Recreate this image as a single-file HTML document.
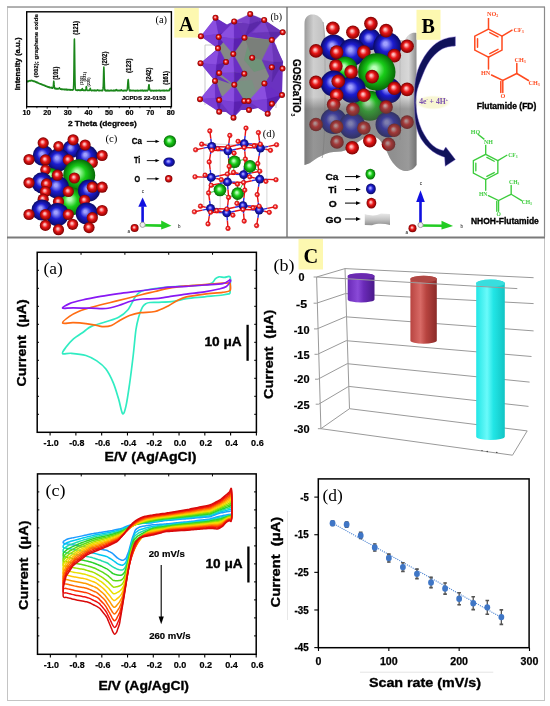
<!DOCTYPE html>
<html><head><meta charset="utf-8"><title>GOS/CaTiO3 figure</title>
<style>html,body{margin:0;padding:0;background:#fff;width:550px;height:706px;overflow:hidden}svg{display:block}</style>
</head><body>
<svg width="550" height="706" viewBox="0 0 550 706"><defs><radialGradient id="g_blue" cx="0.5" cy="0.5" r="0.5" fx="0.42" fy="0.4"><stop offset="0" stop-color="#a0a0ff"/><stop offset="0.12" stop-color="#a0a0ff"/><stop offset="0.5" stop-color="#1c1cd0"/><stop offset="1" stop-color="#0a0a64"/></radialGradient><radialGradient id="g_red" cx="0.5" cy="0.5" r="0.5" fx="0.42" fy="0.4"><stop offset="0" stop-color="#ffc0c0"/><stop offset="0.12" stop-color="#ffc0c0"/><stop offset="0.5" stop-color="#e81616"/><stop offset="1" stop-color="#7a0000"/></radialGradient><radialGradient id="g_green" cx="0.5" cy="0.5" r="0.5" fx="0.42" fy="0.4"><stop offset="0" stop-color="#b8ffb8"/><stop offset="0.12" stop-color="#b8ffb8"/><stop offset="0.5" stop-color="#18cc18"/><stop offset="1" stop-color="#066806"/></radialGradient><radialGradient id="g_gray" cx="0.5" cy="0.5" r="0.5" fx="0.42" fy="0.4"><stop offset="0" stop-color="#ffffff"/><stop offset="0.12" stop-color="#ffffff"/><stop offset="0.5" stop-color="#c8c8c8"/><stop offset="1" stop-color="#707070"/></radialGradient><linearGradient id="g_sheet" x1="0" y1="0" x2="1" y2="0"><stop offset="0" stop-color="#9a9a9a"/><stop offset="0.08" stop-color="#cfcfcf"/><stop offset="0.2" stop-color="#bdbdbd"/><stop offset="0.8" stop-color="#c4c4c4"/><stop offset="0.93" stop-color="#d8d8d8"/><stop offset="1" stop-color="#8a8a8a"/></linearGradient><linearGradient id="g_sheet2" x1="0" y1="0" x2="0" y2="1"><stop offset="0" stop-color="#b0b0b0" stop-opacity="0.0"/><stop offset="0.15" stop-color="#a8a8a8" stop-opacity="0.55"/><stop offset="1" stop-color="#9a9a9a" stop-opacity="0.7"/></linearGradient><linearGradient id="g_ov" gradientUnits="userSpaceOnUse" x1="0" y1="97" x2="0" y2="109"><stop offset="0" stop-color="#5c5c5c" stop-opacity="0"/><stop offset="1" stop-color="#5c5c5c" stop-opacity="0.5"/></linearGradient><linearGradient id="g_go" x1="0" y1="0" x2="0" y2="1"><stop offset="0" stop-color="#e8e8e8"/><stop offset="0.5" stop-color="#c4c4c4"/><stop offset="1" stop-color="#909090"/></linearGradient><radialGradient id="g_ell"><stop offset="0" stop-color="#f8f6d0"/><stop offset="0.75" stop-color="#f8f6d4"/><stop offset="1" stop-color="#fbfae8" stop-opacity="0"/></radialGradient><linearGradient id="cyl1" x1="0" y1="0" x2="1" y2="0"><stop offset="0" stop-color="#6a2ab8"/><stop offset="0.38" stop-color="#8a4ad8"/><stop offset="0.6" stop-color="#6a2ab8"/><stop offset="1" stop-color="#4a1a8a"/></linearGradient><linearGradient id="cyl2" x1="0" y1="0" x2="1" y2="0"><stop offset="0" stop-color="#b84440"/><stop offset="0.38" stop-color="#d86a66"/><stop offset="0.6" stop-color="#b84440"/><stop offset="1" stop-color="#8a2a28"/></linearGradient><linearGradient id="cyl3" x1="0" y1="0" x2="1" y2="0"><stop offset="0" stop-color="#22e6e6"/><stop offset="0.38" stop-color="#6afafa"/><stop offset="0.6" stop-color="#22e6e6"/><stop offset="1" stop-color="#12c4c4"/></linearGradient></defs><rect x="0" y="0" width="550" height="706" fill="#fff"/>
<path d="M26.6 81.64 L26.72 81.79 L26.85 81.64 L26.97 81.74 L27.09 81.72 L27.22 81.34 L27.34 81.27 L27.47 81.72 L27.59 81.34 L27.71 81.28 L27.84 81.7 L27.96 81.34 L28.08 81.52 L28.21 81.27 L28.33 81.32 L28.45 80.99 L28.58 81.24 L28.7 81.34 L28.82 81.09 L28.95 81.18 L29.07 81.1 L29.2 80.7 L29.32 81.07 L29.44 80.93 L29.57 80.72 L29.69 80.52 L29.81 81 L29.94 80.75 L30.06 80.88 L30.18 80.96 L30.31 80.84 L30.43 80.94 L30.56 80.61 L30.68 80.84 L30.8 80.6 L30.93 80.88 L31.05 80.83 L31.17 80.34 L31.3 80.35 L31.42 80.38 L31.54 80.81 L31.67 80.47 L31.79 80.59 L31.91 80.43 L32.04 80.6 L32.16 80.56 L32.29 80.58 L32.41 80.76 L32.53 80.8 L32.66 81.04 L32.78 80.94 L32.9 81.13 L33.03 81.13 L33.15 81.25 L33.27 81.1 L33.4 80.83 L33.52 81.29 L33.65 81.39 L33.77 81.4 L33.89 81.23 L34.02 81.36 L34.14 81.1 L34.26 81.51 L34.39 81.4 L34.51 81.26 L34.63 81.17 L34.76 81.69 L34.88 81.81 L35 81.33 L35.13 81.81 L35.25 81.63 L35.38 81.52 L35.5 81.66 L35.62 82 L35.75 82.12 L35.87 81.68 L35.99 82.07 L36.12 81.78 L36.24 82.24 L36.36 82.06 L36.49 82.45 L36.61 82.56 L36.74 82.33 L36.86 82.68 L36.98 82.32 L37.11 82.24 L37.23 82.6 L37.35 82.32 L37.48 82.47 L37.6 82.65 L37.72 82.83 L37.85 82.61 L37.97 82.59 L38.09 83.14 L38.22 82.86 L38.34 83.31 L38.47 83.32 L38.59 83.06 L38.71 83.17 L38.84 83.26 L38.96 83.39 L39.08 83.41 L39.21 83.44 L39.33 83.53 L39.45 83.77 L39.58 83.56 L39.7 83.57 L39.83 83.8 L39.95 83.56 L40.07 83.65 L40.2 84.11 L40.32 83.88 L40.44 83.95 L40.57 83.68 L40.69 83.98 L40.81 84.13 L40.94 83.84 L41.06 84.25 L41.18 84.32 L41.31 84.02 L41.43 84.42 L41.56 84.37 L41.68 84.55 L41.8 84.41 L41.93 84.67 L42.05 84.74 L42.17 84.36 L42.3 84.43 L42.42 84.85 L42.54 85.07 L42.67 84.69 L42.79 84.86 L42.92 84.99 L43.04 84.88 L43.16 84.95 L43.29 84.97 L43.41 85.05 L43.53 85.23 L43.66 85.1 L43.78 85.2 L43.9 85.48 L44.03 85.08 L44.15 85.46 L44.27 85.61 L44.4 85.4 L44.52 85.39 L44.65 85.79 L44.77 85.5 L44.89 85.52 L45.02 85.71 L45.14 85.92 L45.26 85.61 L45.39 85.79 L45.51 85.84 L45.63 86.19 L45.76 86 L45.88 86.3 L46.01 85.94 L46.13 86.09 L46.25 86.32 L46.38 86.51 L46.5 86.3 L46.62 86.21 L46.75 86.2 L46.87 86.49 L46.99 86.33 L47.12 86.75 L47.24 86.82 L47.36 86.46 L47.49 86.56 L47.61 86.91 L47.74 86.85 L47.86 86.99 L47.98 86.75 L48.11 86.66 L48.23 86.8 L48.35 87.14 L48.48 86.86 L48.6 86.94 L48.72 87.03 L48.85 87.07 L48.97 87.1 L49.1 87.44 L49.22 87.02 L49.34 86.97 L49.47 87.57 L49.59 87.57 L49.71 87.68 L49.84 87.38 L49.96 87.73 L50.08 87.76 L50.21 87.36 L50.33 87.7 L50.45 87.78 L50.58 87.7 L50.7 87.64 L50.83 87.53 L50.95 87.58 L51.07 87.54 L51.2 87.47 L51.32 87.81 L51.44 87.65 L51.57 87.99 L51.69 87.56 L51.81 88.1 L51.94 88 L52.06 88.16 L52.19 88.17 L52.31 88.2 L52.43 88.03 L52.56 87.71 L52.68 88.16 L52.8 87.8 L52.93 87.78 L53.05 87.73 L53.17 87.06 L53.3 85.98 L53.42 84.86 L53.54 83.08 L53.67 81.64 L53.79 81.11 L53.92 82.01 L54.04 83.1 L54.16 84.92 L54.29 86.14 L54.41 87.12 L54.53 87.95 L54.66 88.45 L54.78 88.21 L54.9 88.65 L55.03 88.76 L55.15 88.72 L55.28 88.76 L55.4 88.3 L55.52 88.69 L55.65 88.84 L55.77 88.37 L55.89 88.51 L56.02 88.53 L56.14 88.69 L56.26 88.65 L56.39 88.69 L56.51 88.89 L56.63 88.43 L56.76 88.48 L56.88 88.54 L57.01 88.55 L57.13 88.53 L57.25 89.09 L57.38 89.03 L57.5 88.58 L57.62 88.85 L57.75 88.75 L57.87 88.76 L57.99 88.8 L58.12 88.99 L58.24 88.96 L58.37 88.84 L58.49 88.74 L58.61 88.81 L58.74 88.65 L58.86 88.83 L58.98 88.78 L59.11 88.39 L59.23 87.98 L59.35 87.82 L59.48 87.81 L59.6 87.94 L59.72 88.17 L59.85 88.15 L59.97 88.66 L60.1 88.79 L60.22 88.86 L60.34 88.95 L60.47 89.11 L60.59 89.28 L60.71 89.14 L60.84 89.32 L60.96 89.19 L61.08 89.07 L61.21 89.25 L61.33 89.36 L61.46 88.99 L61.58 89.21 L61.7 89.22 L61.83 89.5 L61.95 89.54 L62.07 89.22 L62.2 89.54 L62.32 89.48 L62.44 89.17 L62.57 89.3 L62.69 89.11 L62.81 89.53 L62.94 89.45 L63.06 89.59 L63.19 89.55 L63.31 89.48 L63.43 89.53 L63.56 89.44 L63.68 89.17 L63.8 89.47 L63.93 89.13 L64.05 89.22 L64.17 89.61 L64.3 89.18 L64.42 89.21 L64.55 89.23 L64.67 89.7 L64.79 89.29 L64.92 89.21 L65.04 89.71 L65.16 89.28 L65.29 89.73 L65.41 89.63 L65.53 89.74 L65.66 89.82 L65.78 89.6 L65.9 89.74 L66.03 89.3 L66.15 89.74 L66.28 89.6 L66.4 89.73 L66.52 89.37 L66.65 89.77 L66.77 89.89 L66.89 89.37 L67.02 89.54 L67.14 89.69 L67.26 89.86 L67.39 89.52 L67.51 89.49 L67.64 89.54 L67.76 89.77 L67.88 89.86 L68.01 89.65 L68.13 89.64 L68.25 89.66 L68.38 89.64 L68.5 89.68 L68.62 89.49 L68.75 89.75 L68.87 90.04 L68.99 89.71 L69.12 89.91 L69.24 89.57 L69.37 89.89 L69.49 89.94 L69.61 89.89 L69.74 89.8 L69.86 89.79 L69.98 89.89 L70.11 90.05 L70.23 89.61 L70.35 89.58 L70.48 89.98 L70.6 90.09 L70.73 89.85 L70.85 89.81 L70.97 89.99 L71.1 89.67 L71.22 89.73 L71.34 89.69 L71.47 89.93 L71.59 89.77 L71.71 89.73 L71.84 90.01 L71.96 90.17 L72.08 89.79 L72.21 90.04 L72.33 89.87 L72.46 90.14 L72.58 89.98 L72.7 89.8 L72.83 89.77 L72.95 89.65 L73.07 89.9 L73.2 89.74 L73.32 89.3 L73.44 88.58 L73.57 86.67 L73.69 83.23 L73.82 76.57 L73.94 68.07 L74.06 56.97 L74.19 46.78 L74.31 39.91 L74.43 39.08 L74.56 44.14 L74.68 53.42 L74.8 64.31 L74.93 74.25 L75.05 81.56 L75.17 85.8 L75.3 88.42 L75.42 89.67 L75.55 89.83 L75.67 89.85 L75.79 89.91 L75.92 90.22 L76.04 90.2 L76.16 90.38 L76.29 90.32 L76.41 89.96 L76.53 89.94 L76.66 89.99 L76.78 89.95 L76.91 90.26 L77.03 90.36 L77.15 90.39 L77.28 90.01 L77.4 90.39 L77.52 90.06 L77.65 90.13 L77.77 90.32 L77.89 89.94 L78.02 89.95 L78.14 90.4 L78.26 90.08 L78.39 90.12 L78.51 90.26 L78.64 90.32 L78.76 89.92 L78.88 90.12 L79.01 90.18 L79.13 90.21 L79.25 90.05 L79.38 90.28 L79.5 90.5 L79.62 90.16 L79.75 90.26 L79.87 90.01 L80 90.1 L80.12 90.34 L80.24 90.01 L80.37 90.48 L80.49 90.49 L80.61 90.01 L80.74 90.52 L80.86 90.18 L80.98 90.42 L81.11 90.41 L81.23 90.13 L81.35 90.35 L81.48 90.3 L81.6 90.28 L81.73 89.75 L81.85 89.71 L81.97 89.44 L82.1 88.92 L82.22 88.7 L82.34 88.59 L82.47 89.16 L82.59 89.49 L82.71 90.04 L82.84 90.23 L82.96 90.27 L83.09 90.09 L83.21 90.38 L83.33 90.38 L83.46 90.11 L83.58 90.54 L83.7 90.4 L83.83 90.09 L83.95 90.57 L84.07 90.1 L84.2 90.22 L84.32 90.45 L84.44 90.38 L84.57 90.36 L84.69 90.42 L84.82 90.31 L84.94 90.22 L85.06 90.14 L85.19 90.08 L85.31 90.46 L85.43 90.47 L85.56 90.27 L85.68 90.21 L85.8 89.6 L85.93 88.89 L86.05 88.08 L86.18 87.51 L86.3 86.52 L86.42 86.91 L86.55 87.41 L86.67 88.63 L86.79 89.21 L86.92 89.76 L87.04 90.12 L87.16 90.33 L87.29 90.52 L87.41 90.29 L87.53 90.59 L87.66 90.15 L87.78 90.25 L87.91 90.15 L88.03 90.16 L88.15 90.56 L88.28 90.53 L88.4 90.21 L88.52 90.22 L88.65 90.35 L88.77 90.55 L88.89 90.6 L89.02 90.56 L89.14 90.47 L89.27 90.2 L89.39 90.33 L89.51 90.16 L89.64 90.23 L89.76 89.99 L89.88 89.36 L90.01 88.89 L90.13 88.77 L90.25 88.15 L90.38 88.79 L90.5 89.28 L90.62 89.82 L90.75 89.9 L90.87 90.27 L91 90.42 L91.12 90.51 L91.24 90.74 L91.37 90.57 L91.49 90.34 L91.61 90.68 L91.74 90.46 L91.86 90.53 L91.98 90.61 L92.11 90.17 L92.23 90.64 L92.36 90.57 L92.48 90.47 L92.6 90.5 L92.73 90.46 L92.85 90.3 L92.97 90.51 L93.1 90.21 L93.22 90.49 L93.34 90.58 L93.47 90.46 L93.59 90.54 L93.71 90.78 L93.84 90.74 L93.96 90.29 L94.09 90.69 L94.21 90.59 L94.33 90.25 L94.46 90.43 L94.58 90.36 L94.7 90.27 L94.83 90.55 L94.95 90.79 L95.07 90.42 L95.2 90.75 L95.32 90.65 L95.45 90.32 L95.57 90.75 L95.69 90.6 L95.82 90.8 L95.94 90.68 L96.06 90.69 L96.19 90.46 L96.31 90.73 L96.43 90.8 L96.56 90.75 L96.68 90.48 L96.8 90.63 L96.93 90.41 L97.05 90.11 L97.18 89.98 L97.3 89.9 L97.42 89.88 L97.55 89.8 L97.67 89.98 L97.79 90.13 L97.92 90.1 L98.04 90.12 L98.16 90.36 L98.29 90.25 L98.41 90.43 L98.54 90.67 L98.66 90.49 L98.78 90.38 L98.91 90.83 L99.03 90.73 L99.15 90.52 L99.28 90.52 L99.4 90.62 L99.52 90.66 L99.65 90.43 L99.77 90.3 L99.89 90.43 L100.02 90.77 L100.14 90.39 L100.27 90.58 L100.39 90.42 L100.51 90.43 L100.64 90.4 L100.76 90.54 L100.88 90.4 L101.01 90.32 L101.13 90.37 L101.25 90.4 L101.38 90.59 L101.5 90.34 L101.63 90.31 L101.75 90.57 L101.87 90.54 L102 90.72 L102.12 90.33 L102.24 90.54 L102.37 90.54 L102.49 90.3 L102.61 90.83 L102.74 90.28 L102.86 89.93 L102.98 89.49 L103.11 87.92 L103.23 85.75 L103.36 81.86 L103.48 76.98 L103.6 72.03 L103.73 68.66 L103.85 66.97 L103.97 68.7 L104.1 72.28 L104.22 77.47 L104.34 81.84 L104.47 85.52 L104.59 87.98 L104.72 89.69 L104.84 90.25 L104.96 90.36 L105.09 90.31 L105.21 90.7 L105.33 90.88 L105.46 90.65 L105.58 90.3 L105.7 90.32 L105.83 90.35 L105.95 90.4 L106.07 90.32 L106.2 90.33 L106.32 90.69 L106.45 90.84 L106.57 90.42 L106.69 90.88 L106.82 90.59 L106.94 90.78 L107.06 90.85 L107.19 90.86 L107.31 90.32 L107.43 90.48 L107.56 90.66 L107.68 90.87 L107.81 90.35 L107.93 90.48 L108.05 90.81 L108.18 90.37 L108.3 90.53 L108.42 90.5 L108.55 90.71 L108.67 90.86 L108.79 90.4 L108.92 90.74 L109.04 90.74 L109.16 90.8 L109.29 90.63 L109.41 90.85 L109.54 90.52 L109.66 90.55 L109.78 90.44 L109.91 90.77 L110.03 90.59 L110.15 90.46 L110.28 90.4 L110.4 90.73 L110.52 90.66 L110.65 90.73 L110.77 90.53 L110.9 90.59 L111.02 90.39 L111.14 90.73 L111.27 90.31 L111.39 90.58 L111.51 90.76 L111.64 90.71 L111.76 90.36 L111.88 90.44 L112.01 90.81 L112.13 90.69 L112.25 90.83 L112.38 90.82 L112.5 90.57 L112.63 90.84 L112.75 90.74 L112.87 90.5 L113 90.52 L113.12 90.34 L113.24 90.54 L113.37 90.87 L113.49 90.36 L113.61 90.64 L113.74 90.37 L113.86 90.35 L113.99 90.69 L114.11 90.44 L114.23 90.33 L114.36 90.39 L114.48 90.69 L114.6 90.65 L114.73 90.3 L114.85 90.43 L114.97 90.87 L115.1 90.4 L115.22 90.58 L115.34 90.44 L115.47 90.58 L115.59 90.37 L115.72 90.35 L115.84 90.06 L115.96 89.73 L116.09 89.64 L116.21 89.55 L116.33 90.03 L116.46 89.69 L116.58 89.76 L116.7 90.46 L116.83 90.13 L116.95 90.65 L117.08 90.24 L117.2 90.52 L117.32 90.4 L117.45 90.78 L117.57 90.66 L117.69 90.68 L117.82 90.76 L117.94 90.82 L118.06 90.51 L118.19 90.66 L118.31 90.57 L118.43 90.37 L118.56 90.8 L118.68 90.66 L118.81 90.79 L118.93 90.42 L119.05 90.62 L119.18 90.58 L119.3 90.74 L119.42 90.35 L119.55 90.51 L119.67 90.59 L119.79 90.34 L119.92 90.63 L120.04 90.73 L120.17 90.54 L120.29 90.66 L120.41 90.61 L120.54 90.33 L120.66 90.34 L120.78 90.65 L120.91 90.15 L121.03 90.11 L121.15 89.81 L121.28 89.84 L121.4 89.8 L121.52 90.3 L121.65 90.25 L121.77 90.44 L121.9 90.61 L122.02 90.47 L122.14 90.74 L122.27 90.55 L122.39 90.51 L122.51 90.85 L122.64 90.83 L122.76 90.87 L122.88 90.59 L123.01 90.76 L123.13 90.54 L123.26 90.9 L123.38 90.85 L123.5 90.48 L123.63 90.86 L123.75 90.41 L123.87 90.36 L124 90.73 L124.12 90.48 L124.24 90.61 L124.37 90.68 L124.49 90.32 L124.61 90.75 L124.74 90.47 L124.86 90.56 L124.99 90.51 L125.11 90.75 L125.23 90.75 L125.36 90.47 L125.48 90.36 L125.6 90.48 L125.73 90.55 L125.85 90.35 L125.97 90.39 L126.1 90.76 L126.22 90.72 L126.35 90.88 L126.47 90.88 L126.59 90.81 L126.72 90.48 L126.84 90.28 L126.96 90.23 L127.09 90.03 L127.21 89.57 L127.33 88.77 L127.46 87.47 L127.58 86.21 L127.7 84.05 L127.83 82.3 L127.95 80.99 L128.08 79.98 L128.2 79.53 L128.32 80.2 L128.45 81.94 L128.57 83.25 L128.69 85.19 L128.82 87.09 L128.94 88.41 L129.06 89.12 L129.19 89.65 L129.31 90.08 L129.44 90.61 L129.56 90.51 L129.68 90.86 L129.81 90.76 L129.93 90.88 L130.05 90.32 L130.18 90.41 L130.3 90.31 L130.42 90.56 L130.55 90.5 L130.67 90.33 L130.79 90.63 L130.92 90.36 L131.04 90.49 L131.17 90.45 L131.29 90.78 L131.41 90.55 L131.54 90.46 L131.66 90.33 L131.78 90.56 L131.91 90.68 L132.03 90.71 L132.15 90.85 L132.28 90.79 L132.4 90.45 L132.53 90.38 L132.65 90.75 L132.77 90.77 L132.9 90.61 L133.02 90.8 L133.14 90.63 L133.27 90.47 L133.39 90.4 L133.51 90.31 L133.64 90.69 L133.76 90.84 L133.88 90.84 L134.01 90.58 L134.13 90.7 L134.26 90.86 L134.38 90.79 L134.5 90.66 L134.63 90.55 L134.75 90.61 L134.87 90.4 L135 90.41 L135.12 90.71 L135.24 90.9 L135.37 90.63 L135.49 90.54 L135.62 90.51 L135.74 90.57 L135.86 90.78 L135.99 90.57 L136.11 90.88 L136.23 90.39 L136.36 90.49 L136.48 90.61 L136.6 90.55 L136.73 90.81 L136.85 90.8 L136.97 90.86 L137.1 90.67 L137.22 90.32 L137.35 90.64 L137.47 90.63 L137.59 90.59 L137.72 90.47 L137.84 90.73 L137.96 90.85 L138.09 90.36 L138.21 90.7 L138.33 90.52 L138.46 90.61 L138.58 90.84 L138.71 90.88 L138.83 90.69 L138.95 90.42 L139.08 90.85 L139.2 90.41 L139.32 90.53 L139.45 90.8 L139.57 90.49 L139.69 90.46 L139.82 90.87 L139.94 90.87 L140.06 90.49 L140.19 90.54 L140.31 90.47 L140.44 90.38 L140.56 90.45 L140.68 90.89 L140.81 90.35 L140.93 90.44 L141.05 90.42 L141.18 90.35 L141.3 90.62 L141.42 90.75 L141.55 90.8 L141.67 90.68 L141.8 90.79 L141.92 90.3 L142.04 90.47 L142.17 90.88 L142.29 90.34 L142.41 90.46 L142.54 90.59 L142.66 90.46 L142.78 90.63 L142.91 90.33 L143.03 90.44 L143.15 90.87 L143.28 90.39 L143.4 90.84 L143.53 90.41 L143.65 90.9 L143.77 90.7 L143.9 90.69 L144.02 90.39 L144.14 90.33 L144.27 90.76 L144.39 90.41 L144.51 90.41 L144.64 90.79 L144.76 90.82 L144.89 90.33 L145.01 90.88 L145.13 90.62 L145.26 90.53 L145.38 90.36 L145.5 90.53 L145.63 90.89 L145.75 90.47 L145.87 90.38 L146 90.39 L146.12 90.38 L146.24 90.51 L146.37 90.85 L146.49 90.35 L146.62 90.42 L146.74 90.86 L146.86 90.9 L146.99 90.89 L147.11 90.45 L147.23 90.51 L147.36 90.87 L147.48 90.58 L147.6 90.7 L147.73 90.43 L147.85 90.17 L147.98 90.19 L148.1 90.12 L148.22 89.62 L148.35 88.74 L148.47 87.7 L148.59 86.65 L148.72 85.57 L148.84 84.89 L148.96 84.8 L149.09 84.69 L149.21 85.66 L149.33 86.89 L149.46 87.93 L149.58 88.5 L149.71 89.73 L149.83 90.17 L149.95 90.08 L150.08 90.31 L150.2 90.36 L150.32 90.31 L150.45 90.88 L150.57 90.54 L150.69 90.82 L150.82 90.37 L150.94 90.31 L151.07 90.82 L151.19 90.78 L151.31 90.89 L151.44 90.71 L151.56 90.62 L151.68 90.76 L151.81 90.36 L151.93 90.62 L152.05 90.56 L152.18 90.39 L152.3 90.66 L152.42 90.49 L152.55 90.6 L152.67 90.52 L152.8 90.49 L152.92 90.52 L153.04 90.66 L153.17 90.89 L153.29 90.86 L153.41 90.82 L153.54 90.8 L153.66 90.47 L153.78 90.89 L153.91 90.46 L154.03 90.37 L154.16 90.6 L154.28 90.74 L154.4 90.5 L154.53 90.69 L154.65 90.47 L154.77 90.88 L154.9 90.57 L155.02 90.59 L155.14 90.62 L155.27 90.82 L155.39 90.89 L155.51 90.62 L155.64 90.56 L155.76 90.67 L155.89 90.34 L156.01 90.56 L156.13 90.81 L156.26 90.77 L156.38 90.34 L156.5 90.81 L156.63 90.53 L156.75 90.89 L156.87 90.52 L157 90.43 L157.12 90.63 L157.25 90.83 L157.37 90.56 L157.49 90.82 L157.62 90.73 L157.74 90.52 L157.86 90.48 L157.99 90.6 L158.11 90.54 L158.23 90.52 L158.36 90.69 L158.48 90.83 L158.6 90.65 L158.73 90.39 L158.85 90.43 L158.98 90.52 L159.1 90.67 L159.22 90.38 L159.35 90.35 L159.47 90.49 L159.59 90.47 L159.72 90.32 L159.84 90.62 L159.96 90.85 L160.09 90.62 L160.21 90.74 L160.34 90.8 L160.46 90.8 L160.58 90.85 L160.71 90.56 L160.83 90.71 L160.95 90.37 L161.08 90.83 L161.2 90.53 L161.32 90.59 L161.45 90.83 L161.57 90.47 L161.69 90.41 L161.82 90.79 L161.94 90.66 L162.07 90.35 L162.19 90.32 L162.31 90.51 L162.44 90.3 L162.56 90.8 L162.68 90.41 L162.81 90.46 L162.93 90.53 L163.05 90.61 L163.18 90.56 L163.3 90.68 L163.43 90.7 L163.55 90.56 L163.67 90.36 L163.8 90.89 L163.92 90.71 L164.04 90.35 L164.17 90.57 L164.29 90.75 L164.41 90.9 L164.54 90.34 L164.66 90.31 L164.78 90.59 L164.91 90.55 L165.03 90.84 L165.16 90.8 L165.28 90.5 L165.4 90.55 L165.53 90.65 L165.65 90.83 L165.77 90.42 L165.9 90.54 L166.02 90.35 L166.14 90.68 L166.27 90.32 L166.39 90.86 L166.52 90.61 L166.64 90.64 L166.76 90.35 L166.89 90.44 L167.01 90.58 L167.13 90.81 L167.26 90.62 L167.38 90.47 L167.5 90.89 L167.63 90.7 L167.75 90.62 L167.87 90.42 L168 90.48 L168.12 90.84 L168.25 90.38 L168.37 90.62 L168.49 90.67 L168.62 90.51 L168.74 90.76 L168.86 90.84 L168.99 90.8 L169.11 90.71 L169.23 90.35 L169.36 90.17 L169.48 90.21 L169.61 89.86 L169.73 89.4 L169.85 89.36 L169.98 88.55 L170.1 88.65 L170.22 88.68 L170.35 88.39 L170.47 89.24 L170.59 89.38 L170.72 89.68" fill="none" stroke="#1a861a" stroke-width="1.5" stroke-linejoin="round"/>
<rect x="26.7" y="11.8" width="144.7" height="94.9" fill="none" stroke="#000" stroke-width="1.4"/>
<line x1="26.6" y1="106.7" x2="26.6" y2="108.7" stroke="#000" stroke-width="1"/>
<line x1="36.9" y1="106.7" x2="36.9" y2="108.2" stroke="#000" stroke-width="0.8"/>
<text x="26.6" y="115.4" font-size="6.4" font-family='"Liberation Sans", Arial, sans-serif' font-weight="bold" fill="#000" text-anchor="middle" textLength="8" lengthAdjust="spacingAndGlyphs" stroke="#000" stroke-width="0.2">10</text>
<line x1="47.2" y1="106.7" x2="47.2" y2="108.7" stroke="#000" stroke-width="1"/>
<line x1="57.5" y1="106.7" x2="57.5" y2="108.2" stroke="#000" stroke-width="0.8"/>
<text x="47.2" y="115.4" font-size="6.4" font-family='"Liberation Sans", Arial, sans-serif' font-weight="bold" fill="#000" text-anchor="middle" textLength="8" lengthAdjust="spacingAndGlyphs" stroke="#000" stroke-width="0.2">20</text>
<line x1="67.8" y1="106.7" x2="67.8" y2="108.7" stroke="#000" stroke-width="1"/>
<line x1="78.1" y1="106.7" x2="78.1" y2="108.2" stroke="#000" stroke-width="0.8"/>
<text x="67.8" y="115.4" font-size="6.4" font-family='"Liberation Sans", Arial, sans-serif' font-weight="bold" fill="#000" text-anchor="middle" textLength="8" lengthAdjust="spacingAndGlyphs" stroke="#000" stroke-width="0.2">30</text>
<line x1="88.4" y1="106.7" x2="88.4" y2="108.7" stroke="#000" stroke-width="1"/>
<line x1="98.7" y1="106.7" x2="98.7" y2="108.2" stroke="#000" stroke-width="0.8"/>
<text x="88.4" y="115.4" font-size="6.4" font-family='"Liberation Sans", Arial, sans-serif' font-weight="bold" fill="#000" text-anchor="middle" textLength="8" lengthAdjust="spacingAndGlyphs" stroke="#000" stroke-width="0.2">40</text>
<line x1="109" y1="106.7" x2="109" y2="108.7" stroke="#000" stroke-width="1"/>
<line x1="119.3" y1="106.7" x2="119.3" y2="108.2" stroke="#000" stroke-width="0.8"/>
<text x="109" y="115.4" font-size="6.4" font-family='"Liberation Sans", Arial, sans-serif' font-weight="bold" fill="#000" text-anchor="middle" textLength="8" lengthAdjust="spacingAndGlyphs" stroke="#000" stroke-width="0.2">50</text>
<line x1="129.6" y1="106.7" x2="129.6" y2="108.7" stroke="#000" stroke-width="1"/>
<line x1="139.9" y1="106.7" x2="139.9" y2="108.2" stroke="#000" stroke-width="0.8"/>
<text x="129.6" y="115.4" font-size="6.4" font-family='"Liberation Sans", Arial, sans-serif' font-weight="bold" fill="#000" text-anchor="middle" textLength="8" lengthAdjust="spacingAndGlyphs" stroke="#000" stroke-width="0.2">60</text>
<line x1="150.2" y1="106.7" x2="150.2" y2="108.7" stroke="#000" stroke-width="1"/>
<line x1="160.5" y1="106.7" x2="160.5" y2="108.2" stroke="#000" stroke-width="0.8"/>
<text x="150.2" y="115.4" font-size="6.4" font-family='"Liberation Sans", Arial, sans-serif' font-weight="bold" fill="#000" text-anchor="middle" textLength="8" lengthAdjust="spacingAndGlyphs" stroke="#000" stroke-width="0.2">70</text>
<line x1="170.8" y1="106.7" x2="170.8" y2="108.7" stroke="#000" stroke-width="1"/>
<text x="170.8" y="115.4" font-size="6.4" font-family='"Liberation Sans", Arial, sans-serif' font-weight="bold" fill="#000" text-anchor="middle" textLength="8" lengthAdjust="spacingAndGlyphs" stroke="#000" stroke-width="0.2">80</text>
<text x="67.9" y="126" font-size="7.8" font-family='"Liberation Sans", Arial, sans-serif' font-weight="bold" fill="#000" textLength="69" lengthAdjust="spacingAndGlyphs" stroke="#000" stroke-width="0.3">2 Theta (degrees)</text>
<text x="20.3" y="90.3" font-size="8" font-family='"Liberation Sans", Arial, sans-serif' font-weight="bold" fill="#000" textLength="52.9" lengthAdjust="spacingAndGlyphs" transform="rotate(-90 20.3 90.3)" stroke="#000" stroke-width="0.3">Intensity (a.u.)</text>
<text x="37.6" y="77.5" font-size="5.8" font-family='"Liberation Sans", Arial, sans-serif' font-weight="bold" fill="#000" textLength="63.5" lengthAdjust="spacingAndGlyphs" transform="rotate(-90 37.6 77.5)" stroke="#000" stroke-width="0.15">(002); graphene oxide</text>
<text x="57.6" y="79.8" font-size="6.4" font-family='"Liberation Sans", Arial, sans-serif' font-weight="bold" fill="#000" textLength="13.1" lengthAdjust="spacingAndGlyphs" transform="rotate(-90 57.6 79.8)" stroke="#000" stroke-width="0.2">(101)</text>
<text x="77.7" y="34.7" font-size="6.4" font-family='"Liberation Sans", Arial, sans-serif' font-weight="bold" fill="#000" textLength="13.7" lengthAdjust="spacingAndGlyphs" transform="rotate(-90 77.7 34.7)" stroke="#000" stroke-width="0.2">(121)</text>
<text x="107" y="65.5" font-size="6.4" font-family='"Liberation Sans", Arial, sans-serif' font-weight="bold" fill="#000" textLength="13.9" lengthAdjust="spacingAndGlyphs" transform="rotate(-90 107 65.5)" stroke="#000" stroke-width="0.2">(202)</text>
<text x="131.4" y="73" font-size="6.4" font-family='"Liberation Sans", Arial, sans-serif' font-weight="bold" fill="#000" textLength="14.5" lengthAdjust="spacingAndGlyphs" transform="rotate(-90 131.4 73)" stroke="#000" stroke-width="0.2">(123)</text>
<text x="151.5" y="81.7" font-size="6.4" font-family='"Liberation Sans", Arial, sans-serif' font-weight="bold" fill="#000" textLength="14.2" lengthAdjust="spacingAndGlyphs" transform="rotate(-90 151.5 81.7)" stroke="#000" stroke-width="0.2">(242)</text>
<text x="168.5" y="84.8" font-size="6.4" font-family='"Liberation Sans", Arial, sans-serif' font-weight="bold" fill="#000" textLength="13.8" lengthAdjust="spacingAndGlyphs" transform="rotate(-90 168.5 84.8)" stroke="#000" stroke-width="0.2">(161)</text>
<text x="82.5" y="85" font-size="3.8" font-family='"Liberation Sans", Arial, sans-serif' font-weight="bold" fill="#000" textLength="9" lengthAdjust="spacingAndGlyphs" transform="rotate(-90 82.5 85)">(102)</text>
<text x="86" y="81.5" font-size="3.8" font-family='"Liberation Sans", Arial, sans-serif' font-weight="bold" fill="#000" textLength="9.5" lengthAdjust="spacingAndGlyphs" transform="rotate(-90 86 81.5)">(031)</text>
<text x="90.3" y="86.5" font-size="3.8" font-family='"Liberation Sans", Arial, sans-serif' font-weight="bold" fill="#000" textLength="9" lengthAdjust="spacingAndGlyphs" transform="rotate(-90 90.3 86.5)">(220)</text>
<text x="121.7" y="99.5" font-size="5.9" font-family='"Liberation Sans", Arial, sans-serif' font-weight="bold" fill="#000" textLength="44.3" lengthAdjust="spacingAndGlyphs" stroke="#000" stroke-width="0.2">JCPDS 22-0153</text>
<text x="155.5" y="23" font-size="9.5" font-family='"Liberation Serif", "Times New Roman", serif' font-weight="normal" fill="#000" textLength="11.5" lengthAdjust="spacingAndGlyphs">(a)</text>
<rect x="174.3" y="7.5" width="24.5" height="30.1" fill="#fdf8b0"/>
<text x="179" y="30.8" font-size="21.5" font-family='"Liberation Serif", "Times New Roman", serif' font-weight="bold" fill="#000" textLength="14.6" lengthAdjust="spacingAndGlyphs">A</text>
<path d="M205 45 L205 105 M276 45 L276 108 M205 45 L276 45" stroke="#bbb" stroke-width="0.8" fill="none"/>
<path d="M215.5 17.7 L227 24.5 L233.8 21 L240.5 25 L250.2 14 L258.5 21.5 L264 19.7 L282.7 32.3 L274 41 L283 62 L282 95.1 L267.7 113.8 L258 108 L249 110 L241 110 L233.5 117.7 L226 112 L219.2 111.8 L200 99.2 L215 80.9 L200.5 63.2 L218 48.3 L200.9 36.3 Z" fill="#6a32c0"/>
<path d="M221 38 L244.5 36 L272 40 L273 70 L265 83 L258 101 L245 101 L234 86 L219 76 L218 48 Z" fill="#858985"/>
<path d="M248 44 L268 48 L268 68 L254 72 L244 60 Z" fill="#5f9a6f" opacity="0.55"/>
<path d="M228 82 L252 80 L258 98 L238 100 Z" fill="#6f9a80" opacity="0.5"/>
<path d="M244.5 37.7 L272 40 L262 60 L252.2 57.7 Z" fill="#7a7f7a"/>
<path d="M216 79 L234 85 L234 93 L221 97 Z" fill="#858985"/>
<path d="M249.72 24.2 L250.2 14 L234.2 21.4 Z" fill="#7d45cc" stroke="#7d45cc" stroke-width="0.3"/>
<path d="M249.72 24.2 L250.2 14 L264 19.7 Z" fill="#6a35b8" stroke="#6a35b8" stroke-width="0.3"/>
<path d="M249.72 24.2 L244.5 37.7 L234.2 21.4 Z" fill="#6a35b8" stroke="#6a35b8" stroke-width="0.3"/>
<path d="M249.72 24.2 L244.5 37.7 L264 19.7 Z" fill="#5a28a8" stroke="#5a28a8" stroke-width="0.3"/>
<path d="M269.18 32.3 L264.2 19.9 L252 33 Z" fill="#7d45cc" stroke="#7d45cc" stroke-width="0.3"/>
<path d="M269.18 32.3 L264.2 19.9 L282.7 32.3 Z" fill="#6a35b8" stroke="#6a35b8" stroke-width="0.3"/>
<path d="M269.18 32.3 L271.8 40 L252 33 Z" fill="#6a35b8" stroke="#6a35b8" stroke-width="0.3"/>
<path d="M269.18 32.3 L271.8 40 L282.7 32.3 Z" fill="#5a28a8" stroke="#5a28a8" stroke-width="0.3"/>
<path d="M273.68 62 L271.8 40 L262 60 Z" fill="#7d45cc" stroke="#7d45cc" stroke-width="0.3"/>
<path d="M273.68 62 L271.8 40 L283 62 Z" fill="#6a35b8" stroke="#6a35b8" stroke-width="0.3"/>
<path d="M273.68 62 L271.9 82 L262 60 Z" fill="#6a35b8" stroke="#6a35b8" stroke-width="0.3"/>
<path d="M273.68 62 L271.9 82 L283 62 Z" fill="#5a28a8" stroke="#5a28a8" stroke-width="0.3"/>
<path d="M218.47 34.08 L215.5 17.7 L200.9 36.3 Z" fill="#8a4ee0" stroke="#8a4ee0" stroke-width="0.3"/>
<path d="M218.47 34.08 L215.5 17.7 L233.5 30 Z" fill="#6a2ec4" stroke="#6a2ec4" stroke-width="0.3"/>
<path d="M218.47 34.08 L218 48.3 L200.9 36.3 Z" fill="#7a3ed4" stroke="#7a3ed4" stroke-width="0.3"/>
<path d="M218.47 34.08 L218 48.3 L233.5 30 Z" fill="#5a20b0" stroke="#5a20b0" stroke-width="0.3"/>
<path d="M216.62 64.67 L219 48.6 L200.5 63.2 Z" fill="#8a4ee0" stroke="#8a4ee0" stroke-width="0.3"/>
<path d="M216.62 64.67 L219 48.6 L226 62 Z" fill="#6a2ec4" stroke="#6a2ec4" stroke-width="0.3"/>
<path d="M216.62 64.67 L215 80.9 L200.5 63.2 Z" fill="#7a3ed4" stroke="#7a3ed4" stroke-width="0.3"/>
<path d="M216.62 64.67 L215 80.9 L226 62 Z" fill="#5a20b0" stroke="#5a20b0" stroke-width="0.3"/>
<path d="M215.43 98 L215 80.9 L200 99.3 Z" fill="#8a4ee0" stroke="#8a4ee0" stroke-width="0.3"/>
<path d="M215.43 98 L215 80.9 L221.5 96 Z" fill="#6a2ec4" stroke="#6a2ec4" stroke-width="0.3"/>
<path d="M215.43 98 L219.2 111.8 L200 99.3 Z" fill="#7a3ed4" stroke="#7a3ed4" stroke-width="0.3"/>
<path d="M215.43 98 L219.2 111.8 L221.5 96 Z" fill="#5a20b0" stroke="#5a20b0" stroke-width="0.3"/>
<path d="M267.15 99.32 L264.4 83.4 L248.5 101 Z" fill="#8a4ee0" stroke="#8a4ee0" stroke-width="0.3"/>
<path d="M267.15 99.32 L264.4 83.4 L282 95.1 Z" fill="#6a2ec4" stroke="#6a2ec4" stroke-width="0.3"/>
<path d="M267.15 99.32 L267.7 113.8 L248.5 101 Z" fill="#7a3ed4" stroke="#7a3ed4" stroke-width="0.3"/>
<path d="M267.15 99.32 L267.7 113.8 L282 95.1 Z" fill="#5a20b0" stroke="#5a20b0" stroke-width="0.3"/>
<path d="M234.18 38.53 L234.2 21.4 L218.7 37 Z" fill="#8a4ee0" stroke="#8a4ee0" stroke-width="0.3"/>
<path d="M234.18 38.53 L234.2 21.4 L244.5 37.7 Z" fill="#6a2ec4" stroke="#6a2ec4" stroke-width="0.3"/>
<path d="M234.18 38.53 L233.3 54 L218.7 37 Z" fill="#7a3ed4" stroke="#7a3ed4" stroke-width="0.3"/>
<path d="M234.18 38.53 L233.3 54 L244.5 37.7 Z" fill="#5a20b0" stroke="#5a20b0" stroke-width="0.3"/>
<path d="M234.27 72.35 L233.3 54 L219.2 73 Z" fill="#8a4ee0" stroke="#8a4ee0" stroke-width="0.3"/>
<path d="M234.27 72.35 L233.3 54 L244.3 73.7 Z" fill="#6a2ec4" stroke="#6a2ec4" stroke-width="0.3"/>
<path d="M234.27 72.35 L234.3 84.7 L219.2 73 Z" fill="#7a3ed4" stroke="#7a3ed4" stroke-width="0.3"/>
<path d="M234.27 72.35 L234.3 84.7 L244.3 73.7 Z" fill="#5a20b0" stroke="#5a20b0" stroke-width="0.3"/>
<path d="M234.32 101.88 L234.3 84.7 L219.2 100.1 Z" fill="#8a4ee0" stroke="#8a4ee0" stroke-width="0.3"/>
<path d="M234.32 101.88 L234.3 84.7 L244.3 101 Z" fill="#6a2ec4" stroke="#6a2ec4" stroke-width="0.3"/>
<path d="M234.32 101.88 L233.5 117.7 L219.2 100.1 Z" fill="#7a3ed4" stroke="#7a3ed4" stroke-width="0.3"/>
<path d="M234.32 101.88 L233.5 117.7 L244.3 101 Z" fill="#5a20b0" stroke="#5a20b0" stroke-width="0.3"/>
<circle cx="250.2" cy="14" r="3" fill="url(#g_red)"/>
<circle cx="215.5" cy="17.7" r="3" fill="url(#g_red)"/>
<circle cx="234.2" cy="21.4" r="3" fill="url(#g_red)"/>
<circle cx="264.2" cy="19.9" r="3" fill="url(#g_red)"/>
<circle cx="200.9" cy="36.3" r="3" fill="url(#g_red)"/>
<circle cx="218.7" cy="37" r="3" fill="url(#g_red)"/>
<circle cx="244.5" cy="37.7" r="3" fill="url(#g_red)"/>
<circle cx="271.8" cy="40" r="3" fill="url(#g_red)"/>
<circle cx="282.7" cy="32.3" r="3" fill="url(#g_red)"/>
<circle cx="218" cy="48.3" r="3" fill="url(#g_red)"/>
<circle cx="233.3" cy="54" r="3" fill="url(#g_red)"/>
<circle cx="252.2" cy="57.7" r="3" fill="url(#g_red)"/>
<circle cx="200.5" cy="63.2" r="3" fill="url(#g_red)"/>
<circle cx="226" cy="62" r="3" fill="url(#g_red)"/>
<circle cx="271.8" cy="67.2" r="3" fill="url(#g_red)"/>
<circle cx="282.5" cy="68.6" r="3" fill="url(#g_red)"/>
<circle cx="219.2" cy="73" r="3" fill="url(#g_red)"/>
<circle cx="244.3" cy="73.7" r="3" fill="url(#g_red)"/>
<circle cx="215" cy="80.9" r="3" fill="url(#g_red)"/>
<circle cx="234.3" cy="84.7" r="3" fill="url(#g_red)"/>
<circle cx="264.4" cy="83.4" r="3" fill="url(#g_red)"/>
<circle cx="200" cy="99.3" r="3" fill="url(#g_red)"/>
<circle cx="219.2" cy="100.1" r="3" fill="url(#g_red)"/>
<circle cx="244.3" cy="101" r="3" fill="url(#g_red)"/>
<circle cx="271.9" cy="103.8" r="3" fill="url(#g_red)"/>
<circle cx="282" cy="95.1" r="3" fill="url(#g_red)"/>
<circle cx="219.2" cy="111.8" r="3" fill="url(#g_red)"/>
<circle cx="249" cy="110" r="3" fill="url(#g_red)"/>
<circle cx="233.5" cy="117.7" r="3" fill="url(#g_red)"/>
<circle cx="267.7" cy="113.8" r="3" fill="url(#g_red)"/>
<circle cx="248.5" cy="101" r="3" fill="url(#g_red)"/>
<text x="270.5" y="19.5" font-size="9.5" font-family='"Liberation Serif", "Times New Roman", serif' font-weight="normal" fill="#000" textLength="11.5" lengthAdjust="spacingAndGlyphs">(b)</text>
<circle cx="71.5" cy="149" r="9" fill="url(#g_blue)"/>
<circle cx="73.1" cy="139.8" r="5.6" fill="url(#g_red)"/>
<circle cx="43.2" cy="155.5" r="10.5" fill="url(#g_blue)"/>
<circle cx="86.8" cy="156.6" r="11" fill="url(#g_blue)"/>
<circle cx="43.2" cy="142.9" r="5.6" fill="url(#g_red)"/>
<circle cx="85.1" cy="145" r="5.6" fill="url(#g_red)"/>
<circle cx="58.5" cy="159.9" r="11.5" fill="url(#g_blue)"/>
<circle cx="58.5" cy="146.2" r="5.2" fill="url(#g_red)"/>
<circle cx="29" cy="159.5" r="5.6" fill="url(#g_red)"/>
<circle cx="45.4" cy="159.9" r="5.6" fill="url(#g_red)"/>
<circle cx="68.3" cy="159.9" r="5.6" fill="url(#g_red)"/>
<circle cx="102.1" cy="155.5" r="5.6" fill="url(#g_red)"/>
<circle cx="92.3" cy="162.5" r="5.6" fill="url(#g_red)"/>
<circle cx="50.8" cy="176" r="8" fill="url(#g_green)"/>
<circle cx="45.4" cy="169.7" r="5.2" fill="url(#g_red)"/>
<circle cx="42" cy="182.8" r="10.5" fill="url(#g_blue)"/>
<circle cx="79.2" cy="175.2" r="16" fill="url(#g_green)"/>
<circle cx="71.5" cy="201.4" r="14" fill="url(#g_green)"/>
<circle cx="89" cy="190.5" r="11" fill="url(#g_blue)"/>
<circle cx="57.4" cy="187.2" r="11.5" fill="url(#g_blue)"/>
<circle cx="57.4" cy="175.2" r="5.6" fill="url(#g_red)"/>
<circle cx="74.4" cy="178" r="5.6" fill="url(#g_red)"/>
<circle cx="29" cy="182.8" r="5.6" fill="url(#g_red)"/>
<circle cx="46.5" cy="183.9" r="5.6" fill="url(#g_red)"/>
<circle cx="92.3" cy="187.2" r="5.6" fill="url(#g_red)"/>
<circle cx="102.1" cy="187.2" r="5.6" fill="url(#g_red)"/>
<circle cx="45.4" cy="191.5" r="5.6" fill="url(#g_red)"/>
<circle cx="68.3" cy="191.5" r="5.6" fill="url(#g_red)"/>
<circle cx="43.2" cy="199.2" r="5.6" fill="url(#g_red)"/>
<circle cx="58.5" cy="201.8" r="5.6" fill="url(#g_red)"/>
<circle cx="84.6" cy="200.3" r="5.6" fill="url(#g_red)"/>
<circle cx="42" cy="210" r="10.5" fill="url(#g_blue)"/>
<circle cx="86.8" cy="213.4" r="11" fill="url(#g_blue)"/>
<circle cx="57.4" cy="214.5" r="11.5" fill="url(#g_blue)"/>
<circle cx="29" cy="214.5" r="5.6" fill="url(#g_red)"/>
<circle cx="45.4" cy="214.5" r="5.6" fill="url(#g_red)"/>
<circle cx="68.3" cy="214.5" r="5.6" fill="url(#g_red)"/>
<circle cx="102.1" cy="210.5" r="5.6" fill="url(#g_red)"/>
<circle cx="92.3" cy="217.7" r="5.6" fill="url(#g_red)"/>
<circle cx="45.4" cy="225.4" r="5.6" fill="url(#g_red)"/>
<circle cx="58.5" cy="229.7" r="5.6" fill="url(#g_red)"/>
<circle cx="72.6" cy="224.3" r="5.6" fill="url(#g_red)"/>
<circle cx="89" cy="227.6" r="5.6" fill="url(#g_red)"/>
<text x="105.4" y="142" font-size="9.5" font-family='"Liberation Serif", "Times New Roman", serif' font-weight="normal" fill="#000" textLength="12" lengthAdjust="spacingAndGlyphs">(c)</text>
<text x="131.7" y="144.3" font-size="8.2" font-family='"Liberation Sans", Arial, sans-serif' font-weight="bold" fill="#000" textLength="10.1" lengthAdjust="spacingAndGlyphs" stroke="#000" stroke-width="0.3">Ca</text>
<text x="134" y="163.4" font-size="8.2" font-family='"Liberation Sans", Arial, sans-serif' font-weight="bold" fill="#000" textLength="6.3" lengthAdjust="spacingAndGlyphs" stroke="#000" stroke-width="0.3">Ti</text>
<text x="134.4" y="181.7" font-size="8.2" font-family='"Liberation Sans", Arial, sans-serif' font-weight="bold" fill="#000" textLength="5.6" lengthAdjust="spacingAndGlyphs" stroke="#000" stroke-width="0.3">O</text>
<path d="M146.8 141.4 L157 141.4" stroke="#000" stroke-width="0.9"/><path d="M155.5 139.8 L159.5 141.4 L155.5 143 Z" fill="#000"/>
<path d="M146.8 160.6 L157 160.6" stroke="#000" stroke-width="0.9"/><path d="M155.5 159 L159.5 160.6 L155.5 162.2 Z" fill="#000"/>
<path d="M146.8 178.8 L157 178.8" stroke="#000" stroke-width="0.9"/><path d="M155.5 177.2 L159.5 178.8 L155.5 180.4 Z" fill="#000"/>
<circle cx="169.9" cy="141.4" r="6.2" fill="url(#g_green)"/>
<ellipse cx="169.1" cy="162.1" rx="5.8" ry="4.7" fill="url(#g_blue)"/>
<circle cx="168.7" cy="178.8" r="3.7" fill="url(#g_red)"/>
<path d="M142.6 224.8 L142.6 206.28" stroke="#1010e0" stroke-width="2.6"/>
<path d="M138.3 206.76 L146.9 206.76 L142.6 197.5 Z" fill="#1010e0"/>
<path d="M143.6 225.3 L162.13 225.6" stroke="#22cc22" stroke-width="2.6"/>
<path d="M161.2 220.6 L161.2 229.4 L171.43 225.8 Z" fill="#22cc22"/>
<circle cx="142.6" cy="224.8" r="2.6" fill="#eee" stroke="#999" stroke-width="0.9"/>
<circle cx="134.6" cy="228" r="4" fill="url(#g_red)"/>
<text x="141.8" y="193.11" font-size="4.5" font-family='"Liberation Sans", Arial, sans-serif' font-weight="normal" fill="#000">c</text>
<text x="177.94" y="228" font-size="4.5" font-family='"Liberation Sans", Arial, sans-serif' font-weight="normal" fill="#000">b</text>
<text x="127.6" y="233.3" font-size="4.5" font-family='"Liberation Sans", Arial, sans-serif' font-weight="normal" fill="#000">a</text>
<path d="M203.8 143.6 L203.8 206 M266.9 146 L266.9 208 M220.2 150 L220.2 212 M203.8 143.6 L266.9 146" stroke="#c4c4c4" stroke-width="0.7" fill="none"/>
<line x1="234.5" y1="161.8" x2="245.4" y2="159.1" stroke="#30d040" stroke-width="1.0"/>
<line x1="234.5" y1="161.8" x2="234.1" y2="153.15" stroke="#30d040" stroke-width="1.0"/>
<line x1="234.5" y1="161.8" x2="229.2" y2="166.4" stroke="#30d040" stroke-width="1.0"/>
<line x1="234.5" y1="161.8" x2="227.4" y2="174" stroke="#30d040" stroke-width="1.0"/>
<line x1="234.5" y1="161.8" x2="233.5" y2="172.35" stroke="#30d040" stroke-width="1.0"/>
<line x1="250" y1="166.4" x2="245.4" y2="159.1" stroke="#30d040" stroke-width="1.0"/>
<line x1="250" y1="166.4" x2="257.8" y2="163.6" stroke="#30d040" stroke-width="1.0"/>
<line x1="250" y1="166.4" x2="259.8" y2="171.2" stroke="#30d040" stroke-width="1.0"/>
<line x1="250" y1="166.4" x2="249.7" y2="176.85" stroke="#30d040" stroke-width="1.0"/>
<line x1="220" y1="190" x2="221.3" y2="179.65" stroke="#30d040" stroke-width="1.0"/>
<line x1="220" y1="190" x2="208.6" y2="192.9" stroke="#30d040" stroke-width="1.0"/>
<line x1="220" y1="190" x2="211.2" y2="185.3" stroke="#30d040" stroke-width="1.0"/>
<line x1="220" y1="190" x2="228.6" y2="197.4" stroke="#30d040" stroke-width="1.0"/>
<line x1="237.6" y1="193.6" x2="244.8" y2="190.1" stroke="#30d040" stroke-width="1.0"/>
<line x1="237.6" y1="193.6" x2="243.6" y2="182.5" stroke="#30d040" stroke-width="1.0"/>
<line x1="237.6" y1="193.6" x2="237.5" y2="184.15" stroke="#30d040" stroke-width="1.0"/>
<line x1="237.6" y1="193.6" x2="228.6" y2="197.4" stroke="#30d040" stroke-width="1.0"/>
<line x1="237.6" y1="193.6" x2="236.9" y2="203.35" stroke="#30d040" stroke-width="1.0"/>
<path d="M211.8 146.4 L219.9 146.7" stroke="#2a2ae0" stroke-width="1.4"/><path d="M219.9 146.7 L228 147" stroke="#e81010" stroke-width="1.4"/>
<path d="M211.8 146.4 L203.7 148.1" stroke="#2a2ae0" stroke-width="1.4"/><path d="M203.7 148.1 L195.6 149.8" stroke="#e81010" stroke-width="1.4"/>
<path d="M211.8 146.4 L214.85 147.53" stroke="#2a2ae0" stroke-width="1.4"/><path d="M214.85 147.53 L217.9 148.65" stroke="#e81010" stroke-width="1.4"/>
<path d="M211.8 146.4 L206.75 145.28" stroke="#2a2ae0" stroke-width="1.4"/><path d="M206.75 145.28 L201.7 144.15" stroke="#e81010" stroke-width="1.4"/>
<path d="M211.8 146.4 L210.5 154.15" stroke="#2a2ae0" stroke-width="1.4"/><path d="M210.5 154.15 L209.2 161.9" stroke="#e81010" stroke-width="1.4"/>
<path d="M211.8 146.4 L210.8 138.65" stroke="#2a2ae0" stroke-width="1.4"/><path d="M210.8 138.65 L209.8 130.9" stroke="#e81010" stroke-width="1.4"/>
<path d="M244.2 143.6 L252.3 143.9" stroke="#2a2ae0" stroke-width="1.4"/><path d="M252.3 143.9 L260.4 144.2" stroke="#e81010" stroke-width="1.4"/>
<path d="M244.2 143.6 L236.1 145.3" stroke="#2a2ae0" stroke-width="1.4"/><path d="M236.1 145.3 L228 147" stroke="#e81010" stroke-width="1.4"/>
<path d="M244.2 143.6 L249.25 144.72" stroke="#2a2ae0" stroke-width="1.4"/><path d="M249.25 144.72 L254.3 145.85" stroke="#e81010" stroke-width="1.4"/>
<path d="M244.2 143.6 L241.15 142.47" stroke="#2a2ae0" stroke-width="1.4"/><path d="M241.15 142.47 L238.1 141.35" stroke="#e81010" stroke-width="1.4"/>
<path d="M244.2 143.6 L244.8 151.35" stroke="#2a2ae0" stroke-width="1.4"/><path d="M244.8 151.35 L245.4 159.1" stroke="#e81010" stroke-width="1.4"/>
<path d="M244.2 143.6 L245.1 135.85" stroke="#2a2ae0" stroke-width="1.4"/><path d="M245.1 135.85 L246 128.1" stroke="#e81010" stroke-width="1.4"/>
<path d="M228 150.9 L236.1 149.2" stroke="#2a2ae0" stroke-width="1.4"/><path d="M236.1 149.2 L244.2 147.5" stroke="#e81010" stroke-width="1.4"/>
<path d="M228 150.9 L219.9 150.6" stroke="#2a2ae0" stroke-width="1.4"/><path d="M219.9 150.6 L211.8 150.3" stroke="#e81010" stroke-width="1.4"/>
<path d="M228 150.9 L231.05 152.03" stroke="#2a2ae0" stroke-width="1.4"/><path d="M231.05 152.03 L234.1 153.15" stroke="#e81010" stroke-width="1.4"/>
<path d="M228 150.9 L222.95 149.78" stroke="#2a2ae0" stroke-width="1.4"/><path d="M222.95 149.78 L217.9 148.65" stroke="#e81010" stroke-width="1.4"/>
<path d="M228 150.9 L228.6 158.65" stroke="#2a2ae0" stroke-width="1.4"/><path d="M228.6 158.65 L229.2 166.4" stroke="#e81010" stroke-width="1.4"/>
<path d="M228 150.9 L228.9 143.15" stroke="#2a2ae0" stroke-width="1.4"/><path d="M228.9 143.15 L229.8 135.4" stroke="#e81010" stroke-width="1.4"/>
<path d="M260.4 148.1 L268.5 146.4" stroke="#2a2ae0" stroke-width="1.4"/><path d="M268.5 146.4 L276.6 144.7" stroke="#e81010" stroke-width="1.4"/>
<path d="M260.4 148.1 L252.3 147.8" stroke="#2a2ae0" stroke-width="1.4"/><path d="M252.3 147.8 L244.2 147.5" stroke="#e81010" stroke-width="1.4"/>
<path d="M260.4 148.1 L265.45 149.22" stroke="#2a2ae0" stroke-width="1.4"/><path d="M265.45 149.22 L270.5 150.35" stroke="#e81010" stroke-width="1.4"/>
<path d="M260.4 148.1 L257.35 146.97" stroke="#2a2ae0" stroke-width="1.4"/><path d="M257.35 146.97 L254.3 145.85" stroke="#e81010" stroke-width="1.4"/>
<path d="M260.4 148.1 L259.1 155.85" stroke="#2a2ae0" stroke-width="1.4"/><path d="M259.1 155.85 L257.8 163.6" stroke="#e81010" stroke-width="1.4"/>
<path d="M260.4 148.1 L259.4 140.35" stroke="#2a2ae0" stroke-width="1.4"/><path d="M259.4 140.35 L258.4 132.6" stroke="#e81010" stroke-width="1.4"/>
<path d="M211.2 177.4 L219.3 175.7" stroke="#2a2ae0" stroke-width="1.4"/><path d="M219.3 175.7 L227.4 174" stroke="#e81010" stroke-width="1.4"/>
<path d="M211.2 177.4 L203.1 177.1" stroke="#2a2ae0" stroke-width="1.4"/><path d="M203.1 177.1 L195 176.8" stroke="#e81010" stroke-width="1.4"/>
<path d="M211.2 177.4 L216.25 178.53" stroke="#2a2ae0" stroke-width="1.4"/><path d="M216.25 178.53 L221.3 179.65" stroke="#e81010" stroke-width="1.4"/>
<path d="M211.2 177.4 L208.15 176.28" stroke="#2a2ae0" stroke-width="1.4"/><path d="M208.15 176.28 L205.1 175.15" stroke="#e81010" stroke-width="1.4"/>
<path d="M211.2 177.4 L209.9 185.15" stroke="#2a2ae0" stroke-width="1.4"/><path d="M209.9 185.15 L208.6 192.9" stroke="#e81010" stroke-width="1.4"/>
<path d="M211.2 177.4 L210.2 169.65" stroke="#2a2ae0" stroke-width="1.4"/><path d="M210.2 169.65 L209.2 161.9" stroke="#e81010" stroke-width="1.4"/>
<path d="M243.6 174.6 L251.7 172.9" stroke="#2a2ae0" stroke-width="1.4"/><path d="M251.7 172.9 L259.8 171.2" stroke="#e81010" stroke-width="1.4"/>
<path d="M243.6 174.6 L235.5 174.3" stroke="#2a2ae0" stroke-width="1.4"/><path d="M235.5 174.3 L227.4 174" stroke="#e81010" stroke-width="1.4"/>
<path d="M243.6 174.6 L246.65 175.72" stroke="#2a2ae0" stroke-width="1.4"/><path d="M246.65 175.72 L249.7 176.85" stroke="#e81010" stroke-width="1.4"/>
<path d="M243.6 174.6 L238.55 173.47" stroke="#2a2ae0" stroke-width="1.4"/><path d="M238.55 173.47 L233.5 172.35" stroke="#e81010" stroke-width="1.4"/>
<path d="M243.6 174.6 L244.2 182.35" stroke="#2a2ae0" stroke-width="1.4"/><path d="M244.2 182.35 L244.8 190.1" stroke="#e81010" stroke-width="1.4"/>
<path d="M243.6 174.6 L244.5 166.85" stroke="#2a2ae0" stroke-width="1.4"/><path d="M244.5 166.85 L245.4 159.1" stroke="#e81010" stroke-width="1.4"/>
<path d="M227.4 181.9 L235.5 182.2" stroke="#2a2ae0" stroke-width="1.4"/><path d="M235.5 182.2 L243.6 182.5" stroke="#e81010" stroke-width="1.4"/>
<path d="M227.4 181.9 L219.3 183.6" stroke="#2a2ae0" stroke-width="1.4"/><path d="M219.3 183.6 L211.2 185.3" stroke="#e81010" stroke-width="1.4"/>
<path d="M227.4 181.9 L232.45 183.03" stroke="#2a2ae0" stroke-width="1.4"/><path d="M232.45 183.03 L237.5 184.15" stroke="#e81010" stroke-width="1.4"/>
<path d="M227.4 181.9 L224.35 180.78" stroke="#2a2ae0" stroke-width="1.4"/><path d="M224.35 180.78 L221.3 179.65" stroke="#e81010" stroke-width="1.4"/>
<path d="M227.4 181.9 L228 189.65" stroke="#2a2ae0" stroke-width="1.4"/><path d="M228 189.65 L228.6 197.4" stroke="#e81010" stroke-width="1.4"/>
<path d="M227.4 181.9 L228.3 174.15" stroke="#2a2ae0" stroke-width="1.4"/><path d="M228.3 174.15 L229.2 166.4" stroke="#e81010" stroke-width="1.4"/>
<path d="M259.8 179.1 L267.9 179.4" stroke="#2a2ae0" stroke-width="1.4"/><path d="M267.9 179.4 L276 179.7" stroke="#e81010" stroke-width="1.4"/>
<path d="M259.8 179.1 L251.7 180.8" stroke="#2a2ae0" stroke-width="1.4"/><path d="M251.7 180.8 L243.6 182.5" stroke="#e81010" stroke-width="1.4"/>
<path d="M259.8 179.1 L262.85 180.22" stroke="#2a2ae0" stroke-width="1.4"/><path d="M262.85 180.22 L265.9 181.35" stroke="#e81010" stroke-width="1.4"/>
<path d="M259.8 179.1 L254.75 177.97" stroke="#2a2ae0" stroke-width="1.4"/><path d="M254.75 177.97 L249.7 176.85" stroke="#e81010" stroke-width="1.4"/>
<path d="M259.8 179.1 L258.5 186.85" stroke="#2a2ae0" stroke-width="1.4"/><path d="M258.5 186.85 L257.2 194.6" stroke="#e81010" stroke-width="1.4"/>
<path d="M259.8 179.1 L258.8 171.35" stroke="#2a2ae0" stroke-width="1.4"/><path d="M258.8 171.35 L257.8 163.6" stroke="#e81010" stroke-width="1.4"/>
<path d="M210.6 208.4 L218.7 208.7" stroke="#2a2ae0" stroke-width="1.4"/><path d="M218.7 208.7 L226.8 209" stroke="#e81010" stroke-width="1.4"/>
<path d="M210.6 208.4 L202.5 210.1" stroke="#2a2ae0" stroke-width="1.4"/><path d="M202.5 210.1 L194.4 211.8" stroke="#e81010" stroke-width="1.4"/>
<path d="M210.6 208.4 L213.65 209.53" stroke="#2a2ae0" stroke-width="1.4"/><path d="M213.65 209.53 L216.7 210.65" stroke="#e81010" stroke-width="1.4"/>
<path d="M210.6 208.4 L205.55 207.28" stroke="#2a2ae0" stroke-width="1.4"/><path d="M205.55 207.28 L200.5 206.15" stroke="#e81010" stroke-width="1.4"/>
<path d="M210.6 208.4 L209.3 216.15" stroke="#2a2ae0" stroke-width="1.4"/><path d="M209.3 216.15 L208 223.9" stroke="#e81010" stroke-width="1.4"/>
<path d="M210.6 208.4 L209.6 200.65" stroke="#2a2ae0" stroke-width="1.4"/><path d="M209.6 200.65 L208.6 192.9" stroke="#e81010" stroke-width="1.4"/>
<path d="M243 205.6 L251.1 205.9" stroke="#2a2ae0" stroke-width="1.4"/><path d="M251.1 205.9 L259.2 206.2" stroke="#e81010" stroke-width="1.4"/>
<path d="M243 205.6 L234.9 207.3" stroke="#2a2ae0" stroke-width="1.4"/><path d="M234.9 207.3 L226.8 209" stroke="#e81010" stroke-width="1.4"/>
<path d="M243 205.6 L248.05 206.72" stroke="#2a2ae0" stroke-width="1.4"/><path d="M248.05 206.72 L253.1 207.85" stroke="#e81010" stroke-width="1.4"/>
<path d="M243 205.6 L239.95 204.47" stroke="#2a2ae0" stroke-width="1.4"/><path d="M239.95 204.47 L236.9 203.35" stroke="#e81010" stroke-width="1.4"/>
<path d="M243 205.6 L243.6 213.35" stroke="#2a2ae0" stroke-width="1.4"/><path d="M243.6 213.35 L244.2 221.1" stroke="#e81010" stroke-width="1.4"/>
<path d="M243 205.6 L243.9 197.85" stroke="#2a2ae0" stroke-width="1.4"/><path d="M243.9 197.85 L244.8 190.1" stroke="#e81010" stroke-width="1.4"/>
<path d="M226.8 212.9 L234.9 211.2" stroke="#2a2ae0" stroke-width="1.4"/><path d="M234.9 211.2 L243 209.5" stroke="#e81010" stroke-width="1.4"/>
<path d="M226.8 212.9 L218.7 212.6" stroke="#2a2ae0" stroke-width="1.4"/><path d="M218.7 212.6 L210.6 212.3" stroke="#e81010" stroke-width="1.4"/>
<path d="M226.8 212.9 L229.85 214.03" stroke="#2a2ae0" stroke-width="1.4"/><path d="M229.85 214.03 L232.9 215.15" stroke="#e81010" stroke-width="1.4"/>
<path d="M226.8 212.9 L221.75 211.78" stroke="#2a2ae0" stroke-width="1.4"/><path d="M221.75 211.78 L216.7 210.65" stroke="#e81010" stroke-width="1.4"/>
<path d="M226.8 212.9 L227.4 220.65" stroke="#2a2ae0" stroke-width="1.4"/><path d="M227.4 220.65 L228 228.4" stroke="#e81010" stroke-width="1.4"/>
<path d="M226.8 212.9 L227.7 205.15" stroke="#2a2ae0" stroke-width="1.4"/><path d="M227.7 205.15 L228.6 197.4" stroke="#e81010" stroke-width="1.4"/>
<path d="M259.2 210.1 L267.3 208.4" stroke="#2a2ae0" stroke-width="1.4"/><path d="M267.3 208.4 L275.4 206.7" stroke="#e81010" stroke-width="1.4"/>
<path d="M259.2 210.1 L251.1 209.8" stroke="#2a2ae0" stroke-width="1.4"/><path d="M251.1 209.8 L243 209.5" stroke="#e81010" stroke-width="1.4"/>
<path d="M259.2 210.1 L264.25 211.22" stroke="#2a2ae0" stroke-width="1.4"/><path d="M264.25 211.22 L269.3 212.35" stroke="#e81010" stroke-width="1.4"/>
<path d="M259.2 210.1 L256.15 208.97" stroke="#2a2ae0" stroke-width="1.4"/><path d="M256.15 208.97 L253.1 207.85" stroke="#e81010" stroke-width="1.4"/>
<path d="M259.2 210.1 L257.9 217.85" stroke="#2a2ae0" stroke-width="1.4"/><path d="M257.9 217.85 L256.6 225.6" stroke="#e81010" stroke-width="1.4"/>
<path d="M259.2 210.1 L258.2 202.35" stroke="#2a2ae0" stroke-width="1.4"/><path d="M258.2 202.35 L257.2 194.6" stroke="#e81010" stroke-width="1.4"/>
<circle cx="234.5" cy="161.8" r="6.3" fill="url(#g_green)"/>
<circle cx="250" cy="166.4" r="6.3" fill="url(#g_green)"/>
<circle cx="220" cy="190" r="6.3" fill="url(#g_green)"/>
<circle cx="237.6" cy="193.6" r="6.3" fill="url(#g_green)"/>
<circle cx="211.8" cy="146.4" r="4.4" fill="url(#g_blue)"/>
<circle cx="244.2" cy="143.6" r="4.4" fill="url(#g_blue)"/>
<circle cx="228" cy="150.9" r="4.4" fill="url(#g_blue)"/>
<circle cx="260.4" cy="148.1" r="4.4" fill="url(#g_blue)"/>
<circle cx="211.2" cy="177.4" r="4.4" fill="url(#g_blue)"/>
<circle cx="243.6" cy="174.6" r="4.4" fill="url(#g_blue)"/>
<circle cx="227.4" cy="181.9" r="4.4" fill="url(#g_blue)"/>
<circle cx="259.8" cy="179.1" r="4.4" fill="url(#g_blue)"/>
<circle cx="210.6" cy="208.4" r="4.4" fill="url(#g_blue)"/>
<circle cx="243" cy="205.6" r="4.4" fill="url(#g_blue)"/>
<circle cx="226.8" cy="212.9" r="4.4" fill="url(#g_blue)"/>
<circle cx="259.2" cy="210.1" r="4.4" fill="url(#g_blue)"/>
<circle cx="228" cy="147" r="2.3" fill="#f02020" stroke="#c00000" stroke-width="0.5"/><circle cx="227.7" cy="146.7" r="0.9" fill="#ffd0d0"/>
<circle cx="195.6" cy="149.8" r="2.3" fill="#f02020" stroke="#c00000" stroke-width="0.5"/><circle cx="195.3" cy="149.5" r="0.9" fill="#ffd0d0"/>
<circle cx="217.9" cy="148.65" r="2.3" fill="#f02020" stroke="#c00000" stroke-width="0.5"/><circle cx="217.6" cy="148.35" r="0.9" fill="#ffd0d0"/>
<circle cx="201.7" cy="144.15" r="2.3" fill="#f02020" stroke="#c00000" stroke-width="0.5"/><circle cx="201.4" cy="143.85" r="0.9" fill="#ffd0d0"/>
<circle cx="209.2" cy="161.9" r="2.3" fill="#f02020" stroke="#c00000" stroke-width="0.5"/><circle cx="208.9" cy="161.6" r="0.9" fill="#ffd0d0"/>
<circle cx="209.8" cy="130.9" r="2.3" fill="#f02020" stroke="#c00000" stroke-width="0.5"/><circle cx="209.5" cy="130.6" r="0.9" fill="#ffd0d0"/>
<circle cx="260.4" cy="144.2" r="2.3" fill="#f02020" stroke="#c00000" stroke-width="0.5"/><circle cx="260.1" cy="143.9" r="0.9" fill="#ffd0d0"/>
<circle cx="254.3" cy="145.85" r="2.3" fill="#f02020" stroke="#c00000" stroke-width="0.5"/><circle cx="254" cy="145.55" r="0.9" fill="#ffd0d0"/>
<circle cx="238.1" cy="141.35" r="2.3" fill="#f02020" stroke="#c00000" stroke-width="0.5"/><circle cx="237.8" cy="141.05" r="0.9" fill="#ffd0d0"/>
<circle cx="245.4" cy="159.1" r="2.3" fill="#f02020" stroke="#c00000" stroke-width="0.5"/><circle cx="245.1" cy="158.8" r="0.9" fill="#ffd0d0"/>
<circle cx="246" cy="128.1" r="2.3" fill="#f02020" stroke="#c00000" stroke-width="0.5"/><circle cx="245.7" cy="127.8" r="0.9" fill="#ffd0d0"/>
<circle cx="244.2" cy="147.5" r="2.3" fill="#f02020" stroke="#c00000" stroke-width="0.5"/><circle cx="243.9" cy="147.2" r="0.9" fill="#ffd0d0"/>
<circle cx="211.8" cy="150.3" r="2.3" fill="#f02020" stroke="#c00000" stroke-width="0.5"/><circle cx="211.5" cy="150" r="0.9" fill="#ffd0d0"/>
<circle cx="234.1" cy="153.15" r="2.3" fill="#f02020" stroke="#c00000" stroke-width="0.5"/><circle cx="233.8" cy="152.85" r="0.9" fill="#ffd0d0"/>
<circle cx="229.2" cy="166.4" r="2.3" fill="#f02020" stroke="#c00000" stroke-width="0.5"/><circle cx="228.9" cy="166.1" r="0.9" fill="#ffd0d0"/>
<circle cx="229.8" cy="135.4" r="2.3" fill="#f02020" stroke="#c00000" stroke-width="0.5"/><circle cx="229.5" cy="135.1" r="0.9" fill="#ffd0d0"/>
<circle cx="276.6" cy="144.7" r="2.3" fill="#f02020" stroke="#c00000" stroke-width="0.5"/><circle cx="276.3" cy="144.4" r="0.9" fill="#ffd0d0"/>
<circle cx="270.5" cy="150.35" r="2.3" fill="#f02020" stroke="#c00000" stroke-width="0.5"/><circle cx="270.2" cy="150.05" r="0.9" fill="#ffd0d0"/>
<circle cx="257.8" cy="163.6" r="2.3" fill="#f02020" stroke="#c00000" stroke-width="0.5"/><circle cx="257.5" cy="163.3" r="0.9" fill="#ffd0d0"/>
<circle cx="258.4" cy="132.6" r="2.3" fill="#f02020" stroke="#c00000" stroke-width="0.5"/><circle cx="258.1" cy="132.3" r="0.9" fill="#ffd0d0"/>
<circle cx="227.4" cy="174" r="2.3" fill="#f02020" stroke="#c00000" stroke-width="0.5"/><circle cx="227.1" cy="173.7" r="0.9" fill="#ffd0d0"/>
<circle cx="195" cy="176.8" r="2.3" fill="#f02020" stroke="#c00000" stroke-width="0.5"/><circle cx="194.7" cy="176.5" r="0.9" fill="#ffd0d0"/>
<circle cx="221.3" cy="179.65" r="2.3" fill="#f02020" stroke="#c00000" stroke-width="0.5"/><circle cx="221" cy="179.35" r="0.9" fill="#ffd0d0"/>
<circle cx="205.1" cy="175.15" r="2.3" fill="#f02020" stroke="#c00000" stroke-width="0.5"/><circle cx="204.8" cy="174.85" r="0.9" fill="#ffd0d0"/>
<circle cx="208.6" cy="192.9" r="2.3" fill="#f02020" stroke="#c00000" stroke-width="0.5"/><circle cx="208.3" cy="192.6" r="0.9" fill="#ffd0d0"/>
<circle cx="259.8" cy="171.2" r="2.3" fill="#f02020" stroke="#c00000" stroke-width="0.5"/><circle cx="259.5" cy="170.9" r="0.9" fill="#ffd0d0"/>
<circle cx="249.7" cy="176.85" r="2.3" fill="#f02020" stroke="#c00000" stroke-width="0.5"/><circle cx="249.4" cy="176.55" r="0.9" fill="#ffd0d0"/>
<circle cx="233.5" cy="172.35" r="2.3" fill="#f02020" stroke="#c00000" stroke-width="0.5"/><circle cx="233.2" cy="172.05" r="0.9" fill="#ffd0d0"/>
<circle cx="244.8" cy="190.1" r="2.3" fill="#f02020" stroke="#c00000" stroke-width="0.5"/><circle cx="244.5" cy="189.8" r="0.9" fill="#ffd0d0"/>
<circle cx="243.6" cy="182.5" r="2.3" fill="#f02020" stroke="#c00000" stroke-width="0.5"/><circle cx="243.3" cy="182.2" r="0.9" fill="#ffd0d0"/>
<circle cx="211.2" cy="185.3" r="2.3" fill="#f02020" stroke="#c00000" stroke-width="0.5"/><circle cx="210.9" cy="185" r="0.9" fill="#ffd0d0"/>
<circle cx="237.5" cy="184.15" r="2.3" fill="#f02020" stroke="#c00000" stroke-width="0.5"/><circle cx="237.2" cy="183.85" r="0.9" fill="#ffd0d0"/>
<circle cx="228.6" cy="197.4" r="2.3" fill="#f02020" stroke="#c00000" stroke-width="0.5"/><circle cx="228.3" cy="197.1" r="0.9" fill="#ffd0d0"/>
<circle cx="276" cy="179.7" r="2.3" fill="#f02020" stroke="#c00000" stroke-width="0.5"/><circle cx="275.7" cy="179.4" r="0.9" fill="#ffd0d0"/>
<circle cx="265.9" cy="181.35" r="2.3" fill="#f02020" stroke="#c00000" stroke-width="0.5"/><circle cx="265.6" cy="181.05" r="0.9" fill="#ffd0d0"/>
<circle cx="257.2" cy="194.6" r="2.3" fill="#f02020" stroke="#c00000" stroke-width="0.5"/><circle cx="256.9" cy="194.3" r="0.9" fill="#ffd0d0"/>
<circle cx="226.8" cy="209" r="2.3" fill="#f02020" stroke="#c00000" stroke-width="0.5"/><circle cx="226.5" cy="208.7" r="0.9" fill="#ffd0d0"/>
<circle cx="194.4" cy="211.8" r="2.3" fill="#f02020" stroke="#c00000" stroke-width="0.5"/><circle cx="194.1" cy="211.5" r="0.9" fill="#ffd0d0"/>
<circle cx="216.7" cy="210.65" r="2.3" fill="#f02020" stroke="#c00000" stroke-width="0.5"/><circle cx="216.4" cy="210.35" r="0.9" fill="#ffd0d0"/>
<circle cx="200.5" cy="206.15" r="2.3" fill="#f02020" stroke="#c00000" stroke-width="0.5"/><circle cx="200.2" cy="205.85" r="0.9" fill="#ffd0d0"/>
<circle cx="208" cy="223.9" r="2.3" fill="#f02020" stroke="#c00000" stroke-width="0.5"/><circle cx="207.7" cy="223.6" r="0.9" fill="#ffd0d0"/>
<circle cx="259.2" cy="206.2" r="2.3" fill="#f02020" stroke="#c00000" stroke-width="0.5"/><circle cx="258.9" cy="205.9" r="0.9" fill="#ffd0d0"/>
<circle cx="253.1" cy="207.85" r="2.3" fill="#f02020" stroke="#c00000" stroke-width="0.5"/><circle cx="252.8" cy="207.55" r="0.9" fill="#ffd0d0"/>
<circle cx="236.9" cy="203.35" r="2.3" fill="#f02020" stroke="#c00000" stroke-width="0.5"/><circle cx="236.6" cy="203.05" r="0.9" fill="#ffd0d0"/>
<circle cx="244.2" cy="221.1" r="2.3" fill="#f02020" stroke="#c00000" stroke-width="0.5"/><circle cx="243.9" cy="220.8" r="0.9" fill="#ffd0d0"/>
<circle cx="243" cy="209.5" r="2.3" fill="#f02020" stroke="#c00000" stroke-width="0.5"/><circle cx="242.7" cy="209.2" r="0.9" fill="#ffd0d0"/>
<circle cx="210.6" cy="212.3" r="2.3" fill="#f02020" stroke="#c00000" stroke-width="0.5"/><circle cx="210.3" cy="212" r="0.9" fill="#ffd0d0"/>
<circle cx="232.9" cy="215.15" r="2.3" fill="#f02020" stroke="#c00000" stroke-width="0.5"/><circle cx="232.6" cy="214.85" r="0.9" fill="#ffd0d0"/>
<circle cx="228" cy="228.4" r="2.3" fill="#f02020" stroke="#c00000" stroke-width="0.5"/><circle cx="227.7" cy="228.1" r="0.9" fill="#ffd0d0"/>
<circle cx="275.4" cy="206.7" r="2.3" fill="#f02020" stroke="#c00000" stroke-width="0.5"/><circle cx="275.1" cy="206.4" r="0.9" fill="#ffd0d0"/>
<circle cx="269.3" cy="212.35" r="2.3" fill="#f02020" stroke="#c00000" stroke-width="0.5"/><circle cx="269" cy="212.05" r="0.9" fill="#ffd0d0"/>
<circle cx="256.6" cy="225.6" r="2.3" fill="#f02020" stroke="#c00000" stroke-width="0.5"/><circle cx="256.3" cy="225.3" r="0.9" fill="#ffd0d0"/>
<text x="262.7" y="137" font-size="9.5" font-family='"Liberation Serif", "Times New Roman", serif' font-weight="normal" fill="#000" textLength="12.3" lengthAdjust="spacingAndGlyphs">(d)</text>
<path d="M304.5 24 C304.5 17 308 14.5 312.5 14.5 C317 14.5 321 17 323 22 L326 40 L405 40 C408 34 412 32 416.5 33 L416.5 165 C415.75 165.75 413.92 168.5 412 169.5 C410.08 170.5 407.33 171.25 405 171 C402.67 170.75 400.33 169.83 398 168 C395.67 166.17 393.17 163.33 391 160 C388.83 156.67 387.17 151.58 385 148 C382.83 144.42 380.83 140.42 378 138.5 C375.17 136.58 371.33 135.92 368 136.5 C364.67 137.08 361.83 139.67 358 142 C354.17 144.33 349.67 148.75 345 150.5 C340.33 152.25 334.5 151.33 330 152.5 C325.5 153.67 321.33 155.75 318 157.5 C314.67 159.25 312.25 161.75 310 163 C307.75 164.25 305.42 164.67 304.5 165 Z" fill="url(#g_sheet)"/>
<path d="M323 22 C326 30 326 150 322 158" stroke="#a8a8a8" stroke-width="1" fill="none"/>
<path d="M330 40 L330 140 M400 40 L400 140" stroke="#b5b5b5" stroke-width="0.8" fill="none"/>
<circle cx="369.8" cy="39.2" r="11" fill="url(#g_blue)"/>
<circle cx="370.9" cy="23.6" r="6.8" fill="url(#g_red)"/>
<circle cx="333.6" cy="47.4" r="13" fill="url(#g_blue)"/>
<circle cx="387.3" cy="46.2" r="14" fill="url(#g_blue)"/>
<circle cx="332.9" cy="28.2" r="6.8" fill="url(#g_red)"/>
<circle cx="386.1" cy="30.6" r="6.8" fill="url(#g_red)"/>
<circle cx="352.2" cy="52.1" r="13.5" fill="url(#g_blue)"/>
<circle cx="352.9" cy="32.2" r="6.8" fill="url(#g_red)"/>
<circle cx="345.2" cy="68.4" r="12" fill="url(#g_green)"/>
<circle cx="316" cy="50.9" r="6.8" fill="url(#g_red)"/>
<circle cx="336.6" cy="52.1" r="6.8" fill="url(#g_red)"/>
<circle cx="363.9" cy="52.1" r="6.8" fill="url(#g_red)"/>
<circle cx="394.3" cy="55.6" r="6.8" fill="url(#g_red)"/>
<circle cx="407.1" cy="46.2" r="6.8" fill="url(#g_red)"/>
<circle cx="335.9" cy="66.1" r="6.8" fill="url(#g_red)"/>
<circle cx="369.8" cy="105.8" r="15" fill="url(#g_green)"/>
<circle cx="333.6" cy="121" r="13" fill="url(#g_blue)"/>
<circle cx="388.5" cy="124.5" r="13" fill="url(#g_blue)"/>
<circle cx="352.2" cy="125.7" r="13" fill="url(#g_blue)"/>
<circle cx="316" cy="124.5" r="6.8" fill="url(#g_red)"/>
<circle cx="336.6" cy="126.8" r="6.8" fill="url(#g_red)"/>
<circle cx="363.9" cy="128" r="6.8" fill="url(#g_red)"/>
<circle cx="394.3" cy="130.3" r="6.8" fill="url(#g_red)"/>
<circle cx="407.1" cy="122.1" r="6.8" fill="url(#g_red)"/>
<circle cx="337" cy="142" r="6.8" fill="url(#g_red)"/>
<circle cx="388.5" cy="144.3" r="6.8" fill="url(#g_red)"/>
<circle cx="333.6" cy="83.6" r="13" fill="url(#g_blue)"/>
<circle cx="388.5" cy="90.6" r="13" fill="url(#g_blue)"/>
<circle cx="376.8" cy="71.9" r="18.7" fill="url(#g_green)"/>
<circle cx="352.2" cy="89.4" r="13.5" fill="url(#g_blue)"/>
<circle cx="351.1" cy="71.9" r="6.8" fill="url(#g_red)"/>
<circle cx="372.1" cy="76.6" r="6.8" fill="url(#g_red)"/>
<circle cx="316" cy="82.4" r="6.8" fill="url(#g_red)"/>
<circle cx="338.2" cy="81.3" r="6.8" fill="url(#g_red)"/>
<circle cx="336.6" cy="95.3" r="6.8" fill="url(#g_red)"/>
<circle cx="363.9" cy="95.3" r="6.8" fill="url(#g_red)"/>
<circle cx="394.3" cy="88.3" r="6.8" fill="url(#g_red)"/>
<circle cx="407.1" cy="89.4" r="6.8" fill="url(#g_red)"/>
<circle cx="333.6" cy="104.6" r="6.8" fill="url(#g_red)"/>
<circle cx="352.9" cy="109.3" r="6.8" fill="url(#g_red)"/>
<circle cx="386.1" cy="107" r="6.8" fill="url(#g_red)"/>
<path d="M304.5 97 L416.5 97 L416.5 165 C415.75 165.75 413.92 168.5 412 169.5 C410.08 170.5 407.33 171.25 405 171 C402.67 170.75 400.33 169.83 398 168 C395.67 166.17 393.17 163.33 391 160 C388.83 156.67 387.17 151.58 385 148 C382.83 144.42 380.83 140.42 378 138.5 C375.17 136.58 371.33 135.92 368 136.5 C364.67 137.08 361.83 139.67 358 142 C354.17 144.33 349.67 148.75 345 150.5 C340.33 152.25 334.5 151.33 330 152.5 C325.5 153.67 321.33 155.75 318 157.5 C314.67 159.25 312.25 161.75 310 163 C307.75 164.25 305.42 164.67 304.5 165 Z" fill="url(#g_ov)"/>
<circle cx="352.2" cy="147.8" r="6.8" fill="url(#g_red)"/>
<circle cx="369.8" cy="140.8" r="6.8" fill="url(#g_red)"/>
<text x="292.9" y="59" font-size="10.6" font-family='"Liberation Sans", Arial, sans-serif' font-weight="bold" fill="#000" textLength="53.6" lengthAdjust="spacingAndGlyphs" transform="rotate(90 292.9 59)" stroke="#000" stroke-width="0.3">GOS/CaTiO</text>
<text x="290.6" y="113.3" font-size="5.6" font-family='"Liberation Sans", Arial, sans-serif' font-weight="bold" fill="#000" transform="rotate(90 290.6 113.3)">3</text>
<rect x="416.5" y="9.8" width="24" height="30" fill="#fdf8b0"/>
<text x="421.6" y="32.5" font-size="21.5" font-family='"Liberation Serif", "Times New Roman", serif' font-weight="bold" fill="#000" textLength="13.4" lengthAdjust="spacingAndGlyphs">B</text>
<text x="325.5" y="180.2" font-size="9.8" font-family='"Liberation Sans", Arial, sans-serif' font-weight="bold" fill="#000" textLength="13" lengthAdjust="spacingAndGlyphs" stroke="#000" stroke-width="0.3">Ca</text>
<text x="328.3" y="193.2" font-size="9.8" font-family='"Liberation Sans", Arial, sans-serif' font-weight="bold" fill="#000" textLength="8.5" lengthAdjust="spacingAndGlyphs" stroke="#000" stroke-width="0.3">Ti</text>
<text x="328.7" y="206.7" font-size="9.8" font-family='"Liberation Sans", Arial, sans-serif' font-weight="bold" fill="#000" textLength="8" lengthAdjust="spacingAndGlyphs" stroke="#000" stroke-width="0.3">O</text>
<text x="325.5" y="222.6" font-size="9.8" font-family='"Liberation Sans", Arial, sans-serif' font-weight="bold" fill="#000" textLength="16" lengthAdjust="spacingAndGlyphs" stroke="#000" stroke-width="0.3">GO</text>
<path d="M345 176.6 L357.5 176.6" stroke="#000" stroke-width="1"/><path d="M356 174.7 L360.8 176.6 L356 178.5 Z" fill="#000"/>
<path d="M345 189.6 L357.5 189.6" stroke="#000" stroke-width="1"/><path d="M356 187.7 L360.8 189.6 L356 191.5 Z" fill="#000"/>
<path d="M345 203.1 L357.5 203.1" stroke="#000" stroke-width="1"/><path d="M356 201.2 L360.8 203.1 L356 205 Z" fill="#000"/>
<path d="M345 219 L357.5 219" stroke="#000" stroke-width="1"/><path d="M356 217.1 L360.8 219 L356 220.9 Z" fill="#000"/>
<ellipse cx="370.4" cy="174.1" rx="4.9" ry="5.4" fill="url(#g_green)"/>
<ellipse cx="370.9" cy="188.9" rx="4.9" ry="5.4" fill="url(#g_blue)"/>
<ellipse cx="371.4" cy="203.1" rx="4.9" ry="5.4" fill="url(#g_red)"/>
<path d="M364.8 214 C371 216 376 216 381 213.6 L390 214 L390 225 C384 223.5 378 223 372 225.2 L364.8 225 Z" fill="url(#g_go)"/>
<path d="M420.5 225 L420.5 201.44" stroke="#1010e0" stroke-width="2.6"/>
<path d="M416.2 202.06 L424.8 202.06 L420.5 190.28 Z" fill="#1010e0"/>
<path d="M421.5 225.5 L442.55 225.8" stroke="#22cc22" stroke-width="2.6"/>
<path d="M441.5 220.8 L441.5 229.6 L453.05 226 Z" fill="#22cc22"/>
<circle cx="420.5" cy="225" r="2.6" fill="#eee" stroke="#999" stroke-width="0.9"/>
<circle cx="412.5" cy="228.2" r="4" fill="url(#g_red)"/>
<text x="419.7" y="184.7" font-size="4.5" font-family='"Liberation Sans", Arial, sans-serif' font-weight="normal" fill="#000">c</text>
<text x="460.4" y="228.2" font-size="4.5" font-family='"Liberation Sans", Arial, sans-serif' font-weight="normal" fill="#000">b</text>
<text x="405.5" y="233.5" font-size="4.5" font-family='"Liberation Sans", Arial, sans-serif' font-weight="normal" fill="#000">a</text>
<path d="M455.4 36.7 C454.12 36.9 450.3 37.2 447.7 37.9 C445.1 38.6 442.28 39.57 439.8 40.9 C437.32 42.23 434.95 43.92 432.8 45.9 C430.65 47.88 428.72 50.32 426.9 52.8 C425.08 55.28 423.4 57.98 421.9 60.8 C420.4 63.62 418.97 66.57 417.9 69.7 C416.83 72.83 416.07 76.3 415.5 79.6 C414.93 82.9 414.7 86.1 414.5 89.5 C414.3 92.9 414.3 97 414.3 100 C414.3 103 414.32 104 414.5 107.5 C414.68 111 414.87 117.05 415.4 121 C415.93 124.95 416.6 127.98 417.7 131.2 C418.8 134.42 420.15 137.47 422 140.3 C423.85 143.13 426.35 145.93 428.8 148.2 C431.25 150.47 434.07 152.38 436.7 153.9 C439.33 155.42 443.28 156.73 444.6 157.3 L445.2 166.3 L455.4 159.6 L445.8 147.1 L443.5 150.5 C442.37 150.12 438.97 149.52 436.7 148.2 C434.43 146.88 431.97 144.87 429.9 142.6 C427.83 140.33 426 137.63 424.3 134.6 C422.6 131.57 420.98 128.17 419.7 124.4 C418.42 120.63 417.25 116.07 416.6 112 C415.95 107.93 415.67 103.75 415.8 100 C415.93 96.25 416.55 92.9 417.4 89.5 C418.25 86.1 419.65 82.9 420.9 79.6 C422.15 76.3 423.42 72.83 424.9 69.7 C426.38 66.57 427.98 63.45 429.8 60.8 C431.62 58.15 433.82 55.72 435.8 53.8 C437.78 51.88 439.72 50.45 441.7 49.3 C443.68 48.15 445.42 47.47 447.7 46.9 C449.98 46.33 454.12 46.07 455.4 45.9 Z" fill="#10125a" stroke="#8a70d8" stroke-width="0.6" stroke-opacity="0.7"/>
<ellipse cx="433" cy="102.5" rx="17.8" ry="7.4" fill="url(#g_ell)"/>
<text x="419.2" y="103.9" font-size="7.4" font-family='"Liberation Serif", "Times New Roman", serif' font-weight="bold" fill="#7a50b0" textLength="28.8" lengthAdjust="spacingAndGlyphs">4e<tspan font-size="3.6" dy="-2.6">-</tspan><tspan dy="2.6"> + 4H</tspan><tspan font-size="3.8" dy="-2.6">+</tspan></text>
<g stroke="#ff4a1f" stroke-width="1.5" fill="none" stroke-linecap="round"><path d="M488.5 29.1 L502 36.1 L502 50.1 L488.5 57.1 L474.8 50.1 L474.8 36.1 Z"/><path d="M489.78 32.57 L497.99 36.83"/><path d="M477.53 47.36 L477.53 38.84"/><path d="M497.99 49.37 L489.78 53.63"/><path d="M502 36.1 L512 30.2"/><path d="M488.5 57.1 L488.5 69"/><path d="M491.5 75 L502.8 80.5 L516.8 73.5 L516.8 63.6"/><path d="M516.8 73.5 L528.5 80.5"/><path d="M502.8 80.5 L502.8 92.5"/><path d="M500.8 81.5 L500.8 92.5"/></g>
<text x="513.5" y="32" font-size="6.2" font-family='"Liberation Serif", "Times New Roman", serif' font-weight="bold" fill="#ff4a1f">CF<tspan font-size="4" dy="1.3">3</tspan></text>
<text x="481" y="75.4" font-size="6.2" font-family='"Liberation Serif", "Times New Roman", serif' font-weight="bold" fill="#ff4a1f" textLength="9.3" lengthAdjust="spacingAndGlyphs">HN</text>
<text x="514.5" y="62" font-size="6.2" font-family='"Liberation Serif", "Times New Roman", serif' font-weight="bold" fill="#ff4a1f">CH<tspan font-size="4" dy="1.3">3</tspan></text>
<text x="528.5" y="84.5" font-size="6.2" font-family='"Liberation Serif", "Times New Roman", serif' font-weight="bold" fill="#ff4a1f">CH<tspan font-size="4" dy="1.3">3</tspan></text>
<text x="500.6" y="98.2" font-size="6.2" font-family='"Liberation Serif", "Times New Roman", serif' font-weight="bold" fill="#ff4a1f">O</text>
<path d="M488.5 29.1 L488.5 18" stroke="#ff4a1f" stroke-width="1.5"/>
<text x="487" y="15.8" font-size="6.2" font-family='"Liberation Serif", "Times New Roman", serif' font-weight="bold" fill="#ff4a1f">NO<tspan font-size="4" dy="1.3">2</tspan></text>
<text x="476.8" y="109.4" font-size="8.6" font-family='"Liberation Sans", Arial, sans-serif' font-weight="bold" fill="#000" textLength="59.5" lengthAdjust="spacingAndGlyphs" stroke="#000" stroke-width="0.35">Flutamide (FD)</text>
<g transform="translate(46.05 128.11) scale(0.9)">
<g stroke="#3ccc3c" stroke-width="1.5" fill="none" stroke-linecap="round"><path d="M488.5 29.1 L502 36.1 L502 50.1 L488.5 57.1 L474.8 50.1 L474.8 36.1 Z"/><path d="M489.78 32.57 L497.99 36.83"/><path d="M477.53 47.36 L477.53 38.84"/><path d="M497.99 49.37 L489.78 53.63"/><path d="M502 36.1 L512 30.2"/><path d="M488.5 57.1 L488.5 69"/><path d="M491.5 75 L502.8 80.5 L516.8 73.5 L516.8 63.6"/><path d="M516.8 73.5 L528.5 80.5"/><path d="M502.8 80.5 L502.8 92.5"/><path d="M500.8 81.5 L500.8 92.5"/></g>
<text x="513.5" y="32" font-size="6.2" font-family='"Liberation Serif", "Times New Roman", serif' font-weight="bold" fill="#3ccc3c">CF<tspan font-size="4" dy="1.3">3</tspan></text>
<text x="481" y="75.4" font-size="6.2" font-family='"Liberation Serif", "Times New Roman", serif' font-weight="bold" fill="#3ccc3c" textLength="9.3" lengthAdjust="spacingAndGlyphs">HN</text>
<text x="514.5" y="62" font-size="6.2" font-family='"Liberation Serif", "Times New Roman", serif' font-weight="bold" fill="#3ccc3c">CH<tspan font-size="4" dy="1.3">3</tspan></text>
<text x="528.5" y="84.5" font-size="6.2" font-family='"Liberation Serif", "Times New Roman", serif' font-weight="bold" fill="#3ccc3c">CH<tspan font-size="4" dy="1.3">3</tspan></text>
<text x="500.6" y="98.2" font-size="6.2" font-family='"Liberation Serif", "Times New Roman", serif' font-weight="bold" fill="#3ccc3c">O</text>
<path d="M488.5 29.1 L488.5 18.5 M487 12.5 L479.5 6.5" stroke="#3ccc3c" stroke-width="1.5" fill="none"/>
<text x="486.5" y="17.5" font-size="6.6" font-family='"Liberation Serif", "Times New Roman", serif' font-weight="bold" fill="#3ccc3c">NH</text>
<text x="472" y="7" font-size="6.6" font-family='"Liberation Serif", "Times New Roman", serif' font-weight="bold" fill="#3ccc3c">HO</text>
</g>
<text x="471" y="224" font-size="8.6" font-family='"Liberation Sans", Arial, sans-serif' font-weight="bold" fill="#000" textLength="67.8" lengthAdjust="spacingAndGlyphs" stroke="#000" stroke-width="0.35">NHOH-Flutamide</text>
<rect x="37.2" y="252.3" width="219.2" height="180" fill="none" stroke="#000" stroke-width="1.5"/>
<line x1="50.09" y1="432.3" x2="50.09" y2="435.5" stroke="#000" stroke-width="1.1"/>
<text x="51.09" y="445.6" font-size="9.3" font-family='"Liberation Sans", Arial, sans-serif' font-weight="bold" fill="#000" text-anchor="middle" textLength="15.3" lengthAdjust="spacingAndGlyphs" stroke="#000" stroke-width="0.2">-1.0</text>
<line x1="75.88" y1="432.3" x2="75.88" y2="435.5" stroke="#000" stroke-width="1.1"/>
<text x="76.88" y="445.6" font-size="9.3" font-family='"Liberation Sans", Arial, sans-serif' font-weight="bold" fill="#000" text-anchor="middle" textLength="15.3" lengthAdjust="spacingAndGlyphs" stroke="#000" stroke-width="0.2">-0.8</text>
<line x1="101.67" y1="432.3" x2="101.67" y2="435.5" stroke="#000" stroke-width="1.1"/>
<text x="102.67" y="445.6" font-size="9.3" font-family='"Liberation Sans", Arial, sans-serif' font-weight="bold" fill="#000" text-anchor="middle" textLength="15.3" lengthAdjust="spacingAndGlyphs" stroke="#000" stroke-width="0.2">-0.6</text>
<line x1="127.46" y1="432.3" x2="127.46" y2="435.5" stroke="#000" stroke-width="1.1"/>
<text x="128.46" y="445.6" font-size="9.3" font-family='"Liberation Sans", Arial, sans-serif' font-weight="bold" fill="#000" text-anchor="middle" textLength="15.3" lengthAdjust="spacingAndGlyphs" stroke="#000" stroke-width="0.2">-0.4</text>
<line x1="153.25" y1="432.3" x2="153.25" y2="435.5" stroke="#000" stroke-width="1.1"/>
<text x="154.25" y="445.6" font-size="9.3" font-family='"Liberation Sans", Arial, sans-serif' font-weight="bold" fill="#000" text-anchor="middle" textLength="15.3" lengthAdjust="spacingAndGlyphs" stroke="#000" stroke-width="0.2">-0.2</text>
<line x1="179.04" y1="432.3" x2="179.04" y2="435.5" stroke="#000" stroke-width="1.1"/>
<text x="180.04" y="445.6" font-size="9.3" font-family='"Liberation Sans", Arial, sans-serif' font-weight="bold" fill="#000" text-anchor="middle" textLength="12.6" lengthAdjust="spacingAndGlyphs" stroke="#000" stroke-width="0.2">0.0</text>
<line x1="204.82" y1="432.3" x2="204.82" y2="435.5" stroke="#000" stroke-width="1.1"/>
<text x="205.82" y="445.6" font-size="9.3" font-family='"Liberation Sans", Arial, sans-serif' font-weight="bold" fill="#000" text-anchor="middle" textLength="12.6" lengthAdjust="spacingAndGlyphs" stroke="#000" stroke-width="0.2">0.2</text>
<line x1="230.61" y1="432.3" x2="230.61" y2="435.5" stroke="#000" stroke-width="1.1"/>
<text x="231.61" y="445.6" font-size="9.3" font-family='"Liberation Sans", Arial, sans-serif' font-weight="bold" fill="#000" text-anchor="middle" textLength="12.6" lengthAdjust="spacingAndGlyphs" stroke="#000" stroke-width="0.2">0.4</text>
<line x1="256.4" y1="432.3" x2="256.4" y2="435.5" stroke="#000" stroke-width="1.1"/>
<text x="257.4" y="445.6" font-size="9.3" font-family='"Liberation Sans", Arial, sans-serif' font-weight="bold" fill="#000" text-anchor="middle" textLength="12.6" lengthAdjust="spacingAndGlyphs" stroke="#000" stroke-width="0.2">0.6</text>
<line x1="81.04" y1="252.3" x2="81.04" y2="254.8" stroke="#000" stroke-width="1"/>
<line x1="124.88" y1="252.3" x2="124.88" y2="254.8" stroke="#000" stroke-width="1"/>
<line x1="168.72" y1="252.3" x2="168.72" y2="254.8" stroke="#000" stroke-width="1"/>
<line x1="212.56" y1="252.3" x2="212.56" y2="254.8" stroke="#000" stroke-width="1"/>
<line x1="37.2" y1="270.3" x2="39" y2="270.3" stroke="#000" stroke-width="1"/>
<line x1="256.4" y1="270.3" x2="254.2" y2="270.3" stroke="#000" stroke-width="1"/>
<line x1="37.2" y1="288.3" x2="39" y2="288.3" stroke="#000" stroke-width="1"/>
<line x1="256.4" y1="288.3" x2="254.2" y2="288.3" stroke="#000" stroke-width="1"/>
<line x1="37.2" y1="306.3" x2="39" y2="306.3" stroke="#000" stroke-width="1"/>
<line x1="256.4" y1="306.3" x2="254.2" y2="306.3" stroke="#000" stroke-width="1"/>
<line x1="37.2" y1="324.3" x2="39" y2="324.3" stroke="#000" stroke-width="1"/>
<line x1="256.4" y1="324.3" x2="254.2" y2="324.3" stroke="#000" stroke-width="1"/>
<line x1="37.2" y1="342.3" x2="39" y2="342.3" stroke="#000" stroke-width="1"/>
<line x1="256.4" y1="342.3" x2="254.2" y2="342.3" stroke="#000" stroke-width="1"/>
<line x1="37.2" y1="360.3" x2="39" y2="360.3" stroke="#000" stroke-width="1"/>
<line x1="256.4" y1="360.3" x2="254.2" y2="360.3" stroke="#000" stroke-width="1"/>
<line x1="37.2" y1="378.3" x2="39" y2="378.3" stroke="#000" stroke-width="1"/>
<line x1="256.4" y1="378.3" x2="254.2" y2="378.3" stroke="#000" stroke-width="1"/>
<line x1="37.2" y1="396.3" x2="39" y2="396.3" stroke="#000" stroke-width="1"/>
<line x1="256.4" y1="396.3" x2="254.2" y2="396.3" stroke="#000" stroke-width="1"/>
<line x1="37.2" y1="414.3" x2="39" y2="414.3" stroke="#000" stroke-width="1"/>
<line x1="256.4" y1="414.3" x2="254.2" y2="414.3" stroke="#000" stroke-width="1"/>
<path d="M230 293.7 C228.78 293.92 226.95 294.48 222.7 295 C218.45 295.52 210.55 296.2 204.5 296.8 C198.45 297.4 191.55 297.83 186.4 298.6 C181.25 299.37 178.17 300.78 173.6 301.4 C169.03 302.02 162.93 302.12 159 302.3 C155.07 302.48 152.17 302.28 150 302.5 C147.83 302.72 147.28 302.8 146 303.6 C144.72 304.4 143.53 305.02 142.3 307.3 C141.07 309.58 139.67 313.52 138.6 317.3 C137.53 321.08 136.8 323.63 135.9 330 C135 336.37 134.27 346.42 133.2 355.5 C132.13 364.58 130.72 376.02 129.5 384.5 C128.28 392.98 127.05 401.55 125.9 406.4 C124.75 411.25 123.82 414.82 122.6 413.6 C121.38 412.38 120.17 404.25 118.6 399.1 C117.03 393.95 115.32 387.7 113.2 382.7 C111.08 377.7 108.63 372.73 105.9 369.1 C103.17 365.47 100.13 363.17 96.8 360.9 C93.47 358.63 90.13 356.77 85.9 355.5 C81.67 354.23 75.28 353.62 71.4 353.3 C67.52 352.98 63.52 354.6 62.6 353.6 C61.68 352.6 64.13 349.72 65.9 347.3 C67.67 344.88 70.17 341.73 73.2 339.1 C76.23 336.47 81.07 333.62 84.1 331.5 C87.13 329.38 87.77 328.02 91.4 326.4 C95.03 324.78 101.37 323.32 105.9 321.8 C110.43 320.28 114.97 319.27 118.6 317.3 C122.23 315.33 124.97 313.33 127.7 310 C130.43 306.67 132.87 300.33 135 297.3 C137.13 294.27 137.77 293.18 140.5 291.8 C143.23 290.42 146.82 289.8 151.4 289 C155.98 288.2 162.17 287.5 168 287 C173.83 286.5 180.32 286.33 186.4 286 C192.48 285.67 200.23 285.5 204.5 285 C208.77 284.5 210.17 284.07 212 283 C213.83 281.93 214.33 279.63 215.5 278.6 C216.67 277.57 217.5 277 219 276.8 C220.5 276.6 222.67 277.4 224.5 277.4 C226.33 277.4 229.03 275.53 230 276.8 C230.97 278.07 230.3 282.18 230.3 285 C230.3 287.82 230.05 292.25 230 293.7" fill="none" stroke="#30ecc2" stroke-width="1.7" stroke-linejoin="round"/>
<path d="M230 282.8 C228.78 282.87 226.95 282.9 222.7 283.2 C218.45 283.5 210.55 284.15 204.5 284.6 C198.45 285.05 192.45 285.28 186.4 285.9 C180.35 286.52 173.43 287.37 168.2 288.3 C162.97 289.23 159.32 290.47 155 291.5 C150.68 292.53 146.85 293.38 142.3 294.5 C137.75 295.62 133.17 296.83 127.7 298.2 C122.23 299.57 115.55 301.18 109.5 302.7 C103.45 304.22 96.55 305.83 91.4 307.3 C86.25 308.77 82.25 309.98 78.6 311.5 C74.95 313.02 72.17 314.48 69.5 316.4 C66.83 318.32 61.98 321.95 62.6 323 C63.22 324.05 69.32 322.6 73.2 322.7 C77.08 322.8 81.97 323.13 85.9 323.6 C89.83 324.07 93.78 324.98 96.8 325.5 C99.82 326.02 101.57 326.7 104 326.7 C106.43 326.7 108.65 326.62 111.4 325.5 C114.15 324.38 117.48 321.67 120.5 320 C123.52 318.33 126.17 316.72 129.5 315.5 C132.83 314.28 136.25 313.37 140.5 312.7 C144.75 312.03 150.38 312.63 155 311.5 C159.62 310.37 164.48 307.73 168.2 305.9 C171.92 304.07 174.27 302.02 177.3 300.5 C180.33 298.98 181.87 297.87 186.4 296.8 C190.93 295.73 198.45 294.85 204.5 294.1 C210.55 293.35 218.45 292.9 222.7 292.3 C226.95 291.7 228.75 291.88 230 290.5 C231.25 289.12 230.2 285.28 230.2 284 C230.2 282.72 230.03 283 230 282.8" fill="none" stroke="#ff6c12" stroke-width="1.7" stroke-linejoin="round"/>
<path d="M230.4 279.5 C229.12 280.2 227.02 282.78 222.7 283.7 C218.38 284.62 210.55 284.57 204.5 285 C198.45 285.43 192.45 285.93 186.4 286.3 C180.35 286.67 173.43 286.75 168.2 287.2 C162.97 287.65 160.23 288.32 155 289 C149.77 289.68 142.87 290.53 136.8 291.3 C130.73 292.07 124.65 292.75 118.6 293.6 C112.55 294.45 106.55 295.33 100.5 296.4 C94.45 297.47 87.47 298.8 82.3 300 C77.13 301.2 72.78 302.23 69.5 303.6 C66.22 304.97 61.98 307.5 62.6 308.2 C63.22 308.9 68.4 307.8 73.2 307.8 C78 307.8 85.95 308.08 91.4 308.2 C96.85 308.32 101.37 308.95 105.9 308.5 C110.43 308.05 114.35 306.75 118.6 305.5 C122.85 304.25 127.45 302.08 131.4 301 C135.35 299.92 138.37 299.38 142.3 299 C146.23 298.62 150.68 299.07 155 298.7 C159.32 298.33 162.97 297.57 168.2 296.8 C173.43 296.03 180.35 294.92 186.4 294.1 C192.45 293.28 199.07 292.75 204.5 291.9 C209.93 291.05 215.35 289.9 219 289 C222.65 288.1 224.5 287.75 226.4 286.5 C228.3 285.25 229.73 282.67 230.4 281.5 C231.07 280.33 230.4 279.83 230.4 279.5" fill="none" stroke="#8818f4" stroke-width="1.7" stroke-linejoin="round"/>
<text x="43.4" y="274.3" font-size="17" font-family='"Liberation Serif", "Times New Roman", serif' font-weight="normal" fill="#000" textLength="19.3" lengthAdjust="spacingAndGlyphs">(a)</text>
<line x1="247.6" y1="324.8" x2="247.6" y2="360.8" stroke="#000" stroke-width="2.3"/>
<text x="204.5" y="345.5" font-size="12.2" font-family='"Liberation Sans", Arial, sans-serif' font-weight="bold" fill="#000" textLength="37.2" lengthAdjust="spacingAndGlyphs" stroke="#000" stroke-width="0.35">10 μA</text>
<text x="26.3" y="386.4" font-size="13.4" font-family='"Liberation Sans", Arial, sans-serif' font-weight="bold" fill="#000" textLength="87.1" lengthAdjust="spacingAndGlyphs" transform="rotate(-90 26.3 386.4)" stroke="#000" stroke-width="0.35">Current&#160; (μA)</text>
<text x="104.5" y="460.9" font-size="13.2" font-family='"Liberation Sans", Arial, sans-serif' font-weight="bold" fill="#000" textLength="91.9" lengthAdjust="spacingAndGlyphs" stroke="#000" stroke-width="0.35">E/V (Ag/AgCl)</text>
<rect x="37.5" y="473.9" width="218.7" height="180.4" fill="none" stroke="#000" stroke-width="1.5"/>
<line x1="50.36" y1="654.3" x2="50.36" y2="657.5" stroke="#000" stroke-width="1.1"/>
<text x="51.36" y="667.8" font-size="9.3" font-family='"Liberation Sans", Arial, sans-serif' font-weight="bold" fill="#000" text-anchor="middle" textLength="15.3" lengthAdjust="spacingAndGlyphs" stroke="#000" stroke-width="0.2">-1.0</text>
<line x1="76.09" y1="654.3" x2="76.09" y2="657.5" stroke="#000" stroke-width="1.1"/>
<text x="77.09" y="667.8" font-size="9.3" font-family='"Liberation Sans", Arial, sans-serif' font-weight="bold" fill="#000" text-anchor="middle" textLength="15.3" lengthAdjust="spacingAndGlyphs" stroke="#000" stroke-width="0.2">-0.8</text>
<line x1="101.82" y1="654.3" x2="101.82" y2="657.5" stroke="#000" stroke-width="1.1"/>
<text x="102.82" y="667.8" font-size="9.3" font-family='"Liberation Sans", Arial, sans-serif' font-weight="bold" fill="#000" text-anchor="middle" textLength="15.3" lengthAdjust="spacingAndGlyphs" stroke="#000" stroke-width="0.2">-0.6</text>
<line x1="127.55" y1="654.3" x2="127.55" y2="657.5" stroke="#000" stroke-width="1.1"/>
<text x="128.55" y="667.8" font-size="9.3" font-family='"Liberation Sans", Arial, sans-serif' font-weight="bold" fill="#000" text-anchor="middle" textLength="15.3" lengthAdjust="spacingAndGlyphs" stroke="#000" stroke-width="0.2">-0.4</text>
<line x1="153.28" y1="654.3" x2="153.28" y2="657.5" stroke="#000" stroke-width="1.1"/>
<text x="154.28" y="667.8" font-size="9.3" font-family='"Liberation Sans", Arial, sans-serif' font-weight="bold" fill="#000" text-anchor="middle" textLength="15.3" lengthAdjust="spacingAndGlyphs" stroke="#000" stroke-width="0.2">-0.2</text>
<line x1="179.01" y1="654.3" x2="179.01" y2="657.5" stroke="#000" stroke-width="1.1"/>
<text x="180.01" y="667.8" font-size="9.3" font-family='"Liberation Sans", Arial, sans-serif' font-weight="bold" fill="#000" text-anchor="middle" textLength="12.6" lengthAdjust="spacingAndGlyphs" stroke="#000" stroke-width="0.2">0.0</text>
<line x1="204.74" y1="654.3" x2="204.74" y2="657.5" stroke="#000" stroke-width="1.1"/>
<text x="205.74" y="667.8" font-size="9.3" font-family='"Liberation Sans", Arial, sans-serif' font-weight="bold" fill="#000" text-anchor="middle" textLength="12.6" lengthAdjust="spacingAndGlyphs" stroke="#000" stroke-width="0.2">0.2</text>
<line x1="230.47" y1="654.3" x2="230.47" y2="657.5" stroke="#000" stroke-width="1.1"/>
<text x="231.47" y="667.8" font-size="9.3" font-family='"Liberation Sans", Arial, sans-serif' font-weight="bold" fill="#000" text-anchor="middle" textLength="12.6" lengthAdjust="spacingAndGlyphs" stroke="#000" stroke-width="0.2">0.4</text>
<line x1="256.2" y1="654.3" x2="256.2" y2="657.5" stroke="#000" stroke-width="1.1"/>
<text x="257.2" y="667.8" font-size="9.3" font-family='"Liberation Sans", Arial, sans-serif' font-weight="bold" fill="#000" text-anchor="middle" textLength="12.6" lengthAdjust="spacingAndGlyphs" stroke="#000" stroke-width="0.2">0.6</text>
<line x1="81.24" y1="473.9" x2="81.24" y2="476.4" stroke="#000" stroke-width="1"/>
<line x1="124.98" y1="473.9" x2="124.98" y2="476.4" stroke="#000" stroke-width="1"/>
<line x1="168.72" y1="473.9" x2="168.72" y2="476.4" stroke="#000" stroke-width="1"/>
<line x1="212.46" y1="473.9" x2="212.46" y2="476.4" stroke="#000" stroke-width="1"/>
<line x1="37.5" y1="491.9" x2="39.3" y2="491.9" stroke="#000" stroke-width="1"/>
<line x1="256.2" y1="491.9" x2="254" y2="491.9" stroke="#000" stroke-width="1"/>
<line x1="37.5" y1="509.9" x2="39.3" y2="509.9" stroke="#000" stroke-width="1"/>
<line x1="256.2" y1="509.9" x2="254" y2="509.9" stroke="#000" stroke-width="1"/>
<line x1="37.5" y1="527.9" x2="39.3" y2="527.9" stroke="#000" stroke-width="1"/>
<line x1="256.2" y1="527.9" x2="254" y2="527.9" stroke="#000" stroke-width="1"/>
<line x1="37.5" y1="545.9" x2="39.3" y2="545.9" stroke="#000" stroke-width="1"/>
<line x1="256.2" y1="545.9" x2="254" y2="545.9" stroke="#000" stroke-width="1"/>
<line x1="37.5" y1="563.9" x2="39.3" y2="563.9" stroke="#000" stroke-width="1"/>
<line x1="256.2" y1="563.9" x2="254" y2="563.9" stroke="#000" stroke-width="1"/>
<line x1="37.5" y1="581.9" x2="39.3" y2="581.9" stroke="#000" stroke-width="1"/>
<line x1="256.2" y1="581.9" x2="254" y2="581.9" stroke="#000" stroke-width="1"/>
<line x1="37.5" y1="599.9" x2="39.3" y2="599.9" stroke="#000" stroke-width="1"/>
<line x1="256.2" y1="599.9" x2="254" y2="599.9" stroke="#000" stroke-width="1"/>
<line x1="37.5" y1="617.9" x2="39.3" y2="617.9" stroke="#000" stroke-width="1"/>
<line x1="256.2" y1="617.9" x2="254" y2="617.9" stroke="#000" stroke-width="1"/>
<line x1="37.5" y1="635.9" x2="39.3" y2="635.9" stroke="#000" stroke-width="1"/>
<line x1="256.2" y1="635.9" x2="254" y2="635.9" stroke="#000" stroke-width="1"/>
<path d="M63.3 541.3 C63.67 541.1 64.77 540.52 65.5 540.13 C66.23 539.74 66.93 539.25 67.7 538.96 C68.47 538.66 69.3 538.55 70.11 538.37 C70.92 538.18 71.74 538.03 72.55 537.86 C73.37 537.7 74.18 537.53 75 537.36 C75.81 537.2 76.62 537.03 77.44 536.86 C78.25 536.69 79.07 536.53 79.88 536.36 C80.69 536.19 81.51 536.03 82.32 535.86 C83.14 535.69 83.95 535.52 84.76 535.35 C85.58 535.18 86.39 535.01 87.2 534.83 C88.02 534.66 88.83 534.49 89.64 534.32 C90.46 534.15 91.27 533.98 92.08 533.81 C92.9 533.64 93.71 533.45 94.52 533.3 C95.34 533.15 96.16 533.03 96.98 532.91 C97.81 532.78 98.63 532.67 99.45 532.55 C100.27 532.43 101.1 532.31 101.92 532.19 C102.74 532.06 103.56 531.94 104.38 531.82 C105.21 531.7 106.03 531.58 106.85 531.46 C107.67 531.34 108.5 531.24 109.32 531.1 C110.14 530.96 110.95 530.78 111.76 530.62 C112.58 530.45 113.39 530.26 114.2 530.08 C115.01 529.91 115.82 529.73 116.63 529.55 C117.45 529.38 118.26 529.21 119.07 529.02 C119.88 528.83 120.69 528.66 121.48 528.41 C122.27 528.15 123.02 527.79 123.8 527.48 C124.57 527.17 125.34 526.86 126.11 526.56 C126.88 526.25 127.65 525.94 128.44 525.66 C129.22 525.39 130.02 525.16 130.82 524.92 C131.61 524.67 132.4 524.39 133.19 524.17 C133.99 523.94 134.78 523.69 135.6 523.58 C136.42 523.46 137.26 523.51 138.09 523.48 C138.92 523.44 139.75 523.41 140.58 523.38 C141.41 523.34 142.24 523.31 143.07 523.28 C143.9 523.24 144.73 523.21 145.56 523.18 C146.39 523.14 147.23 523.12 148.05 523.08 C148.88 523.03 149.72 523.01 150.54 522.91 C151.36 522.82 152.18 522.65 153 522.52 C153.82 522.39 154.64 522.26 155.46 522.13 C156.28 521.99 157.1 521.86 157.93 521.73 C158.75 521.6 159.57 521.47 160.39 521.34 C161.21 521.21 162.03 521.07 162.85 520.94 C163.67 520.82 164.49 520.67 165.31 520.57 C166.14 520.48 166.97 520.43 167.8 520.36 C168.63 520.3 169.45 520.23 170.28 520.16 C171.11 520.09 171.94 520.02 172.77 519.95 C173.59 519.88 174.42 519.81 175.25 519.74 C176.08 519.67 176.91 519.6 177.74 519.53 C178.56 519.46 179.39 519.39 180.22 519.32 C181.05 519.25 181.88 519.18 182.7 519.11 C183.53 519.04 184.36 518.97 185.19 518.9 C186.02 518.83 186.84 518.77 187.67 518.7 C188.5 518.63 189.33 518.56 190.16 518.49 C190.99 518.42 191.81 518.35 192.64 518.28 C193.47 518.21 194.3 518.13 195.13 518.06 C195.95 517.99 196.78 517.92 197.61 517.85 C198.44 517.78 199.27 517.71 200.09 517.64 C200.92 517.57 201.75 517.5 202.58 517.43 C203.41 517.36 204.23 517.29 205.06 517.22 C205.89 517.15 206.72 517.08 207.55 517.01 C208.37 516.94 209.23 516.97 210.03 516.79 C210.83 516.6 211.58 516.2 212.36 515.9 C213.14 515.61 213.91 515.31 214.69 515.02 C215.47 514.72 216.24 514.43 217.02 514.13 C217.8 513.84 218.56 513.49 219.35 513.25 C220.14 513.01 220.96 512.86 221.77 512.69 C222.59 512.53 223.41 512.41 224.23 512.27 C225.05 512.13 225.87 511.99 226.69 511.85 C227.51 511.71 228.32 511.56 229.14 511.42 C229.96 511.28 231.19 510.57 231.6 511 C232.01 511.43 231.96 513.44 231.6 514 C231.24 514.56 230.16 514.25 229.43 514.37 C228.71 514.5 227.99 514.62 227.27 514.75 C226.55 514.87 225.82 515 225.1 515.12 C224.38 515.24 223.66 515.37 222.94 515.49 C222.21 515.62 221.49 515.71 220.77 515.87 C220.06 516.02 219.35 516.21 218.64 516.41 C217.94 516.6 217.24 516.83 216.54 517.04 C215.84 517.25 215.14 517.46 214.43 517.67 C213.73 517.88 213.03 518.09 212.33 518.3 C211.63 518.51 210.94 518.78 210.22 518.93 C209.51 519.09 208.78 519.15 208.05 519.24 C207.33 519.34 206.6 519.43 205.87 519.52 C205.14 519.61 204.42 519.7 203.69 519.79 C202.96 519.88 202.24 519.97 201.51 520.06 C200.78 520.15 200.05 520.24 199.33 520.33 C198.6 520.42 197.87 520.52 197.15 520.61 C196.42 520.7 195.69 520.79 194.97 520.88 C194.24 520.97 193.51 521.06 192.79 521.15 C192.06 521.24 191.33 521.34 190.6 521.42 C189.88 521.51 189.15 521.58 188.42 521.66 C187.69 521.73 186.96 521.8 186.23 521.88 C185.5 521.95 184.77 522.02 184.05 522.1 C183.32 522.17 182.59 522.24 181.86 522.31 C181.13 522.39 180.4 522.46 179.67 522.53 C178.94 522.61 178.21 522.68 177.49 522.75 C176.76 522.82 176.03 522.9 175.3 522.97 C174.57 523.04 173.84 523.12 173.11 523.19 C172.38 523.26 171.65 523.33 170.92 523.41 C170.2 523.48 169.47 523.55 168.74 523.63 C168.01 523.7 167.28 523.78 166.55 523.84 C165.82 523.91 165.09 523.99 164.36 524.04 C163.63 524.1 162.9 524.14 162.17 524.19 C161.44 524.24 160.71 524.29 159.98 524.33 C159.25 524.38 158.51 524.43 157.78 524.48 C157.05 524.53 156.32 524.58 155.59 524.63 C154.86 524.68 154.13 524.72 153.4 524.77 C152.67 524.82 151.93 524.85 151.2 524.92 C150.48 524.99 149.75 525.07 149.03 525.18 C148.3 525.28 147.58 525.44 146.86 525.56 C146.14 525.69 145.42 525.82 144.7 525.95 C143.98 526.08 143.26 526.21 142.54 526.34 C141.82 526.47 141.06 526.5 140.37 526.73 C139.69 526.96 139.08 527.38 138.44 527.74 C137.8 528.09 137.1 528.42 136.56 528.87 C136.01 529.31 135.52 529.81 135.16 530.4 C134.8 531 134.64 531.78 134.39 532.46 C134.13 533.15 133.87 533.83 133.61 534.52 C133.35 535.2 133.08 535.89 132.84 536.57 C132.59 537.26 132.34 537.95 132.13 538.65 C131.91 539.35 131.75 540.07 131.56 540.78 C131.37 541.48 131.18 542.19 130.99 542.9 C130.8 543.61 130.62 544.31 130.43 545.02 C130.24 545.73 130.05 546.44 129.86 547.15 C129.67 547.85 129.48 548.56 129.29 549.27 C129.11 549.98 128.96 550.7 128.73 551.39 C128.5 552.09 128.2 552.76 127.93 553.44 C127.67 554.12 127.4 554.81 127.13 555.49 C126.86 556.17 126.68 556.93 126.32 557.53 C125.97 558.14 125.53 558.67 124.99 559.12 C124.45 559.57 123.73 560.07 123.08 560.21 C122.44 560.36 121.78 560.19 121.12 559.99 C120.47 559.8 119.78 559.4 119.14 559.04 C118.51 558.69 117.89 558.31 117.31 557.87 C116.74 557.43 116.23 556.88 115.69 556.38 C115.15 555.89 114.61 555.39 114.07 554.9 C113.53 554.4 113.03 553.85 112.45 553.41 C111.87 552.98 111.22 552.64 110.58 552.29 C109.94 551.94 109.27 551.64 108.62 551.31 C107.96 550.98 107.34 550.55 106.65 550.33 C105.96 550.1 105.21 550.07 104.49 549.94 C103.77 549.82 103.04 549.7 102.32 549.58 C101.6 549.46 100.88 549.33 100.15 549.21 C99.43 549.09 98.71 548.97 97.99 548.85 C97.27 548.72 96.54 548.6 95.82 548.48 C95.1 548.36 94.38 548.23 93.65 548.11 C92.93 547.99 92.21 547.87 91.49 547.75 C90.76 547.64 90.04 547.53 89.31 547.42 C88.59 547.31 87.86 547.2 87.14 547.09 C86.42 546.98 85.69 546.87 84.97 546.76 C84.24 546.65 83.52 546.54 82.79 546.43 C82.07 546.32 81.35 546.21 80.62 546.1 C79.9 545.99 79.17 545.88 78.45 545.77 C77.72 545.66 77 545.55 76.28 545.44 C75.55 545.33 74.83 545.23 74.1 545.11 C73.38 544.99 72.66 544.86 71.94 544.73 C71.22 544.59 70.5 544.45 69.78 544.32 C69.06 544.18 68.34 544.05 67.62 543.91 C66.9 543.78 66.18 543.64 65.46 543.51 C64.74 543.37 63.66 543.47 63.3 543.1 C62.94 542.73 63.3 541.6 63.3 541.3" fill="none" stroke="#1e9bff" stroke-width="1.5" stroke-linejoin="round"/>
<path d="M63.3 545.13 C63.65 544.91 64.68 544.26 65.38 543.82 C66.07 543.38 66.73 542.85 67.45 542.5 C68.18 542.15 68.96 541.97 69.72 541.72 C70.49 541.47 71.25 541.25 72.04 541.03 C72.82 540.8 73.62 540.58 74.41 540.36 C75.2 540.14 76 539.91 76.79 539.69 C77.58 539.47 78.37 539.25 79.16 539.03 C79.96 538.8 80.74 538.58 81.54 538.36 C82.34 538.14 83.15 537.93 83.96 537.73 C84.77 537.52 85.58 537.31 86.4 537.11 C87.21 536.9 88.02 536.7 88.83 536.49 C89.64 536.28 90.46 536.08 91.27 535.87 C92.08 535.67 92.89 535.44 93.7 535.25 C94.52 535.07 95.34 534.91 96.16 534.75 C96.98 534.59 97.81 534.44 98.64 534.3 C99.46 534.15 100.3 534.02 101.13 533.88 C101.96 533.73 102.79 533.59 103.62 533.45 C104.45 533.31 105.28 533.17 106.11 533.03 C106.94 532.89 107.78 532.76 108.6 532.6 C109.43 532.44 110.25 532.25 111.07 532.07 C111.9 531.88 112.72 531.68 113.54 531.49 C114.36 531.29 115.18 531.09 115.99 530.89 C116.81 530.69 117.63 530.51 118.45 530.29 C119.26 530.08 120.09 529.89 120.88 529.62 C121.68 529.35 122.45 528.99 123.23 528.66 C124 528.33 124.76 527.98 125.53 527.64 C126.29 527.31 127.05 526.95 127.82 526.64 C128.6 526.32 129.39 526.06 130.17 525.77 C130.95 525.47 131.72 525.16 132.5 524.89 C133.28 524.62 134.05 524.32 134.85 524.14 C135.65 523.97 136.47 523.95 137.28 523.85 C138.09 523.75 138.91 523.66 139.72 523.57 C140.54 523.47 141.35 523.38 142.17 523.29 C142.99 523.2 143.81 523.12 144.64 523.04 C145.46 522.95 146.3 522.89 147.13 522.8 C147.96 522.72 148.79 522.65 149.62 522.53 C150.45 522.41 151.27 522.22 152.1 522.07 C152.93 521.92 153.76 521.78 154.6 521.64 C155.43 521.5 156.27 521.37 157.1 521.24 C157.93 521.1 158.77 520.97 159.6 520.83 C160.43 520.7 161.27 520.56 162.1 520.43 C162.94 520.3 163.77 520.16 164.61 520.06 C165.45 519.96 166.29 519.91 167.13 519.83 C167.97 519.76 168.81 519.68 169.65 519.61 C170.5 519.53 171.34 519.46 172.18 519.38 C173.02 519.31 173.86 519.23 174.7 519.15 C175.54 519.07 176.38 518.99 177.22 518.92 C178.06 518.84 178.9 518.76 179.74 518.68 C180.59 518.61 181.43 518.53 182.27 518.45 C183.11 518.37 183.95 518.29 184.79 518.22 C185.63 518.14 186.47 518.06 187.31 517.98 C188.15 517.91 188.99 517.83 189.83 517.75 C190.67 517.67 191.51 517.59 192.36 517.51 C193.2 517.43 194.04 517.35 194.88 517.27 C195.72 517.19 196.56 517.11 197.4 517.03 C198.24 516.95 199.08 516.87 199.92 516.79 C200.76 516.71 201.6 516.63 202.44 516.55 C203.28 516.47 204.12 516.39 204.96 516.3 C205.8 516.22 206.64 516.14 207.48 516.06 C208.32 515.98 209.19 516.01 210 515.81 C210.81 515.62 211.57 515.2 212.36 514.9 C213.15 514.59 213.93 514.28 214.72 513.97 C215.5 513.67 216.29 513.36 217.08 513.05 C217.86 512.74 218.64 512.39 219.43 512.12 C220.23 511.86 221.03 511.66 221.84 511.46 C222.65 511.25 223.47 511.09 224.28 510.91 C225.1 510.73 225.91 510.54 226.73 510.36 C227.54 510.17 228.35 509.99 229.16 509.8 C229.98 509.62 231.19 508.48 231.6 509.25 C232.01 510.02 231.97 513.48 231.6 514.42 C231.23 515.36 230.14 514.73 229.4 514.89 C228.67 515.05 227.93 515.2 227.21 515.37 C226.48 515.53 225.76 515.71 225.05 515.88 C224.33 516.06 223.62 516.25 222.89 516.41 C222.17 516.58 221.43 516.71 220.7 516.88 C219.97 517.06 219.24 517.26 218.52 517.45 C217.79 517.64 217.07 517.82 216.34 518.01 C215.61 518.19 214.89 518.37 214.16 518.56 C213.43 518.75 212.71 518.95 211.98 519.15 C211.26 519.34 210.54 519.6 209.8 519.75 C209.07 519.9 208.31 519.96 207.56 520.05 C206.82 520.15 206.07 520.23 205.32 520.32 C204.57 520.41 203.82 520.51 203.07 520.6 C202.32 520.69 201.57 520.78 200.82 520.87 C200.07 520.96 199.32 521.05 198.57 521.14 C197.82 521.23 197.07 521.32 196.32 521.4 C195.57 521.49 194.83 521.58 194.08 521.67 C193.33 521.76 192.58 521.85 191.83 521.94 C191.08 522.03 190.33 522.12 189.58 522.21 C188.83 522.29 188.08 522.36 187.33 522.44 C186.58 522.51 185.83 522.58 185.07 522.65 C184.32 522.73 183.57 522.8 182.82 522.87 C182.07 522.94 181.32 523.01 180.57 523.09 C179.82 523.17 179.07 523.25 178.32 523.33 C177.57 523.42 176.82 523.51 176.07 523.6 C175.32 523.69 174.58 523.78 173.83 523.87 C173.08 523.96 172.33 524.05 171.58 524.14 C170.83 524.22 170.08 524.3 169.33 524.38 C168.58 524.47 167.83 524.55 167.08 524.63 C166.33 524.72 165.58 524.8 164.83 524.88 C164.08 524.96 163.33 525.05 162.58 525.12 C161.83 525.19 161.07 525.23 160.33 525.31 C159.59 525.4 158.86 525.51 158.13 525.6 C157.4 525.7 156.66 525.8 155.94 525.91 C155.22 526.02 154.52 526.14 153.81 526.26 C153.11 526.38 152.42 526.51 151.73 526.63 C151.03 526.75 150.34 526.86 149.64 527 C148.95 527.14 148.26 527.3 147.57 527.47 C146.89 527.65 146.21 527.87 145.53 528.07 C144.85 528.27 144.18 528.48 143.51 528.68 C142.83 528.88 142.16 529.08 141.48 529.28 C140.81 529.48 140.09 529.59 139.45 529.88 C138.81 530.18 138.24 530.64 137.64 531.05 C137.04 531.45 136.38 531.84 135.87 532.33 C135.35 532.82 134.89 533.35 134.55 533.99 C134.2 534.62 134.04 535.41 133.79 536.12 C133.54 536.83 133.29 537.54 133.04 538.25 C132.79 538.96 132.54 539.67 132.3 540.38 C132.06 541.09 131.81 541.81 131.6 542.53 C131.4 543.26 131.23 543.99 131.05 544.72 C130.86 545.46 130.67 546.19 130.49 546.92 C130.3 547.65 130.12 548.38 129.93 549.11 C129.74 549.84 129.56 550.57 129.37 551.3 C129.18 552.03 129 552.77 128.81 553.5 C128.63 554.23 128.47 554.97 128.25 555.69 C128.03 556.41 127.74 557.11 127.48 557.81 C127.22 558.52 126.96 559.23 126.7 559.93 C126.44 560.64 126.26 561.42 125.92 562.05 C125.58 562.69 125.17 563.27 124.66 563.76 C124.15 564.25 123.47 564.79 122.87 565 C122.27 565.22 121.65 565.14 121.04 565.05 C120.42 564.95 119.78 564.67 119.18 564.43 C118.57 564.18 117.98 563.91 117.42 563.59 C116.87 563.26 116.38 562.84 115.85 562.46 C115.33 562.09 114.82 561.72 114.29 561.33 C113.75 560.95 113.23 560.55 112.65 560.14 C112.06 559.74 111.41 559.31 110.78 558.92 C110.15 558.53 109.51 558.16 108.88 557.79 C108.24 557.41 107.64 556.94 106.98 556.66 C106.31 556.37 105.59 556.27 104.9 556.08 C104.2 555.89 103.51 555.7 102.82 555.51 C102.12 555.32 101.43 555.13 100.73 554.94 C100.03 554.76 99.33 554.58 98.62 554.4 C97.91 554.22 97.19 554.05 96.47 553.87 C95.76 553.69 95.05 553.51 94.33 553.34 C93.62 553.16 92.91 552.98 92.19 552.81 C91.47 552.65 90.73 552.51 90 552.37 C89.26 552.22 88.52 552.09 87.78 551.95 C87.04 551.82 86.31 551.68 85.57 551.54 C84.83 551.4 84.09 551.26 83.35 551.13 C82.61 550.99 81.87 550.87 81.13 550.74 C80.38 550.62 79.63 550.51 78.89 550.39 C78.14 550.28 77.4 550.16 76.65 550.04 C75.91 549.93 75.16 549.82 74.42 549.69 C73.67 549.57 72.93 549.43 72.19 549.3 C71.44 549.16 70.7 549.01 69.96 548.87 C69.22 548.72 68.48 548.58 67.74 548.43 C67 548.29 66.26 548.14 65.52 548 C64.78 547.85 63.67 548.04 63.3 547.56 C62.93 547.08 63.3 545.54 63.3 545.13" fill="none" stroke="#00c8f0" stroke-width="1.5" stroke-linejoin="round"/>
<path d="M63.3 548.97 C63.63 548.72 64.6 547.99 65.25 547.51 C65.9 547.02 66.53 546.46 67.21 546.05 C67.89 545.64 68.61 545.38 69.33 545.07 C70.05 544.76 70.77 544.47 71.52 544.19 C72.27 543.9 73.06 543.63 73.83 543.36 C74.6 543.08 75.37 542.8 76.14 542.52 C76.91 542.25 77.68 541.97 78.45 541.69 C79.22 541.42 79.97 541.13 80.76 540.86 C81.54 540.6 82.35 540.35 83.16 540.11 C83.96 539.86 84.78 539.62 85.59 539.38 C86.4 539.14 87.21 538.9 88.02 538.66 C88.83 538.42 89.64 538.18 90.45 537.93 C91.26 537.69 92.07 537.43 92.88 537.21 C93.7 536.99 94.51 536.78 95.33 536.59 C96.15 536.39 96.99 536.22 97.82 536.05 C98.66 535.88 99.5 535.73 100.34 535.57 C101.18 535.4 102.02 535.24 102.85 535.08 C103.69 534.92 104.53 534.76 105.37 534.59 C106.21 534.43 107.05 534.29 107.89 534.11 C108.72 533.93 109.56 533.72 110.39 533.52 C111.22 533.32 112.05 533.11 112.88 532.89 C113.71 532.68 114.53 532.45 115.35 532.23 C116.18 532.01 117.01 531.8 117.83 531.57 C118.65 531.33 119.48 531.12 120.28 530.83 C121.09 530.54 121.88 530.19 122.66 529.84 C123.43 529.49 124.18 529.1 124.94 528.73 C125.7 528.36 126.44 527.96 127.21 527.61 C127.97 527.26 128.75 526.95 129.52 526.62 C130.28 526.28 131.04 525.92 131.81 525.6 C132.57 525.29 133.33 524.94 134.1 524.71 C134.88 524.48 135.68 524.38 136.47 524.22 C137.26 524.06 138.07 523.91 138.86 523.76 C139.66 523.6 140.46 523.44 141.26 523.3 C142.07 523.15 142.89 523.02 143.71 522.89 C144.54 522.77 145.37 522.65 146.2 522.53 C147.03 522.4 147.87 522.3 148.7 522.15 C149.54 522 150.37 521.79 151.21 521.62 C152.04 521.45 152.89 521.3 153.73 521.16 C154.58 521.01 155.43 520.88 156.27 520.74 C157.12 520.61 157.97 520.47 158.81 520.33 C159.66 520.19 160.51 520.05 161.36 519.92 C162.2 519.79 163.05 519.64 163.9 519.54 C164.75 519.44 165.61 519.38 166.46 519.3 C167.32 519.22 168.17 519.14 169.03 519.06 C169.88 518.98 170.74 518.9 171.59 518.82 C172.44 518.74 173.3 518.65 174.15 518.56 C175 518.48 175.86 518.39 176.71 518.3 C177.56 518.22 178.42 518.13 179.27 518.05 C180.12 517.96 180.98 517.87 181.83 517.79 C182.68 517.7 183.54 517.61 184.39 517.53 C185.24 517.44 186.1 517.36 186.95 517.27 C187.8 517.18 188.66 517.1 189.51 517.01 C190.36 516.93 191.22 516.84 192.07 516.75 C192.92 516.66 193.77 516.57 194.63 516.48 C195.48 516.39 196.33 516.3 197.18 516.21 C198.04 516.12 198.89 516.03 199.74 515.94 C200.59 515.84 201.45 515.75 202.3 515.66 C203.15 515.57 204 515.48 204.86 515.39 C205.71 515.3 206.56 515.21 207.41 515.12 C208.27 515.02 209.14 515.04 209.97 514.84 C210.79 514.63 211.56 514.21 212.36 513.89 C213.16 513.57 213.95 513.25 214.75 512.93 C215.54 512.61 216.34 512.29 217.13 511.97 C217.93 511.65 218.72 511.29 219.51 511 C220.31 510.7 221.11 510.46 221.91 510.22 C222.72 509.98 223.53 509.77 224.34 509.55 C225.15 509.32 225.96 509.09 226.76 508.87 C227.57 508.64 228.38 508.41 229.18 508.18 C229.99 507.96 231.2 506.39 231.6 507.5 C232 508.61 231.97 513.52 231.6 514.83 C231.23 516.15 230.11 515.22 229.37 515.41 C228.63 515.6 227.87 515.78 227.14 515.98 C226.41 516.19 225.7 516.42 224.99 516.65 C224.27 516.87 223.58 517.12 222.85 517.33 C222.12 517.54 221.37 517.7 220.62 517.9 C219.88 518.09 219.14 518.31 218.39 518.49 C217.64 518.67 216.89 518.81 216.14 518.98 C215.39 519.14 214.64 519.29 213.89 519.46 C213.14 519.63 212.39 519.81 211.64 519.99 C210.89 520.18 210.14 520.42 209.38 520.56 C208.62 520.71 207.85 520.77 207.08 520.86 C206.31 520.96 205.53 521.04 204.76 521.13 C203.99 521.22 203.22 521.31 202.45 521.4 C201.68 521.49 200.9 521.58 200.13 521.67 C199.36 521.76 198.59 521.85 197.82 521.94 C197.05 522.03 196.27 522.12 195.5 522.2 C194.73 522.29 193.96 522.38 193.19 522.46 C192.41 522.55 191.64 522.64 190.87 522.73 C190.1 522.81 189.33 522.9 188.56 522.99 C187.78 523.07 187.01 523.14 186.24 523.21 C185.46 523.29 184.69 523.36 183.92 523.43 C183.14 523.5 182.37 523.57 181.59 523.65 C180.82 523.72 180.05 523.78 179.27 523.86 C178.5 523.94 177.73 524.04 176.96 524.13 C176.19 524.23 175.43 524.35 174.66 524.45 C173.89 524.56 173.12 524.66 172.36 524.77 C171.59 524.87 170.82 524.98 170.05 525.08 C169.28 525.18 168.51 525.27 167.74 525.36 C166.97 525.46 166.2 525.55 165.43 525.64 C164.66 525.74 163.89 525.83 163.12 525.92 C162.35 526.02 161.58 526.11 160.81 526.2 C160.04 526.29 159.25 526.33 158.49 526.44 C157.74 526.55 157.02 526.72 156.29 526.87 C155.56 527.03 154.81 527.17 154.1 527.34 C153.39 527.51 152.71 527.7 152.04 527.89 C151.36 528.08 150.72 528.29 150.06 528.49 C149.4 528.68 148.74 528.87 148.08 529.08 C147.43 529.3 146.77 529.52 146.12 529.77 C145.47 530.02 144.84 530.31 144.2 530.58 C143.57 530.85 142.94 531.13 142.31 531.4 C141.68 531.67 141.05 531.94 140.42 532.21 C139.79 532.49 139.13 532.67 138.54 533.03 C137.94 533.39 137.4 533.9 136.84 534.36 C136.28 534.82 135.67 535.26 135.18 535.79 C134.7 536.33 134.26 536.9 133.93 537.57 C133.6 538.23 133.44 539.04 133.2 539.77 C132.96 540.51 132.72 541.24 132.48 541.98 C132.24 542.71 131.99 543.45 131.75 544.19 C131.52 544.92 131.29 545.66 131.08 546.41 C130.88 547.16 130.72 547.92 130.53 548.67 C130.35 549.43 130.17 550.18 129.98 550.94 C129.8 551.69 129.61 552.44 129.43 553.2 C129.25 553.95 129.06 554.71 128.88 555.46 C128.7 556.22 128.51 556.97 128.33 557.72 C128.14 558.48 127.99 559.24 127.78 559.99 C127.56 560.73 127.28 561.45 127.03 562.19 C126.78 562.92 126.53 563.65 126.28 564.38 C126.03 565.11 125.85 565.91 125.52 566.58 C125.2 567.25 124.81 567.86 124.33 568.39 C123.85 568.93 123.22 569.51 122.66 569.8 C122.09 570.08 121.52 570.1 120.95 570.11 C120.37 570.11 119.78 569.94 119.21 569.81 C118.64 569.68 118.06 569.52 117.53 569.3 C117 569.09 116.52 568.79 116.01 568.54 C115.51 568.28 115.03 568.05 114.5 567.77 C113.97 567.49 113.43 567.24 112.84 566.87 C112.25 566.5 111.59 565.98 110.97 565.55 C110.36 565.11 109.75 564.69 109.14 564.27 C108.53 563.84 107.94 563.33 107.3 562.99 C106.66 562.65 105.97 562.47 105.31 562.21 C104.64 561.95 103.98 561.7 103.31 561.44 C102.64 561.19 101.99 560.93 101.31 560.68 C100.64 560.43 99.94 560.19 99.25 559.95 C98.55 559.72 97.83 559.49 97.13 559.26 C96.42 559.03 95.72 558.8 95.01 558.56 C94.3 558.33 93.61 558.08 92.89 557.87 C92.17 557.67 91.43 557.49 90.68 557.31 C89.94 557.14 89.18 556.98 88.43 556.82 C87.67 556.65 86.92 556.49 86.17 556.32 C85.41 556.15 84.67 555.98 83.91 555.82 C83.15 555.67 82.39 555.52 81.63 555.39 C80.87 555.25 80.1 555.14 79.33 555.02 C78.56 554.9 77.8 554.77 77.03 554.65 C76.26 554.53 75.49 554.41 74.73 554.28 C73.96 554.15 73.2 554.01 72.43 553.87 C71.67 553.73 70.91 553.57 70.15 553.42 C69.39 553.27 68.63 553.11 67.86 552.95 C67.1 552.8 66.34 552.64 65.58 552.48 C64.82 552.33 63.68 552.6 63.3 552.02 C62.92 551.43 63.3 549.48 63.3 548.97" fill="none" stroke="#22dcb0" stroke-width="1.5" stroke-linejoin="round"/>
<path d="M63.3 552.8 C63.6 552.53 64.52 551.73 65.13 551.2 C65.74 550.66 66.32 550.06 66.96 549.6 C67.59 549.13 68.27 548.8 68.94 548.43 C69.62 548.05 70.28 547.69 71 547.35 C71.72 547 72.5 546.68 73.24 546.35 C73.99 546.02 74.74 545.69 75.49 545.36 C76.24 545.02 76.99 544.69 77.73 544.36 C78.48 544.03 79.21 543.68 79.98 543.36 C80.75 543.05 81.55 542.77 82.36 542.49 C83.16 542.2 83.97 541.93 84.78 541.66 C85.59 541.38 86.4 541.1 87.21 540.83 C88.02 540.55 88.83 540.27 89.64 540 C90.44 539.72 91.25 539.43 92.06 539.16 C92.87 538.9 93.68 538.65 94.51 538.42 C95.33 538.2 96.17 538 97.01 537.8 C97.85 537.61 98.7 537.44 99.55 537.26 C100.4 537.07 101.24 536.89 102.09 536.71 C102.94 536.52 103.78 536.34 104.63 536.16 C105.48 535.98 106.33 535.81 107.17 535.61 C108.02 535.41 108.86 535.19 109.7 534.97 C110.54 534.75 111.38 534.53 112.22 534.3 C113.05 534.06 113.88 533.81 114.71 533.57 C115.55 533.33 116.38 533.09 117.21 532.84 C118.04 532.58 118.87 532.35 119.68 532.04 C120.5 531.74 121.31 531.39 122.09 531.02 C122.86 530.65 123.6 530.22 124.36 529.82 C125.11 529.41 125.84 528.98 126.59 528.59 C127.34 528.19 128.11 527.84 128.87 527.47 C129.62 527.09 130.37 526.69 131.11 526.32 C131.86 525.96 132.6 525.56 133.36 525.27 C134.11 524.99 134.89 524.82 135.66 524.6 C136.44 524.38 137.22 524.16 138.01 523.95 C138.79 523.73 139.56 523.51 140.36 523.31 C141.16 523.11 141.97 522.93 142.79 522.75 C143.61 522.58 144.44 522.41 145.27 522.25 C146.1 522.09 146.94 521.95 147.78 521.77 C148.62 521.59 149.46 521.35 150.31 521.17 C151.16 520.99 152.01 520.83 152.87 520.67 C153.72 520.52 154.59 520.39 155.45 520.25 C156.31 520.11 157.17 519.97 158.03 519.83 C158.89 519.69 159.75 519.54 160.61 519.41 C161.47 519.27 162.33 519.13 163.19 519.02 C164.06 518.91 164.93 518.85 165.8 518.77 C166.66 518.68 167.53 518.6 168.4 518.52 C169.27 518.43 170.13 518.35 171 518.26 C171.87 518.17 172.73 518.07 173.6 517.97 C174.46 517.88 175.33 517.78 176.2 517.69 C177.06 517.6 177.93 517.5 178.79 517.41 C179.66 517.31 180.53 517.22 181.39 517.12 C182.26 517.03 183.12 516.94 183.99 516.84 C184.86 516.75 185.72 516.65 186.59 516.56 C187.45 516.46 188.32 516.37 189.18 516.28 C190.05 516.18 190.92 516.09 191.78 515.99 C192.65 515.89 193.51 515.79 194.38 515.69 C195.24 515.59 196.11 515.49 196.97 515.39 C197.84 515.29 198.7 515.18 199.57 515.08 C200.43 514.98 201.29 514.88 202.16 514.78 C203.02 514.68 203.89 514.57 204.75 514.47 C205.62 514.37 206.48 514.27 207.35 514.17 C208.21 514.07 209.1 514.07 209.94 513.86 C210.78 513.64 211.56 513.21 212.36 512.88 C213.17 512.55 213.97 512.22 214.78 511.88 C215.58 511.55 216.39 511.22 217.19 510.89 C217.99 510.55 218.79 510.19 219.59 509.87 C220.39 509.55 221.18 509.26 221.98 508.98 C222.78 508.7 223.59 508.45 224.4 508.18 C225.2 507.92 226 507.65 226.8 507.38 C227.6 507.11 228.4 506.84 229.2 506.56 C230 506.29 231.2 504.3 231.6 505.75 C232 507.2 231.98 513.55 231.6 515.25 C231.22 516.95 230.09 515.7 229.34 515.93 C228.59 516.15 227.82 516.36 227.08 516.6 C226.35 516.85 225.64 517.14 224.93 517.41 C224.22 517.68 223.54 518 222.81 518.25 C222.08 518.5 221.31 518.7 220.55 518.91 C219.79 519.13 219.03 519.36 218.26 519.54 C217.5 519.71 216.71 519.81 215.94 519.94 C215.16 520.08 214.39 520.2 213.61 520.35 C212.84 520.5 212.06 520.67 211.29 520.84 C210.51 521.01 209.75 521.24 208.96 521.38 C208.18 521.52 207.38 521.58 206.59 521.67 C205.8 521.77 205 521.85 204.21 521.94 C203.41 522.03 202.62 522.12 201.83 522.21 C201.03 522.3 200.24 522.39 199.44 522.48 C198.65 522.57 197.86 522.66 197.06 522.74 C196.27 522.83 195.47 522.92 194.68 523 C193.88 523.09 193.09 523.17 192.3 523.26 C191.5 523.34 190.71 523.43 189.91 523.51 C189.12 523.6 188.33 523.69 187.53 523.77 C186.74 523.85 185.94 523.92 185.14 523.99 C184.35 524.07 183.55 524.14 182.76 524.21 C181.96 524.28 181.17 524.35 180.37 524.42 C179.57 524.49 178.78 524.55 177.98 524.64 C177.19 524.72 176.4 524.82 175.61 524.94 C174.82 525.05 174.03 525.18 173.25 525.3 C172.46 525.42 171.67 525.55 170.89 525.67 C170.1 525.79 169.31 525.92 168.52 526.03 C167.73 526.14 166.94 526.24 166.15 526.34 C165.36 526.44 164.57 526.55 163.77 526.65 C162.98 526.75 162.19 526.86 161.4 526.96 C160.61 527.07 159.82 527.18 159.03 527.28 C158.24 527.38 157.42 527.42 156.66 527.57 C155.89 527.71 155.18 527.94 154.44 528.14 C153.71 528.35 152.96 528.54 152.26 528.77 C151.56 529 150.91 529.26 150.26 529.52 C149.62 529.78 149.02 530.07 148.39 530.34 C147.77 530.62 147.15 530.88 146.52 531.17 C145.9 531.45 145.27 531.75 144.67 532.07 C144.06 532.39 143.46 532.75 142.87 533.09 C142.28 533.43 141.7 533.78 141.12 534.12 C140.54 534.46 139.95 534.81 139.37 535.15 C138.78 535.49 138.17 535.76 137.62 536.18 C137.06 536.6 136.56 537.16 136.04 537.67 C135.52 538.18 134.95 538.68 134.49 539.26 C134.04 539.83 133.63 540.45 133.32 541.15 C133 541.84 132.84 542.67 132.61 543.43 C132.38 544.19 132.14 544.95 131.91 545.71 C131.68 546.47 131.44 547.23 131.21 547.99 C130.99 548.76 130.76 549.52 130.56 550.29 C130.36 551.06 130.2 551.84 130.02 552.62 C129.84 553.4 129.66 554.18 129.48 554.95 C129.29 555.73 129.11 556.51 128.93 557.29 C128.75 558.06 128.57 558.84 128.39 559.62 C128.21 560.4 128.03 561.17 127.85 561.95 C127.66 562.73 127.51 563.51 127.3 564.28 C127.09 565.05 126.82 565.8 126.58 566.56 C126.34 567.31 126.09 568.07 125.85 568.83 C125.61 569.59 125.43 570.4 125.12 571.1 C124.82 571.8 124.45 572.45 124 573.03 C123.56 573.61 122.97 574.23 122.45 574.59 C121.92 574.94 121.39 575.06 120.86 575.16 C120.32 575.26 119.78 575.22 119.25 575.19 C118.71 575.17 118.15 575.12 117.64 575.02 C117.13 574.92 116.66 574.75 116.18 574.61 C115.69 574.48 115.24 574.37 114.71 574.21 C114.19 574.04 113.62 573.94 113.03 573.6 C112.44 573.26 111.77 572.65 111.17 572.17 C110.56 571.7 109.99 571.22 109.4 570.75 C108.81 570.27 108.24 569.72 107.63 569.32 C107.01 568.92 106.35 568.67 105.72 568.34 C105.08 568.02 104.44 567.7 103.8 567.38 C103.17 567.06 102.55 566.72 101.89 566.41 C101.24 566.1 100.56 565.8 99.88 565.51 C99.19 565.21 98.48 564.93 97.78 564.65 C97.08 564.36 96.39 564.08 95.69 563.79 C94.99 563.5 94.31 563.19 93.59 562.94 C92.87 562.68 92.12 562.47 91.37 562.26 C90.61 562.05 89.83 561.87 89.07 561.68 C88.3 561.49 87.53 561.29 86.77 561.1 C86 560.91 85.24 560.7 84.47 560.52 C83.69 560.34 82.92 560.18 82.13 560.03 C81.35 559.89 80.56 559.77 79.77 559.64 C78.98 559.51 78.19 559.38 77.4 559.26 C76.62 559.13 75.83 559 75.04 558.87 C74.25 558.73 73.46 558.59 72.68 558.44 C71.9 558.29 71.11 558.13 70.33 557.97 C69.55 557.81 68.77 557.64 67.99 557.47 C67.21 557.31 66.42 557.14 65.64 556.97 C64.86 556.81 63.69 557.17 63.3 556.48 C62.91 555.78 63.3 553.41 63.3 552.8" fill="none" stroke="#2ad22a" stroke-width="1.5" stroke-linejoin="round"/>
<path d="M63.3 556.63 C63.58 556.34 64.44 555.47 65 554.89 C65.57 554.31 66.12 553.66 66.71 553.14 C67.3 552.62 67.92 552.22 68.55 551.78 C69.18 551.34 69.8 550.92 70.48 550.51 C71.16 550.1 71.93 549.74 72.66 549.35 C73.39 548.96 74.11 548.57 74.84 548.19 C75.56 547.8 76.29 547.41 77.02 547.03 C77.74 546.64 78.44 546.22 79.2 545.86 C79.95 545.5 80.76 545.19 81.55 544.87 C82.35 544.54 83.17 544.24 83.97 543.93 C84.78 543.62 85.59 543.3 86.4 542.99 C87.2 542.68 88.01 542.37 88.82 542.06 C89.63 541.74 90.43 541.42 91.24 541.12 C92.05 540.82 92.85 540.52 93.68 540.26 C94.5 540 95.34 539.78 96.19 539.56 C97.04 539.34 97.9 539.15 98.76 538.95 C99.61 538.74 100.47 538.54 101.33 538.33 C102.18 538.13 103.04 537.93 103.89 537.72 C104.75 537.52 105.61 537.33 106.46 537.11 C107.31 536.9 108.16 536.66 109.01 536.42 C109.86 536.19 110.71 535.95 111.56 535.7 C112.4 535.45 113.24 535.17 114.07 534.91 C114.91 534.64 115.75 534.39 116.59 534.11 C117.42 533.83 118.26 533.58 119.08 533.26 C119.9 532.94 120.73 532.59 121.52 532.2 C122.3 531.8 123.03 531.34 123.77 530.9 C124.51 530.46 125.24 529.99 125.98 529.56 C126.72 529.13 127.48 528.74 128.22 528.32 C128.96 527.9 129.69 527.45 130.42 527.04 C131.15 526.63 131.87 526.19 132.61 525.84 C133.35 525.5 134.09 525.25 134.85 524.97 C135.61 524.69 136.38 524.41 137.15 524.14 C137.91 523.86 138.67 523.57 139.46 523.32 C140.24 523.07 141.05 522.83 141.86 522.61 C142.68 522.39 143.51 522.18 144.34 521.97 C145.17 521.77 146.02 521.6 146.86 521.39 C147.71 521.18 148.55 520.92 149.41 520.72 C150.27 520.52 151.13 520.35 152 520.19 C152.87 520.03 153.75 519.9 154.62 519.76 C155.49 519.61 156.37 519.47 157.24 519.32 C158.11 519.18 158.99 519.03 159.86 518.89 C160.74 518.76 161.61 518.61 162.49 518.5 C163.37 518.39 164.25 518.32 165.13 518.24 C166.01 518.15 166.89 518.06 167.77 517.97 C168.65 517.88 169.53 517.79 170.41 517.69 C171.29 517.59 172.17 517.49 173.05 517.38 C173.93 517.28 174.8 517.18 175.68 517.08 C176.56 516.97 177.44 516.87 178.32 516.77 C179.2 516.67 180.08 516.56 180.95 516.46 C181.83 516.36 182.71 516.26 183.59 516.15 C184.47 516.05 185.35 515.95 186.23 515.85 C187.1 515.74 187.98 515.64 188.86 515.54 C189.74 515.44 190.62 515.34 191.5 515.23 C192.37 515.12 193.25 515.01 194.13 514.9 C195.01 514.79 195.88 514.68 196.76 514.56 C197.64 514.45 198.51 514.34 199.39 514.23 C200.27 514.12 201.14 514.01 202.02 513.89 C202.9 513.78 203.77 513.67 204.65 513.56 C205.53 513.45 206.4 513.34 207.28 513.22 C208.16 513.11 209.06 513.11 209.91 512.88 C210.76 512.66 211.55 512.21 212.36 511.87 C213.18 511.53 213.99 511.18 214.8 510.84 C215.62 510.49 216.44 510.15 217.25 509.8 C218.06 509.46 218.87 509.09 219.67 508.74 C220.47 508.4 221.25 508.06 222.05 507.74 C222.85 507.42 223.65 507.13 224.45 506.82 C225.25 506.51 226.05 506.2 226.84 505.89 C227.64 505.58 228.43 505.26 229.22 504.94 C230.01 504.63 231.2 502.21 231.6 504 C232 505.79 231.98 513.59 231.6 515.67 C231.22 517.74 230.07 516.19 229.31 516.44 C228.55 516.7 227.76 516.93 227.02 517.22 C226.28 517.51 225.58 517.85 224.87 518.17 C224.17 518.5 223.5 518.88 222.77 519.17 C222.03 519.46 221.25 519.69 220.48 519.93 C219.71 520.16 218.93 520.41 218.14 520.58 C217.35 520.74 216.54 520.8 215.74 520.91 C214.94 521.02 214.14 521.12 213.34 521.25 C212.54 521.38 211.74 521.53 210.94 521.69 C210.14 521.84 209.35 522.06 208.54 522.19 C207.74 522.32 206.92 522.39 206.1 522.48 C205.29 522.58 204.47 522.66 203.65 522.75 C202.84 522.84 202.02 522.93 201.2 523.02 C200.39 523.1 199.57 523.19 198.75 523.28 C197.94 523.37 197.12 523.46 196.31 523.55 C195.49 523.63 194.67 523.72 193.86 523.8 C193.04 523.88 192.22 523.97 191.41 524.05 C190.59 524.13 189.77 524.22 188.96 524.3 C188.14 524.38 187.32 524.47 186.51 524.55 C185.69 524.63 184.87 524.7 184.05 524.77 C183.23 524.84 182.42 524.91 181.6 524.99 C180.78 525.06 179.96 525.13 179.14 525.2 C178.33 525.27 177.5 525.32 176.69 525.41 C175.87 525.5 175.06 525.61 174.25 525.74 C173.45 525.86 172.64 526.01 171.84 526.15 C171.03 526.29 170.22 526.43 169.42 526.57 C168.61 526.7 167.8 526.85 166.99 526.98 C166.19 527.1 165.37 527.2 164.56 527.32 C163.75 527.43 162.93 527.54 162.12 527.66 C161.31 527.77 160.49 527.88 159.68 528 C158.87 528.12 158.06 528.24 157.25 528.36 C156.44 528.47 155.59 528.52 154.82 528.69 C154.04 528.87 153.33 529.16 152.6 529.41 C151.87 529.67 151.1 529.91 150.42 530.2 C149.73 530.49 149.1 530.81 148.48 531.15 C147.87 531.48 147.31 531.85 146.72 532.2 C146.14 532.55 145.55 532.88 144.96 533.25 C144.38 533.61 143.78 533.98 143.21 534.37 C142.64 534.76 142.09 535.19 141.54 535.6 C141 536.01 140.47 536.43 139.93 536.84 C139.39 537.26 138.85 537.67 138.31 538.09 C137.77 538.5 137.21 538.85 136.7 539.33 C136.18 539.81 135.72 540.42 135.24 540.98 C134.75 541.55 134.23 542.09 133.81 542.72 C133.38 543.34 133 544 132.7 544.73 C132.4 545.45 132.25 546.3 132.02 547.08 C131.79 547.87 131.57 548.65 131.35 549.44 C131.12 550.23 130.89 551.01 130.67 551.8 C130.45 552.59 130.23 553.37 130.04 554.17 C129.85 554.96 129.68 555.77 129.5 556.57 C129.33 557.37 129.15 558.17 128.97 558.97 C128.79 559.77 128.61 560.57 128.43 561.37 C128.26 562.17 128.08 562.97 127.9 563.78 C127.72 564.58 127.54 565.38 127.36 566.18 C127.18 566.98 127.03 567.79 126.82 568.58 C126.62 569.37 126.36 570.15 126.13 570.93 C125.9 571.71 125.66 572.49 125.43 573.28 C125.19 574.06 125.02 574.89 124.72 575.62 C124.43 576.36 124.09 577.04 123.67 577.67 C123.26 578.3 122.72 578.96 122.24 579.38 C121.75 579.81 121.26 580.02 120.77 580.22 C120.28 580.42 119.78 580.49 119.28 580.57 C118.78 580.66 118.24 580.72 117.75 580.74 C117.26 580.76 116.81 580.7 116.34 580.69 C115.87 580.67 115.44 580.7 114.93 580.64 C114.41 580.58 113.82 580.63 113.23 580.33 C112.63 580.02 111.96 579.32 111.36 578.8 C110.77 578.28 110.23 577.75 109.66 577.23 C109.09 576.7 108.54 576.11 107.95 575.65 C107.37 575.2 106.73 574.87 106.13 574.48 C105.52 574.09 104.91 573.7 104.3 573.31 C103.69 572.92 103.1 572.52 102.47 572.15 C101.84 571.77 101.18 571.41 100.51 571.06 C99.83 570.71 99.13 570.38 98.44 570.04 C97.75 569.7 97.06 569.36 96.37 569.02 C95.68 568.68 95.01 568.3 94.29 568 C93.58 567.7 92.82 567.45 92.05 567.21 C91.29 566.96 90.49 566.76 89.71 566.54 C88.93 566.32 88.15 566.1 87.37 565.88 C86.59 565.66 85.81 565.42 85.02 565.21 C84.24 565.01 83.44 564.83 82.64 564.68 C81.84 564.52 81.02 564.4 80.21 564.27 C79.4 564.13 78.59 564 77.78 563.86 C76.97 563.73 76.16 563.59 75.35 563.45 C74.54 563.31 73.73 563.17 72.93 563.01 C72.12 562.86 71.32 562.69 70.51 562.52 C69.71 562.35 68.91 562.17 68.11 561.99 C67.31 561.81 66.51 561.64 65.7 561.46 C64.9 561.29 63.7 561.74 63.3 560.93 C62.9 560.13 63.3 557.35 63.3 556.63" fill="none" stroke="#5ada1a" stroke-width="1.5" stroke-linejoin="round"/>
<path d="M63.3 560.47 C63.56 560.15 64.35 559.21 64.88 558.58 C65.41 557.95 65.91 557.26 66.46 556.69 C67.01 556.11 67.58 555.64 68.16 555.14 C68.75 554.63 69.31 554.14 69.96 553.67 C70.61 553.21 71.37 552.79 72.07 552.35 C72.78 551.9 73.48 551.46 74.19 551.02 C74.89 550.58 75.6 550.14 76.3 549.69 C77.01 549.25 77.67 548.77 78.42 548.37 C79.16 547.96 79.96 547.61 80.75 547.25 C81.54 546.88 82.36 546.55 83.17 546.2 C83.97 545.86 84.78 545.51 85.59 545.16 C86.39 544.81 87.2 544.46 88 544.12 C88.81 543.77 89.61 543.41 90.42 543.07 C91.23 542.74 92.03 542.4 92.85 542.1 C93.68 541.81 94.52 541.55 95.38 541.31 C96.23 541.06 97.1 540.86 97.97 540.64 C98.83 540.41 99.7 540.19 100.56 539.96 C101.42 539.74 102.29 539.51 103.15 539.29 C104.02 539.07 104.88 538.85 105.74 538.62 C106.61 538.38 107.47 538.13 108.32 537.87 C109.18 537.62 110.05 537.37 110.9 537.1 C111.75 536.83 112.59 536.53 113.44 536.25 C114.28 535.96 115.13 535.68 115.97 535.38 C116.81 535.09 117.65 534.8 118.48 534.47 C119.31 534.13 120.16 533.79 120.95 533.37 C121.73 532.96 122.45 532.46 123.19 531.99 C123.92 531.52 124.63 531.01 125.36 530.54 C126.09 530.06 126.84 529.63 127.57 529.17 C128.3 528.7 129.01 528.22 129.73 527.76 C130.44 527.3 131.14 526.81 131.86 526.41 C132.58 526 133.3 525.69 134.04 525.34 C134.78 525 135.54 524.67 136.29 524.33 C137.04 524 137.78 523.64 138.55 523.33 C139.33 523.02 140.13 522.74 140.94 522.47 C141.75 522.2 142.58 521.94 143.41 521.7 C144.24 521.45 145.09 521.24 145.94 521 C146.79 520.77 147.65 520.49 148.51 520.27 C149.38 520.05 150.25 519.87 151.13 519.7 C152.01 519.54 152.91 519.41 153.79 519.26 C154.68 519.12 155.57 518.97 156.45 518.82 C157.34 518.67 158.23 518.52 159.11 518.38 C160 518.24 160.89 518.1 161.78 517.99 C162.67 517.87 163.57 517.8 164.46 517.7 C165.36 517.61 166.25 517.52 167.14 517.42 C168.04 517.33 168.93 517.23 169.82 517.13 C170.71 517.02 171.61 516.91 172.5 516.8 C173.39 516.68 174.28 516.57 175.17 516.46 C176.06 516.35 176.95 516.24 177.84 516.13 C178.73 516.02 179.63 515.91 180.52 515.8 C181.41 515.69 182.3 515.58 183.19 515.47 C184.08 515.36 184.97 515.24 185.86 515.13 C186.75 515.02 187.65 514.91 188.54 514.8 C189.43 514.69 190.32 514.58 191.21 514.47 C192.1 514.35 192.99 514.23 193.88 514.11 C194.77 513.99 195.66 513.87 196.55 513.74 C197.44 513.62 198.32 513.5 199.21 513.38 C200.1 513.25 200.99 513.13 201.88 513.01 C202.77 512.89 203.66 512.76 204.55 512.64 C205.44 512.52 206.33 512.4 207.21 512.28 C208.1 512.15 209.02 512.14 209.88 511.9 C210.74 511.67 211.54 511.22 212.36 510.87 C213.19 510.52 214.01 510.15 214.83 509.79 C215.66 509.44 216.48 509.09 217.3 508.72 C218.12 508.36 218.95 507.99 219.75 507.62 C220.56 507.25 221.33 506.86 222.12 506.5 C222.91 506.14 223.71 505.81 224.51 505.46 C225.3 505.11 226.09 504.75 226.88 504.4 C227.67 504.04 228.45 503.68 229.24 503.32 C230.03 502.97 231.21 500.12 231.6 502.25 C231.99 504.38 231.99 513.63 231.6 516.08 C231.21 518.54 230.05 516.67 229.28 516.96 C228.5 517.26 227.7 517.51 226.96 517.84 C226.21 518.17 225.52 518.56 224.82 518.94 C224.11 519.31 223.46 519.75 222.72 520.09 C221.99 520.42 221.19 520.69 220.41 520.94 C219.62 521.2 218.82 521.47 218.01 521.62 C217.2 521.78 216.36 521.8 215.54 521.88 C214.72 521.97 213.89 522.03 213.07 522.14 C212.24 522.25 211.42 522.39 210.6 522.53 C209.77 522.68 208.96 522.88 208.13 523.01 C207.29 523.13 206.45 523.2 205.61 523.29 C204.78 523.39 203.94 523.47 203.1 523.56 C202.26 523.65 201.42 523.73 200.58 523.82 C199.74 523.91 198.91 524 198.07 524.09 C197.23 524.18 196.39 524.27 195.55 524.35 C194.71 524.44 193.87 524.52 193.03 524.6 C192.19 524.68 191.35 524.76 190.52 524.84 C189.68 524.92 188.84 525 188 525.09 C187.16 525.17 186.32 525.25 185.48 525.33 C184.64 525.41 183.8 525.48 182.96 525.55 C182.12 525.62 181.28 525.69 180.44 525.76 C179.6 525.83 178.76 525.9 177.92 525.97 C177.08 526.05 176.23 526.09 175.4 526.19 C174.56 526.28 173.73 526.4 172.9 526.54 C172.07 526.67 171.25 526.85 170.42 527 C169.6 527.16 168.77 527.31 167.95 527.47 C167.12 527.62 166.3 527.78 165.47 527.92 C164.64 528.06 163.8 528.17 162.97 528.29 C162.13 528.42 161.3 528.54 160.47 528.67 C159.63 528.79 158.8 528.91 157.97 529.04 C157.13 529.17 156.3 529.3 155.47 529.43 C154.64 529.56 153.77 529.61 152.98 529.82 C152.2 530.03 151.49 530.38 150.76 530.68 C150.02 530.99 149.25 531.29 148.58 531.63 C147.9 531.98 147.3 532.37 146.71 532.78 C146.12 533.18 145.61 533.63 145.06 534.05 C144.51 534.48 143.95 534.89 143.4 535.33 C142.85 535.77 142.29 536.21 141.76 536.67 C141.23 537.13 140.72 537.63 140.21 538.11 C139.71 538.59 139.23 539.08 138.74 539.57 C138.24 540.05 137.75 540.54 137.26 541.02 C136.76 541.51 136.25 541.93 135.78 542.48 C135.31 543.02 134.88 543.68 134.43 544.29 C133.99 544.91 133.51 545.51 133.12 546.18 C132.73 546.85 132.37 547.55 132.09 548.31 C131.81 549.07 131.65 549.93 131.43 550.74 C131.21 551.55 131 552.36 130.78 553.17 C130.56 553.98 130.34 554.79 130.13 555.6 C129.92 556.42 129.71 557.23 129.52 558.05 C129.33 558.87 129.17 559.7 128.99 560.52 C128.82 561.34 128.64 562.17 128.46 562.99 C128.29 563.81 128.11 564.64 127.94 565.46 C127.76 566.29 127.58 567.11 127.41 567.93 C127.23 568.76 127.06 569.58 126.88 570.4 C126.7 571.23 126.55 572.06 126.35 572.87 C126.14 573.69 125.9 574.49 125.68 575.3 C125.45 576.11 125.23 576.92 125 577.72 C124.78 578.53 124.6 579.38 124.33 580.15 C124.05 580.91 123.73 581.64 123.34 582.31 C122.96 582.98 122.47 583.68 122.03 584.17 C121.58 584.67 121.13 584.98 120.68 585.28 C120.23 585.57 119.79 585.76 119.32 585.96 C118.85 586.15 118.33 586.32 117.86 586.45 C117.39 586.59 116.95 586.66 116.5 586.76 C116.05 586.87 115.65 587.03 115.14 587.08 C114.63 587.12 114.02 587.33 113.42 587.06 C112.83 586.78 112.14 585.98 111.56 585.43 C110.97 584.87 110.46 584.28 109.92 583.71 C109.37 583.13 108.84 582.5 108.28 581.99 C107.72 581.47 107.12 581.07 106.53 580.61 C105.95 580.16 105.37 579.7 104.79 579.25 C104.21 578.79 103.66 578.32 103.05 577.88 C102.44 577.44 101.8 577.02 101.14 576.61 C100.48 576.21 99.77 575.82 99.09 575.43 C98.41 575.03 97.73 574.64 97.04 574.24 C96.36 573.85 95.71 573.41 95 573.06 C94.28 572.71 93.51 572.43 92.74 572.15 C91.96 571.88 91.15 571.65 90.35 571.41 C89.56 571.16 88.76 570.91 87.97 570.66 C87.17 570.41 86.39 570.13 85.58 569.91 C84.78 569.69 83.97 569.49 83.14 569.32 C82.32 569.15 81.48 569.04 80.65 568.89 C79.82 568.75 78.99 568.61 78.16 568.47 C77.32 568.32 76.49 568.19 75.66 568.04 C74.83 567.89 74 567.75 73.17 567.58 C72.35 567.42 71.52 567.25 70.7 567.07 C69.87 566.89 69.05 566.7 68.23 566.51 C67.41 566.32 66.59 566.14 65.77 565.95 C64.94 565.76 63.71 566.31 63.3 565.39 C62.89 564.48 63.3 561.29 63.3 560.47" fill="none" stroke="#a0e000" stroke-width="1.5" stroke-linejoin="round"/>
<path d="M63.3 564.3 C63.54 563.96 64.27 562.94 64.76 562.27 C65.24 561.59 65.71 560.86 66.21 560.23 C66.71 559.6 67.23 559.06 67.77 558.49 C68.31 557.92 68.82 557.36 69.44 556.83 C70.06 556.31 70.81 555.84 71.49 555.34 C72.17 554.85 72.86 554.35 73.54 553.85 C74.22 553.35 74.9 552.86 75.59 552.36 C76.27 551.86 76.91 551.32 77.63 550.87 C78.36 550.41 79.16 550.02 79.95 549.63 C80.74 549.23 81.56 548.86 82.36 548.48 C83.17 548.09 83.97 547.71 84.77 547.33 C85.58 546.94 86.38 546.56 87.19 546.18 C87.99 545.8 88.8 545.4 89.6 545.03 C90.41 544.66 91.2 544.27 92.03 543.94 C92.85 543.61 93.7 543.33 94.56 543.06 C95.42 542.79 96.31 542.57 97.18 542.33 C98.05 542.08 98.92 541.84 99.8 541.59 C100.67 541.35 101.54 541.1 102.41 540.86 C103.29 540.61 104.16 540.38 105.03 540.12 C105.9 539.87 106.77 539.59 107.64 539.33 C108.5 539.06 109.38 538.8 110.24 538.51 C111.1 538.22 111.94 537.9 112.8 537.59 C113.65 537.28 114.5 536.97 115.35 536.65 C116.19 536.34 117.05 536.03 117.88 535.68 C118.72 535.33 119.59 534.99 120.38 534.55 C121.16 534.12 121.87 533.58 122.6 533.08 C123.33 532.57 124.03 532.02 124.75 531.51 C125.47 531 126.2 530.52 126.92 530.02 C127.63 529.51 128.34 528.98 129.04 528.48 C129.73 527.97 130.41 527.43 131.11 526.97 C131.81 526.51 132.51 526.12 133.23 525.72 C133.95 525.31 134.69 524.92 135.43 524.52 C136.17 524.13 136.88 523.71 137.65 523.34 C138.41 522.98 139.21 522.65 140.01 522.33 C140.82 522.01 141.65 521.71 142.48 521.42 C143.32 521.14 144.17 520.89 145.02 520.62 C145.88 520.36 146.74 520.05 147.61 519.82 C148.49 519.59 149.38 519.39 150.27 519.22 C151.16 519.04 152.07 518.92 152.97 518.77 C153.87 518.62 154.77 518.47 155.67 518.32 C156.57 518.17 157.47 518.01 158.37 517.87 C159.27 517.73 160.17 517.58 161.08 517.47 C161.98 517.35 162.89 517.27 163.8 517.17 C164.7 517.07 165.61 516.98 166.52 516.87 C167.42 516.77 168.33 516.67 169.23 516.56 C170.14 516.45 171.04 516.33 171.95 516.21 C172.85 516.09 173.75 515.97 174.66 515.85 C175.56 515.73 176.46 515.61 177.37 515.49 C178.27 515.37 179.18 515.25 180.08 515.14 C180.98 515.02 181.89 514.9 182.79 514.78 C183.69 514.66 184.6 514.54 185.5 514.42 C186.41 514.3 187.31 514.18 188.21 514.06 C189.12 513.95 190.02 513.83 190.92 513.71 C191.83 513.58 192.73 513.45 193.63 513.32 C194.53 513.19 195.43 513.05 196.33 512.92 C197.23 512.79 198.14 512.66 199.04 512.52 C199.94 512.39 200.84 512.26 201.74 512.13 C202.64 511.99 203.54 511.86 204.44 511.73 C205.35 511.59 206.25 511.46 207.15 511.33 C208.05 511.2 208.98 511.17 209.85 510.93 C210.72 510.68 211.53 510.22 212.36 509.86 C213.2 509.5 214.03 509.12 214.86 508.75 C215.7 508.38 216.53 508.02 217.36 507.64 C218.19 507.26 219.03 506.89 219.83 506.49 C220.64 506.1 221.4 505.66 222.19 505.26 C222.98 504.86 223.77 504.49 224.56 504.1 C225.35 503.7 226.14 503.31 226.92 502.91 C227.7 502.51 228.48 502.11 229.26 501.7 C230.04 501.3 231.21 498.03 231.6 500.5 C231.99 502.97 231.99 513.67 231.6 516.5 C231.21 519.33 230.03 517.15 229.25 517.48 C228.46 517.81 227.64 518.09 226.89 518.46 C226.15 518.83 225.46 519.28 224.76 519.7 C224.06 520.13 223.42 520.63 222.68 521.01 C221.94 521.38 221.13 521.68 220.33 521.96 C219.53 522.24 218.72 522.52 217.88 522.67 C217.05 522.81 216.19 522.79 215.34 522.85 C214.49 522.91 213.64 522.95 212.8 523.04 C211.95 523.12 211.1 523.25 210.25 523.38 C209.4 523.51 208.56 523.7 207.71 523.82 C206.85 523.94 205.99 524.01 205.13 524.1 C204.27 524.19 203.4 524.28 202.54 524.37 C201.68 524.45 200.82 524.54 199.96 524.63 C199.1 524.72 198.24 524.8 197.38 524.89 C196.52 524.98 195.66 525.07 194.8 525.16 C193.93 525.24 193.07 525.32 192.21 525.4 C191.35 525.48 190.49 525.55 189.63 525.63 C188.76 525.71 187.9 525.79 187.04 525.87 C186.18 525.95 185.32 526.03 184.46 526.11 C183.59 526.19 182.73 526.26 181.87 526.33 C181.01 526.4 180.14 526.47 179.28 526.54 C178.42 526.61 177.56 526.68 176.69 526.75 C175.83 526.82 174.96 526.86 174.11 526.96 C173.25 527.06 172.4 527.19 171.55 527.34 C170.7 527.49 169.86 527.68 169.01 527.85 C168.16 528.02 167.32 528.19 166.47 528.36 C165.63 528.53 164.79 528.72 163.94 528.87 C163.09 529.02 162.23 529.14 161.37 529.27 C160.52 529.41 159.67 529.54 158.81 529.67 C157.96 529.81 157.1 529.94 156.25 530.08 C155.4 530.22 154.55 530.37 153.7 530.51 C152.85 530.66 151.94 530.7 151.14 530.94 C150.35 531.18 149.65 531.6 148.91 531.95 C148.18 532.31 147.4 532.66 146.74 533.06 C146.07 533.47 145.49 533.93 144.93 534.41 C144.37 534.88 143.9 535.41 143.39 535.91 C142.87 536.41 142.36 536.9 141.84 537.41 C141.33 537.92 140.8 538.43 140.31 538.97 C139.81 539.5 139.34 540.06 138.88 540.62 C138.42 541.17 137.99 541.73 137.54 542.29 C137.1 542.84 136.65 543.4 136.2 543.96 C135.75 544.51 135.29 545.02 134.86 545.63 C134.43 546.24 134.04 546.93 133.63 547.6 C133.23 548.27 132.79 548.93 132.43 549.64 C132.07 550.36 131.74 551.1 131.47 551.89 C131.21 552.68 131.05 553.56 130.84 554.39 C130.63 555.23 130.42 556.07 130.21 556.9 C130 557.74 129.79 558.57 129.59 559.41 C129.39 560.25 129.18 561.08 129 561.93 C128.81 562.77 128.65 563.62 128.48 564.47 C128.3 565.31 128.13 566.16 127.96 567.01 C127.78 567.86 127.61 568.7 127.44 569.55 C127.26 570.4 127.09 571.24 126.92 572.09 C126.74 572.94 126.57 573.78 126.4 574.63 C126.22 575.48 126.06 576.33 125.87 577.17 C125.67 578.01 125.44 578.84 125.23 579.67 C125.01 580.51 124.79 581.34 124.58 582.17 C124.36 583 124.19 583.88 123.93 584.67 C123.67 585.47 123.37 586.23 123.01 586.94 C122.66 587.66 122.22 588.4 121.81 588.97 C121.41 589.53 121 589.94 120.59 590.33 C120.18 590.73 119.79 591.03 119.35 591.34 C118.91 591.64 118.42 591.92 117.97 592.17 C117.52 592.42 117.1 592.62 116.66 592.84 C116.22 593.06 115.86 593.35 115.35 593.51 C114.84 593.67 114.22 594.03 113.62 593.78 C113.02 593.54 112.32 592.65 111.75 592.05 C111.18 591.45 110.7 590.81 110.18 590.19 C109.65 589.56 109.15 588.89 108.61 588.32 C108.07 587.74 107.5 587.27 106.94 586.75 C106.39 586.22 105.84 585.7 105.29 585.18 C104.73 584.66 104.22 584.11 103.63 583.61 C103.04 583.11 102.41 582.63 101.77 582.17 C101.12 581.7 100.42 581.27 99.74 580.82 C99.07 580.37 98.4 579.92 97.72 579.47 C97.05 579.02 96.42 578.51 95.7 578.12 C94.98 577.72 94.21 577.41 93.42 577.1 C92.64 576.79 91.81 576.54 91 576.27 C90.19 575.99 89.38 575.71 88.57 575.44 C87.76 575.16 86.96 574.85 86.14 574.61 C85.32 574.36 84.49 574.15 83.65 573.96 C82.81 573.78 81.94 573.67 81.09 573.52 C80.24 573.37 79.38 573.22 78.53 573.07 C77.68 572.92 76.83 572.78 75.97 572.63 C75.12 572.47 74.27 572.32 73.42 572.16 C72.57 571.99 71.73 571.81 70.88 571.62 C70.04 571.43 69.2 571.23 68.35 571.03 C67.51 570.83 66.67 570.64 65.83 570.44 C64.98 570.24 63.72 570.87 63.3 569.85 C62.88 568.83 63.3 565.22 63.3 564.3" fill="none" stroke="#e8e000" stroke-width="1.5" stroke-linejoin="round"/>
<path d="M63.3 568.13 C63.52 567.77 64.19 566.68 64.63 565.96 C65.08 565.23 65.5 564.47 65.96 563.78 C66.42 563.09 66.89 562.47 67.38 561.84 C67.88 561.21 68.34 560.58 68.92 559.99 C69.51 559.41 70.25 558.89 70.91 558.34 C71.57 557.79 72.23 557.23 72.89 556.68 C73.55 556.13 74.21 555.58 74.87 555.03 C75.53 554.47 76.14 553.87 76.85 553.37 C77.57 552.87 78.36 552.44 79.15 552 C79.93 551.57 80.75 551.17 81.55 550.75 C82.36 550.33 83.16 549.91 83.96 549.49 C84.77 549.08 85.57 548.66 86.37 548.24 C87.18 547.82 87.98 547.39 88.78 546.98 C89.59 546.57 90.37 546.14 91.2 545.78 C92.03 545.42 92.88 545.11 93.75 544.81 C94.61 544.52 95.51 544.28 96.39 544.02 C97.27 543.75 98.15 543.48 99.03 543.22 C99.91 542.95 100.79 542.69 101.67 542.42 C102.55 542.16 103.44 541.9 104.32 541.63 C105.19 541.35 106.07 541.06 106.95 540.78 C107.83 540.49 108.71 540.22 109.58 539.91 C110.45 539.6 111.3 539.26 112.16 538.93 C113.01 538.6 113.87 538.27 114.73 537.93 C115.58 537.59 116.44 537.26 117.29 536.89 C118.13 536.53 119.02 536.19 119.81 535.73 C120.59 535.28 121.29 534.71 122.02 534.16 C122.74 533.62 123.42 533.03 124.13 532.49 C124.84 531.94 125.57 531.41 126.27 530.87 C126.97 530.32 127.66 529.75 128.34 529.2 C129.02 528.64 129.68 528.06 130.36 527.54 C131.04 527.02 131.72 526.56 132.42 526.09 C133.12 525.62 133.85 525.17 134.57 524.71 C135.29 524.26 135.99 523.77 136.74 523.35 C137.5 522.93 138.29 522.55 139.09 522.18 C139.89 521.82 140.72 521.47 141.55 521.15 C142.39 520.82 143.24 520.54 144.1 520.24 C144.96 519.94 145.83 519.62 146.72 519.37 C147.6 519.12 148.5 518.92 149.4 518.73 C150.31 518.55 151.23 518.43 152.14 518.27 C153.06 518.12 153.97 517.97 154.88 517.81 C155.8 517.66 156.71 517.5 157.62 517.36 C158.54 517.21 159.45 517.07 160.37 516.95 C161.29 516.83 162.21 516.74 163.13 516.64 C164.05 516.53 164.97 516.43 165.89 516.33 C166.81 516.22 167.73 516.12 168.65 516 C169.56 515.88 170.48 515.74 171.39 515.62 C172.31 515.49 173.23 515.36 174.14 515.24 C175.06 515.11 175.98 514.98 176.89 514.85 C177.81 514.73 178.73 514.6 179.64 514.47 C180.56 514.35 181.47 514.22 182.39 514.09 C183.31 513.96 184.22 513.84 185.14 513.71 C186.06 513.58 186.97 513.45 187.89 513.33 C188.8 513.2 189.72 513.08 190.64 512.94 C191.55 512.81 192.47 512.67 193.38 512.53 C194.29 512.39 195.21 512.24 196.12 512.1 C197.03 511.96 197.95 511.81 198.86 511.67 C199.77 511.53 200.69 511.38 201.6 511.24 C202.51 511.1 203.43 510.95 204.34 510.81 C205.26 510.67 206.17 510.53 207.08 510.38 C208 510.24 208.94 510.21 209.82 509.95 C210.7 509.7 211.52 509.23 212.36 508.85 C213.21 508.48 214.05 508.09 214.89 507.71 C215.73 507.32 216.58 506.95 217.42 506.56 C218.25 506.17 219.11 505.79 219.91 505.37 C220.72 504.94 221.47 504.46 222.26 504.02 C223.04 503.58 223.84 503.17 224.62 502.73 C225.4 502.3 226.18 501.86 226.96 501.42 C227.73 500.98 228.51 500.53 229.28 500.08 C230.05 499.64 231.21 495.94 231.6 498.75 C231.99 501.56 232 513.71 231.6 516.92 C231.2 520.12 230.01 517.64 229.22 518 C228.42 518.36 227.58 518.67 226.83 519.08 C226.08 519.49 225.4 519.99 224.7 520.46 C224 520.94 223.38 521.51 222.64 521.93 C221.9 522.34 221.07 522.68 220.26 522.98 C219.45 523.27 218.61 523.57 217.76 523.71 C216.91 523.85 216.01 523.78 215.14 523.82 C214.27 523.86 213.4 523.86 212.52 523.93 C211.65 524 210.78 524.11 209.9 524.22 C209.03 524.34 208.16 524.52 207.29 524.64 C206.41 524.75 205.52 524.82 204.64 524.91 C203.76 525 202.87 525.09 201.99 525.17 C201.11 525.26 200.22 525.35 199.34 525.44 C198.46 525.52 197.57 525.61 196.69 525.7 C195.81 525.79 194.92 525.88 194.04 525.96 C193.16 526.04 192.27 526.12 191.39 526.19 C190.5 526.27 189.62 526.35 188.74 526.43 C187.85 526.5 186.97 526.58 186.08 526.66 C185.2 526.74 184.32 526.82 183.43 526.89 C182.55 526.97 181.66 527.04 180.78 527.11 C179.89 527.18 179.01 527.25 178.12 527.32 C177.24 527.39 176.35 527.46 175.47 527.53 C174.58 527.6 173.69 527.63 172.81 527.74 C171.93 527.84 171.06 527.98 170.19 528.14 C169.32 528.3 168.46 528.51 167.6 528.7 C166.73 528.89 165.87 529.08 165 529.26 C164.14 529.45 163.28 529.65 162.41 529.81 C161.54 529.98 160.66 530.1 159.78 530.25 C158.91 530.39 158.03 530.54 157.16 530.68 C156.28 530.83 155.41 530.96 154.53 531.12 C153.66 531.27 152.79 531.43 151.92 531.59 C151.05 531.75 150.12 531.8 149.31 532.07 C148.5 532.34 147.81 532.82 147.07 533.22 C146.33 533.63 145.55 534.03 144.89 534.49 C144.24 534.96 143.68 535.49 143.16 536.04 C142.63 536.58 142.2 537.19 141.72 537.76 C141.24 538.34 140.76 538.91 140.28 539.49 C139.81 540.08 139.31 540.66 138.85 541.27 C138.4 541.87 137.97 542.5 137.55 543.13 C137.14 543.75 136.75 544.38 136.35 545.01 C135.95 545.64 135.55 546.27 135.15 546.89 C134.74 547.52 134.33 548.11 133.94 548.78 C133.56 549.45 133.2 550.19 132.83 550.92 C132.47 551.64 132.07 552.35 131.74 553.11 C131.41 553.87 131.11 554.65 130.86 555.47 C130.61 556.29 130.45 557.19 130.24 558.05 C130.04 558.91 129.85 559.77 129.65 560.63 C129.45 561.49 129.24 562.35 129.05 563.21 C128.85 564.08 128.66 564.94 128.48 565.81 C128.29 566.67 128.13 567.55 127.96 568.42 C127.79 569.29 127.62 570.16 127.45 571.03 C127.28 571.9 127.11 572.77 126.94 573.64 C126.77 574.51 126.6 575.38 126.43 576.25 C126.26 577.12 126.09 577.99 125.92 578.86 C125.74 579.73 125.58 580.6 125.39 581.47 C125.2 582.33 124.98 583.18 124.77 584.04 C124.57 584.9 124.36 585.76 124.15 586.62 C123.94 587.48 123.77 588.37 123.53 589.19 C123.28 590.02 123.01 590.82 122.68 591.58 C122.36 592.34 121.97 593.12 121.6 593.76 C121.24 594.39 120.87 594.9 120.5 595.39 C120.13 595.88 119.79 596.3 119.39 596.72 C118.98 597.14 118.51 597.52 118.08 597.89 C117.65 598.25 117.24 598.57 116.82 598.92 C116.4 599.26 116.07 599.68 115.57 599.95 C115.06 600.21 114.41 600.72 113.81 600.51 C113.21 600.3 112.51 599.32 111.95 598.68 C111.38 598.04 110.94 597.34 110.44 596.67 C109.94 595.99 109.45 595.28 108.93 594.65 C108.42 594.02 107.88 593.47 107.35 592.88 C106.83 592.29 106.3 591.7 105.78 591.11 C105.26 590.52 104.77 589.91 104.21 589.35 C103.64 588.78 103.03 588.24 102.4 587.72 C101.76 587.2 101.06 586.71 100.4 586.21 C99.73 585.7 99.07 585.2 98.4 584.69 C97.73 584.19 97.12 583.62 96.4 583.18 C95.69 582.74 94.9 582.39 94.11 582.04 C93.32 581.7 92.46 581.44 91.64 581.13 C90.81 580.83 89.99 580.52 89.17 580.22 C88.34 579.91 87.53 579.57 86.7 579.3 C85.86 579.04 85.01 578.8 84.15 578.61 C83.29 578.41 82.4 578.3 81.53 578.14 C80.66 577.99 79.78 577.83 78.91 577.68 C78.03 577.52 77.16 577.37 76.29 577.21 C75.41 577.05 74.54 576.9 73.67 576.73 C72.8 576.55 71.93 576.37 71.06 576.17 C70.2 575.97 69.34 575.76 68.48 575.55 C67.61 575.34 66.75 575.14 65.89 574.93 C65.03 574.72 63.73 575.44 63.3 574.31 C62.87 573.18 63.3 569.16 63.3 568.13" fill="none" stroke="#ffc800" stroke-width="1.5" stroke-linejoin="round"/>
<path d="M63.3 571.97 C63.5 571.58 64.1 570.42 64.51 569.65 C64.91 568.87 65.3 568.07 65.71 567.33 C66.13 566.58 66.54 565.89 66.99 565.2 C67.44 564.5 67.85 563.8 68.41 563.16 C68.96 562.51 69.68 561.94 70.32 561.34 C70.96 560.73 71.6 560.12 72.24 559.51 C72.88 558.91 73.52 558.3 74.16 557.69 C74.79 557.09 75.37 556.42 76.07 555.87 C76.77 555.32 77.56 554.86 78.34 554.38 C79.12 553.91 79.95 553.48 80.75 553.02 C81.55 552.57 82.35 552.12 83.15 551.66 C83.95 551.21 84.75 550.75 85.56 550.3 C86.36 549.85 87.16 549.39 87.96 548.94 C88.76 548.49 89.54 548.01 90.37 547.62 C91.2 547.22 92.06 546.88 92.93 546.56 C93.8 546.24 94.71 545.99 95.6 545.7 C96.49 545.42 97.38 545.13 98.27 544.85 C99.15 544.56 100.04 544.27 100.93 543.99 C101.82 543.7 102.71 543.42 103.6 543.13 C104.49 542.84 105.37 542.53 106.26 542.23 C107.15 541.93 108.04 541.64 108.92 541.31 C109.79 540.99 110.65 540.62 111.52 540.27 C112.38 539.91 113.24 539.56 114.11 539.2 C114.97 538.84 115.83 538.49 116.69 538.11 C117.54 537.72 118.45 537.38 119.24 536.91 C120.03 536.43 120.72 535.83 121.43 535.25 C122.14 534.68 122.82 534.05 123.52 533.46 C124.21 532.87 124.93 532.31 125.62 531.72 C126.31 531.13 126.98 530.52 127.65 529.91 C128.32 529.31 128.96 528.68 129.62 528.11 C130.28 527.53 130.93 527 131.61 526.46 C132.29 525.93 133.01 525.42 133.71 524.9 C134.42 524.39 135.1 523.84 135.84 523.36 C136.58 522.89 137.37 522.46 138.16 522.04 C138.96 521.63 139.79 521.23 140.62 520.87 C141.46 520.51 142.32 520.18 143.18 519.86 C144.05 519.53 144.93 519.19 145.82 518.92 C146.71 518.65 147.62 518.44 148.54 518.25 C149.45 518.06 150.39 517.94 151.32 517.78 C152.24 517.62 153.17 517.47 154.1 517.31 C155.02 517.16 155.95 516.99 156.87 516.84 C157.8 516.7 158.73 516.55 159.66 516.43 C160.59 516.31 161.53 516.21 162.46 516.11 C163.39 516 164.33 515.89 165.26 515.78 C166.19 515.67 167.13 515.56 168.06 515.44 C168.99 515.31 169.91 515.16 170.84 515.03 C171.77 514.89 172.7 514.76 173.63 514.62 C174.56 514.49 175.49 514.35 176.42 514.22 C177.35 514.08 178.28 513.95 179.2 513.81 C180.13 513.67 181.06 513.54 181.99 513.4 C182.92 513.27 183.85 513.13 184.78 513 C185.71 512.86 186.64 512.73 187.56 512.59 C188.49 512.45 189.42 512.33 190.35 512.18 C191.28 512.04 192.2 511.89 193.13 511.74 C194.06 511.59 194.98 511.43 195.91 511.28 C196.83 511.12 197.76 510.97 198.68 510.82 C199.61 510.66 200.54 510.51 201.46 510.36 C202.39 510.2 203.31 510.05 204.24 509.9 C205.16 509.74 206.09 509.59 207.02 509.44 C207.94 509.28 208.9 509.24 209.79 508.97 C210.68 508.71 211.51 508.23 212.37 507.84 C213.22 507.46 214.07 507.06 214.92 506.66 C215.77 506.27 216.63 505.88 217.47 505.48 C218.32 505.07 219.19 504.69 219.99 504.24 C220.8 503.79 221.55 503.26 222.33 502.78 C223.11 502.31 223.9 501.85 224.67 501.37 C225.45 500.89 226.23 500.41 227 499.93 C227.77 499.45 228.53 498.95 229.3 498.46 C230.07 497.98 231.22 493.86 231.6 497 C231.98 500.14 232 513.75 231.6 517.33 C231.2 520.92 229.99 518.12 229.18 518.52 C228.38 518.91 227.53 519.25 226.77 519.7 C226.01 520.15 225.34 520.7 224.65 521.23 C223.95 521.75 223.34 522.38 222.6 522.84 C221.85 523.31 221.01 523.67 220.19 523.99 C219.36 524.31 218.51 524.62 217.63 524.75 C216.76 524.88 215.84 524.78 214.94 524.79 C214.04 524.8 213.15 524.78 212.25 524.82 C211.35 524.87 210.45 524.97 209.56 525.07 C208.66 525.18 207.77 525.34 206.87 525.45 C205.97 525.56 205.06 525.63 204.15 525.72 C203.25 525.81 202.34 525.9 201.43 525.98 C200.53 526.07 199.62 526.16 198.72 526.24 C197.81 526.33 196.91 526.42 196 526.5 C195.1 526.59 194.19 526.68 193.28 526.76 C192.38 526.84 191.47 526.92 190.56 526.99 C189.66 527.07 188.75 527.14 187.85 527.22 C186.94 527.29 186.03 527.37 185.13 527.45 C184.22 527.52 183.31 527.6 182.41 527.67 C181.5 527.74 180.59 527.81 179.69 527.88 C178.78 527.96 177.87 528.02 176.96 528.09 C176.06 528.16 175.15 528.23 174.24 528.3 C173.34 528.37 172.42 528.4 171.52 528.51 C170.62 528.62 169.73 528.77 168.84 528.94 C167.95 529.11 167.07 529.35 166.19 529.55 C165.3 529.75 164.42 529.96 163.53 530.16 C162.65 530.36 161.77 530.58 160.88 530.76 C159.99 530.94 159.09 531.07 158.19 531.23 C157.29 531.38 156.4 531.54 155.5 531.69 C154.61 531.85 153.71 531.99 152.82 532.16 C151.92 532.32 151.03 532.5 150.14 532.67 C149.25 532.84 148.29 532.89 147.47 533.19 C146.65 533.5 145.96 534.04 145.23 534.49 C144.49 534.95 143.69 535.4 143.05 535.93 C142.41 536.45 141.88 537.05 141.38 537.67 C140.88 538.28 140.49 538.97 140.05 539.62 C139.61 540.27 139.17 540.92 138.72 541.57 C138.28 542.23 137.82 542.89 137.4 543.57 C136.98 544.24 136.6 544.94 136.22 545.64 C135.85 546.33 135.51 547.03 135.16 547.73 C134.8 548.43 134.45 549.13 134.09 549.83 C133.73 550.53 133.36 551.19 133.02 551.93 C132.68 552.66 132.36 553.45 132.03 554.23 C131.7 555 131.35 555.77 131.06 556.57 C130.76 557.37 130.48 558.19 130.24 559.05 C130.01 559.91 129.85 560.82 129.65 561.71 C129.46 562.59 129.27 563.48 129.08 564.36 C128.89 565.25 128.69 566.13 128.51 567.02 C128.32 567.91 128.13 568.79 127.95 569.68 C127.78 570.58 127.62 571.47 127.45 572.36 C127.28 573.26 127.11 574.15 126.95 575.04 C126.78 575.94 126.61 576.83 126.44 577.72 C126.27 578.62 126.1 579.51 125.94 580.4 C125.77 581.3 125.6 582.19 125.43 583.08 C125.26 583.98 125.1 584.87 124.92 585.76 C124.73 586.65 124.52 587.53 124.32 588.42 C124.12 589.3 123.92 590.18 123.73 591.07 C123.53 591.95 123.36 592.86 123.13 593.72 C122.9 594.58 122.65 595.41 122.36 596.22 C122.07 597.02 121.72 597.85 121.39 598.55 C121.07 599.26 120.74 599.86 120.41 600.45 C120.08 601.04 119.79 601.58 119.42 602.1 C119.05 602.63 118.6 603.12 118.19 603.61 C117.78 604.09 117.39 604.53 116.98 604.99 C116.58 605.46 116.28 606.01 115.78 606.38 C115.28 606.76 114.61 607.42 114 607.24 C113.4 607.06 112.69 605.99 112.14 605.31 C111.59 604.63 111.18 603.87 110.7 603.14 C110.22 602.42 109.75 601.67 109.26 600.98 C108.77 600.29 108.26 599.67 107.76 599.01 C107.26 598.36 106.77 597.7 106.27 597.05 C105.78 596.39 105.33 595.71 104.79 595.08 C104.25 594.45 103.65 593.86 103.03 593.27 C102.4 592.69 101.71 592.16 101.05 591.6 C100.39 591.04 99.74 590.48 99.08 589.92 C98.42 589.36 97.82 588.73 97.1 588.24 C96.39 587.75 95.6 587.37 94.79 586.99 C93.99 586.62 93.12 586.33 92.28 585.99 C91.44 585.66 90.6 585.33 89.77 585 C88.93 584.66 88.1 584.29 87.25 584 C86.4 583.71 85.54 583.46 84.66 583.25 C83.78 583.05 82.86 582.93 81.97 582.77 C81.07 582.61 80.18 582.45 79.28 582.28 C78.39 582.12 77.49 581.96 76.6 581.8 C75.7 581.64 74.81 581.48 73.91 581.3 C73.02 581.12 72.13 580.93 71.25 580.72 C70.36 580.52 69.48 580.29 68.6 580.07 C67.72 579.85 66.83 579.63 65.95 579.42 C65.07 579.2 63.74 580.01 63.3 578.77 C62.86 577.52 63.3 573.1 63.3 571.97" fill="none" stroke="#ff9a00" stroke-width="1.5" stroke-linejoin="round"/>
<path d="M63.3 575.8 C63.48 575.39 64.02 574.16 64.38 573.34 C64.74 572.51 65.1 571.67 65.47 570.87 C65.84 570.07 66.2 569.31 66.6 568.55 C67.01 567.79 67.36 567.02 67.89 566.32 C68.41 565.61 69.12 564.99 69.74 564.33 C70.36 563.67 70.97 563.01 71.59 562.35 C72.21 561.68 72.82 561.02 73.44 560.36 C74.06 559.7 74.61 558.97 75.29 558.37 C75.97 557.78 76.77 557.28 77.54 556.76 C78.31 556.25 79.14 555.79 79.94 555.3 C80.74 554.81 81.54 554.32 82.34 553.83 C83.14 553.34 83.94 552.85 84.74 552.36 C85.54 551.87 86.34 551.38 87.14 550.89 C87.94 550.41 88.72 549.89 89.55 549.46 C90.38 549.03 91.24 548.66 92.12 548.32 C92.99 547.97 93.91 547.7 94.81 547.39 C95.71 547.09 96.6 546.78 97.5 546.47 C98.4 546.17 99.3 545.86 100.19 545.55 C101.09 545.25 101.99 544.94 102.89 544.63 C103.78 544.32 104.68 544 105.57 543.68 C106.47 543.36 107.37 543.06 108.26 542.72 C109.14 542.37 110 541.98 110.88 541.6 C111.75 541.23 112.62 540.85 113.48 540.47 C114.35 540.09 115.22 539.72 116.09 539.32 C116.95 538.92 117.87 538.58 118.67 538.09 C119.46 537.59 120.14 536.95 120.85 536.34 C121.55 535.73 122.21 535.06 122.9 534.43 C123.59 533.81 124.29 533.2 124.97 532.57 C125.65 531.93 126.31 531.28 126.96 530.63 C127.61 529.98 128.23 529.31 128.87 528.67 C129.51 528.04 130.14 527.43 130.8 526.84 C131.46 526.24 132.16 525.67 132.85 525.09 C133.54 524.52 134.2 523.91 134.93 523.37 C135.66 522.84 136.45 522.36 137.24 521.9 C138.03 521.44 138.86 521 139.69 520.59 C140.53 520.19 141.39 519.83 142.26 519.48 C143.13 519.12 144.02 518.76 144.92 518.47 C145.82 518.19 146.74 517.96 147.67 517.76 C148.6 517.57 149.55 517.45 150.49 517.29 C151.43 517.13 152.37 516.97 153.31 516.81 C154.25 516.65 155.19 516.48 156.13 516.33 C157.07 516.18 158.01 516.04 158.96 515.91 C159.9 515.79 160.85 515.69 161.79 515.57 C162.74 515.46 163.69 515.35 164.63 515.23 C165.58 515.12 166.52 515 167.47 514.87 C168.41 514.74 169.35 514.58 170.29 514.44 C171.23 514.3 172.18 514.15 173.12 514.01 C174.06 513.87 175 513.72 175.94 513.58 C176.88 513.43 177.82 513.29 178.77 513.15 C179.71 513 180.65 512.86 181.59 512.72 C182.53 512.57 183.47 512.43 184.42 512.28 C185.36 512.14 186.3 512 187.24 511.85 C188.18 511.71 189.12 511.57 190.07 511.42 C191.01 511.27 191.94 511.11 192.88 510.95 C193.82 510.78 194.76 510.62 195.7 510.45 C196.63 510.29 197.57 510.13 198.51 509.96 C199.45 509.8 200.38 509.64 201.32 509.47 C202.26 509.31 203.2 509.14 204.14 508.98 C205.07 508.82 206.01 508.65 206.95 508.49 C207.89 508.33 208.86 508.27 209.76 508 C210.67 507.72 211.5 507.23 212.37 506.84 C213.23 506.44 214.09 506.02 214.95 505.62 C215.81 505.21 216.68 504.81 217.53 504.39 C218.39 503.98 219.26 503.59 220.07 503.11 C220.89 502.64 221.62 502.06 222.4 501.54 C223.17 501.03 223.96 500.52 224.73 500.01 C225.5 499.49 226.27 498.97 227.04 498.44 C227.8 497.91 228.56 497.38 229.32 496.85 C230.08 496.31 231.22 491.77 231.6 495.25 C231.98 498.73 232.01 513.79 231.6 517.75 C231.19 521.71 229.97 518.61 229.15 519.03 C228.34 519.46 227.47 519.83 226.71 520.32 C225.95 520.81 225.28 521.42 224.59 521.99 C223.9 522.57 223.3 523.26 222.55 523.76 C221.81 524.27 220.95 524.67 220.11 525.01 C219.27 525.34 218.4 525.67 217.51 525.79 C216.61 525.92 215.66 525.77 214.74 525.76 C213.82 525.74 212.9 525.69 211.98 525.72 C211.05 525.75 210.13 525.83 209.21 525.92 C208.29 526.01 207.37 526.16 206.45 526.27 C205.52 526.37 204.59 526.45 203.66 526.53 C202.74 526.62 201.81 526.71 200.88 526.79 C199.95 526.88 199.02 526.96 198.1 527.05 C197.17 527.14 196.24 527.22 195.31 527.31 C194.38 527.39 193.46 527.49 192.53 527.57 C191.6 527.65 190.67 527.72 189.74 527.79 C188.81 527.86 187.88 527.94 186.96 528.01 C186.03 528.08 185.1 528.16 184.17 528.23 C183.24 528.31 182.31 528.38 181.38 528.45 C180.45 528.52 179.52 528.59 178.59 528.66 C177.66 528.73 176.73 528.8 175.81 528.87 C174.88 528.94 173.95 529.01 173.02 529.08 C172.09 529.15 171.15 529.17 170.23 529.28 C169.31 529.39 168.39 529.55 167.48 529.74 C166.57 529.93 165.68 530.18 164.77 530.4 C163.87 530.62 162.97 530.84 162.06 531.06 C161.16 531.28 160.26 531.52 159.35 531.71 C158.44 531.9 157.52 532.04 156.6 532.2 C155.68 532.37 154.77 532.53 153.85 532.7 C152.93 532.86 152.01 533.02 151.1 533.19 C150.18 533.37 149.27 533.56 148.36 533.75 C147.45 533.94 146.46 533.98 145.63 534.32 C144.8 534.66 144.12 535.26 143.38 535.76 C142.65 536.27 141.84 536.77 141.21 537.36 C140.58 537.94 140.07 538.61 139.6 539.29 C139.13 539.98 138.79 540.75 138.38 541.48 C137.98 542.2 137.57 542.92 137.16 543.66 C136.76 544.39 136.33 545.12 135.95 545.86 C135.57 546.61 135.23 547.38 134.89 548.14 C134.56 548.91 134.27 549.68 133.96 550.45 C133.65 551.22 133.34 551.99 133.03 552.76 C132.72 553.53 132.4 554.28 132.1 555.07 C131.8 555.87 131.52 556.71 131.23 557.54 C130.94 558.36 130.64 559.18 130.37 560.03 C130.1 560.88 129.85 561.74 129.63 562.63 C129.41 563.52 129.25 564.45 129.06 565.36 C128.88 566.27 128.7 567.18 128.51 568.09 C128.33 569 128.15 569.91 127.96 570.83 C127.78 571.74 127.6 572.65 127.43 573.56 C127.26 574.48 127.1 575.4 126.94 576.31 C126.77 577.23 126.6 578.15 126.44 579.06 C126.27 579.98 126.11 580.9 125.94 581.81 C125.78 582.73 125.61 583.65 125.45 584.56 C125.28 585.48 125.12 586.4 124.95 587.31 C124.78 588.23 124.62 589.15 124.44 590.06 C124.26 590.97 124.06 591.88 123.87 592.79 C123.68 593.7 123.49 594.61 123.3 595.51 C123.11 596.42 122.94 597.35 122.73 598.24 C122.52 599.13 122.28 600 122.03 600.86 C121.77 601.71 121.46 602.57 121.18 603.34 C120.9 604.12 120.61 604.82 120.32 605.51 C120.03 606.2 119.79 606.85 119.46 607.49 C119.12 608.12 118.68 608.72 118.3 609.32 C117.91 609.92 117.53 610.49 117.15 611.07 C116.76 611.65 116.48 612.33 115.99 612.82 C115.5 613.3 114.81 614.12 114.2 613.97 C113.59 613.82 112.88 612.66 112.34 611.93 C111.8 611.21 111.42 610.39 110.96 609.62 C110.5 608.85 110.05 608.06 109.58 607.31 C109.12 606.57 108.64 605.87 108.17 605.15 C107.7 604.42 107.24 603.7 106.77 602.98 C106.3 602.26 105.88 601.51 105.37 600.81 C104.85 600.12 104.27 599.47 103.66 598.83 C103.05 598.19 102.36 597.6 101.71 596.99 C101.06 596.37 100.41 595.76 99.76 595.14 C99.11 594.53 98.52 593.84 97.81 593.3 C97.09 592.77 96.29 592.34 95.48 591.94 C94.67 591.53 93.78 591.22 92.92 590.86 C92.07 590.5 91.22 590.14 90.37 589.78 C89.51 589.42 88.68 589.01 87.81 588.7 C86.94 588.38 86.06 588.11 85.16 587.9 C84.26 587.68 83.33 587.56 82.41 587.39 C81.49 587.23 80.58 587.06 79.66 586.89 C78.74 586.72 77.83 586.56 76.91 586.39 C75.99 586.22 75.07 586.06 74.16 585.87 C73.25 585.68 72.34 585.48 71.43 585.27 C70.53 585.06 69.62 584.82 68.72 584.59 C67.82 584.36 66.91 584.13 66.01 583.91 C65.11 583.68 63.75 584.58 63.3 583.23 C62.85 581.87 63.3 577.04 63.3 575.8" fill="none" stroke="#ff6a00" stroke-width="1.5" stroke-linejoin="round"/>
<path d="M63.3 579.63 C63.46 579.2 63.94 577.89 64.26 577.03 C64.58 576.16 64.89 575.27 65.22 574.42 C65.54 573.56 65.85 572.73 66.21 571.91 C66.57 571.08 66.88 570.24 67.37 569.48 C67.86 568.72 68.56 568.05 69.15 567.33 C69.75 566.61 70.34 565.89 70.94 565.18 C71.53 564.46 72.13 563.74 72.72 563.03 C73.32 562.31 73.84 561.52 74.51 560.88 C75.18 560.23 75.97 559.7 76.74 559.14 C77.51 558.59 78.33 558.09 79.13 557.57 C79.93 557.05 80.73 556.52 81.53 556 C82.33 555.47 83.13 554.95 83.92 554.42 C84.72 553.9 85.52 553.37 86.32 552.85 C87.12 552.33 87.89 551.76 88.72 551.3 C89.55 550.83 90.42 550.44 91.3 550.07 C92.18 549.7 93.11 549.41 94.02 549.08 C94.92 548.76 95.83 548.43 96.74 548.1 C97.64 547.77 98.55 547.45 99.45 547.12 C100.36 546.79 101.27 546.47 102.17 546.14 C103.08 545.8 103.98 545.47 104.89 545.13 C105.79 544.8 106.71 544.49 107.6 544.12 C108.49 543.76 109.36 543.34 110.24 542.94 C111.11 542.55 111.99 542.15 112.86 541.74 C113.74 541.34 114.62 540.94 115.49 540.53 C116.36 540.12 117.3 539.78 118.1 539.27 C118.89 538.75 119.56 538.07 120.26 537.43 C120.96 536.78 121.61 536.08 122.29 535.41 C122.96 534.74 123.66 534.09 124.32 533.42 C124.98 532.74 125.63 532.05 126.26 531.35 C126.9 530.65 127.5 529.93 128.12 529.24 C128.74 528.55 129.34 527.87 129.99 527.21 C130.64 526.55 131.32 525.92 131.99 525.28 C132.67 524.65 133.31 523.97 134.03 523.38 C134.75 522.8 135.52 522.27 136.31 521.76 C137.1 521.25 137.93 520.76 138.76 520.32 C139.6 519.87 140.47 519.48 141.34 519.1 C142.22 518.71 143.11 518.32 144.02 518.02 C144.93 517.72 145.87 517.49 146.81 517.28 C147.75 517.08 148.71 516.96 149.66 516.79 C150.62 516.63 151.57 516.47 152.52 516.3 C153.48 516.14 154.43 515.97 155.38 515.82 C156.34 515.67 157.29 515.53 158.25 515.4 C159.21 515.27 160.17 515.16 161.13 515.04 C162.09 514.92 163.05 514.81 164.01 514.69 C164.96 514.56 165.92 514.45 166.88 514.31 C167.84 514.17 168.79 514 169.74 513.85 C170.7 513.7 171.65 513.55 172.6 513.4 C173.56 513.24 174.51 513.09 175.47 512.94 C176.42 512.79 177.37 512.64 178.33 512.48 C179.28 512.33 180.24 512.18 181.19 512.03 C182.15 511.88 183.1 511.72 184.05 511.57 C185.01 511.42 185.96 511.27 186.92 511.12 C187.87 510.96 188.83 510.82 189.78 510.66 C190.73 510.5 191.68 510.33 192.63 510.16 C193.58 509.98 194.53 509.81 195.48 509.63 C196.43 509.46 197.38 509.28 198.33 509.11 C199.28 508.94 200.23 508.76 201.18 508.59 C202.13 508.41 203.08 508.24 204.03 508.07 C204.98 507.89 205.93 507.72 206.88 507.54 C207.83 507.37 208.82 507.3 209.73 507.02 C210.65 506.73 211.49 506.24 212.37 505.83 C213.24 505.42 214.11 504.99 214.98 504.57 C215.85 504.15 216.73 503.74 217.59 503.31 C218.45 502.88 219.34 502.49 220.16 501.99 C220.97 501.49 221.7 500.86 222.47 500.31 C223.24 499.75 224.02 499.2 224.79 498.64 C225.55 498.09 226.32 497.52 227.07 496.95 C227.83 496.38 228.58 495.8 229.34 495.23 C230.09 494.65 231.22 489.68 231.6 493.5 C231.98 497.32 232.01 513.82 231.6 518.17 C231.19 522.51 229.95 519.09 229.12 519.55 C228.3 520.01 227.41 520.4 226.64 520.94 C225.88 521.47 225.22 522.13 224.53 522.75 C223.84 523.38 223.26 524.14 222.51 524.68 C221.76 525.23 220.9 525.66 220.04 526.02 C219.19 526.38 218.3 526.72 217.38 526.84 C216.46 526.95 215.49 526.76 214.54 526.73 C213.59 526.69 212.65 526.61 211.7 526.61 C210.76 526.62 209.81 526.69 208.86 526.76 C207.92 526.84 206.97 526.98 206.03 527.08 C205.08 527.18 204.13 527.26 203.18 527.34 C202.23 527.43 201.28 527.51 200.33 527.6 C199.38 527.69 198.43 527.77 197.48 527.86 C196.52 527.94 195.57 528.03 194.62 528.11 C193.67 528.2 192.72 528.29 191.77 528.37 C190.82 528.45 189.87 528.52 188.92 528.59 C187.97 528.66 187.02 528.73 186.07 528.8 C185.11 528.88 184.16 528.95 183.21 529.02 C182.26 529.09 181.31 529.16 180.36 529.23 C179.41 529.3 178.45 529.37 177.5 529.44 C176.55 529.51 175.6 529.58 174.65 529.65 C173.7 529.72 172.74 529.78 171.79 529.85 C170.84 529.92 169.88 529.94 168.94 530.06 C167.99 530.17 167.06 530.34 166.13 530.54 C165.2 530.74 164.28 531.01 163.36 531.25 C162.44 531.49 161.52 531.73 160.59 531.96 C159.67 532.19 158.75 532.45 157.82 532.65 C156.89 532.86 155.94 533.01 155.01 533.18 C154.07 533.36 153.13 533.53 152.19 533.71 C151.26 533.88 150.32 534.05 149.38 534.23 C148.45 534.42 147.52 534.62 146.59 534.83 C145.65 535.03 144.64 535.08 143.8 535.45 C142.95 535.81 142.28 536.48 141.54 537.03 C140.8 537.59 139.99 538.14 139.37 538.79 C138.75 539.43 138.27 540.17 137.83 540.92 C137.38 541.68 137.08 542.53 136.71 543.33 C136.34 544.13 135.97 544.93 135.6 545.74 C135.23 546.54 134.83 547.34 134.49 548.16 C134.15 548.98 133.85 549.82 133.56 550.65 C133.28 551.49 133.04 552.34 132.77 553.18 C132.51 554.02 132.24 554.86 131.98 555.7 C131.71 556.54 131.44 557.37 131.18 558.22 C130.93 559.08 130.68 559.97 130.43 560.85 C130.18 561.73 129.92 562.6 129.68 563.5 C129.45 564.39 129.22 565.29 129.02 566.21 C128.81 567.13 128.65 568.08 128.47 569.02 C128.29 569.95 128.12 570.89 127.95 571.82 C127.77 572.76 127.6 573.7 127.42 574.63 C127.25 575.57 127.08 576.5 126.91 577.44 C126.74 578.38 126.58 579.32 126.42 580.26 C126.26 581.2 126.1 582.14 125.93 583.08 C125.77 584.02 125.61 584.96 125.44 585.9 C125.28 586.84 125.12 587.78 124.96 588.72 C124.79 589.66 124.63 590.6 124.47 591.54 C124.3 592.48 124.14 593.42 123.96 594.35 C123.79 595.29 123.6 596.22 123.42 597.16 C123.24 598.09 123.06 599.03 122.87 599.96 C122.69 600.9 122.53 601.84 122.33 602.77 C122.13 603.69 121.92 604.6 121.7 605.49 C121.47 606.39 121.21 607.29 120.97 608.14 C120.72 608.98 120.48 609.77 120.23 610.56 C119.99 611.35 119.8 612.12 119.49 612.87 C119.19 613.61 118.77 614.33 118.41 615.04 C118.04 615.75 117.67 616.44 117.31 617.15 C116.94 617.85 116.69 618.66 116.21 619.25 C115.72 619.84 115 620.81 114.39 620.7 C113.78 620.58 113.06 619.33 112.53 618.56 C112 617.8 111.66 616.92 111.22 616.1 C110.78 615.28 110.35 614.45 109.91 613.65 C109.47 612.84 109.02 612.07 108.58 611.28 C108.14 610.49 107.7 609.7 107.26 608.91 C106.82 608.12 106.44 607.3 105.95 606.55 C105.45 605.79 104.88 605.08 104.29 604.38 C103.69 603.69 103 603.04 102.36 602.38 C101.72 601.71 101.08 601.04 100.43 600.37 C99.79 599.7 99.22 598.95 98.51 598.36 C97.8 597.78 96.99 597.32 96.16 596.88 C95.34 596.44 94.43 596.11 93.57 595.72 C92.7 595.33 91.83 594.94 90.97 594.56 C90.1 594.17 89.25 593.73 88.37 593.39 C87.48 593.06 86.58 592.77 85.66 592.54 C84.74 592.31 83.79 592.19 82.85 592.02 C81.91 591.84 80.97 591.67 80.04 591.5 C79.1 591.32 78.16 591.15 77.22 590.97 C76.28 590.8 75.34 590.63 74.41 590.44 C73.47 590.25 72.54 590.04 71.62 589.82 C70.69 589.6 69.77 589.35 68.84 589.11 C67.92 588.87 67 588.63 66.07 588.4 C65.15 588.16 63.76 589.14 63.3 587.68 C62.84 586.22 63.3 580.97 63.3 579.63" fill="none" stroke="#ff3a00" stroke-width="1.5" stroke-linejoin="round"/>
<path d="M63.3 583.47 C63.44 583.01 63.86 581.63 64.13 580.72 C64.41 579.8 64.69 578.87 64.97 577.96 C65.25 577.05 65.51 576.15 65.82 575.26 C66.14 574.37 66.39 573.46 66.85 572.64 C67.31 571.82 68 571.1 68.57 570.33 C69.14 569.55 69.72 568.78 70.29 568.01 C70.86 567.24 71.44 566.47 72.01 565.69 C72.58 564.92 73.07 564.07 73.73 563.38 C74.38 562.68 75.17 562.11 75.94 561.52 C76.7 560.93 77.53 560.4 78.33 559.84 C79.12 559.28 79.92 558.72 80.72 558.16 C81.51 557.6 82.31 557.04 83.11 556.48 C83.91 555.92 84.7 555.36 85.5 554.8 C86.3 554.25 87.06 553.63 87.89 553.13 C88.72 552.64 89.6 552.21 90.49 551.82 C91.37 551.43 92.31 551.12 93.23 550.77 C94.14 550.43 95.06 550.08 95.97 549.73 C96.89 549.38 97.8 549.03 98.71 548.68 C99.63 548.34 100.54 547.99 101.46 547.64 C102.37 547.29 103.28 546.94 104.2 546.58 C105.11 546.23 106.04 545.91 106.94 545.53 C107.84 545.14 108.71 544.7 109.6 544.28 C110.48 543.86 111.36 543.44 112.24 543.02 C113.13 542.59 114.01 542.17 114.89 541.74 C115.77 541.31 116.73 540.98 117.53 540.44 C118.32 539.91 118.98 539.19 119.68 538.51 C120.37 537.84 121.01 537.09 121.67 536.38 C122.34 535.68 123.02 534.99 123.67 534.27 C124.32 533.55 124.95 532.81 125.57 532.07 C126.19 531.33 126.77 530.55 127.37 529.81 C127.97 529.06 128.55 528.3 129.18 527.58 C129.81 526.86 130.48 526.17 131.14 525.48 C131.79 524.78 132.42 524.04 133.13 523.4 C133.83 522.75 134.6 522.18 135.39 521.62 C136.17 521.06 137 520.53 137.83 520.04 C138.67 519.56 139.54 519.13 140.42 518.71 C141.31 518.3 142.21 517.89 143.13 517.57 C144.05 517.25 144.99 517.01 145.94 516.8 C146.89 516.58 147.87 516.46 148.84 516.3 C149.8 516.13 150.77 515.97 151.74 515.8 C152.7 515.64 153.67 515.46 154.63 515.3 C155.6 515.15 156.57 515.01 157.54 514.88 C158.51 514.75 159.49 514.63 160.46 514.51 C161.43 514.39 162.41 514.27 163.38 514.14 C164.35 514.01 165.32 513.89 166.29 513.74 C167.26 513.6 168.22 513.42 169.19 513.26 C170.16 513.1 171.12 512.94 172.09 512.78 C173.06 512.62 174.02 512.46 174.99 512.3 C175.96 512.14 176.92 511.98 177.89 511.82 C178.86 511.66 179.82 511.5 180.79 511.34 C181.76 511.18 182.73 511.02 183.69 510.86 C184.66 510.7 185.63 510.54 186.59 510.38 C187.56 510.22 188.53 510.07 189.49 509.9 C190.46 509.73 191.42 509.55 192.38 509.36 C193.35 509.18 194.31 509 195.27 508.81 C196.23 508.63 197.19 508.44 198.16 508.26 C199.12 508.07 200.08 507.89 201.04 507.7 C202.01 507.52 202.97 507.33 203.93 507.15 C204.89 506.97 205.85 506.78 206.82 506.6 C207.78 506.41 208.78 506.34 209.7 506.04 C210.63 505.75 211.48 505.24 212.37 504.82 C213.25 504.4 214.13 503.96 215.01 503.53 C215.89 503.1 216.77 502.68 217.64 502.23 C218.52 501.79 219.42 501.39 220.24 500.86 C221.05 500.34 221.77 499.66 222.54 499.07 C223.3 498.47 224.08 497.88 224.84 497.28 C225.6 496.68 226.36 496.07 227.11 495.46 C227.87 494.85 228.61 494.22 229.36 493.61 C230.1 492.99 231.23 487.59 231.6 491.75 C231.97 495.91 232.02 513.86 231.6 518.58 C231.18 523.3 229.93 519.57 229.09 520.07 C228.25 520.57 227.35 520.98 226.58 521.56 C225.81 522.13 225.16 522.84 224.47 523.52 C223.79 524.19 223.22 525.01 222.47 525.6 C221.72 526.19 220.84 526.66 219.97 527.04 C219.1 527.42 218.19 527.77 217.25 527.88 C216.31 527.99 215.31 527.76 214.34 527.69 C213.37 527.63 212.4 527.52 211.43 527.51 C210.46 527.49 209.49 527.54 208.52 527.61 C207.55 527.67 206.58 527.8 205.61 527.89 C204.64 527.99 203.66 528.07 202.69 528.15 C201.72 528.24 200.74 528.32 199.77 528.41 C198.8 528.49 197.83 528.58 196.85 528.66 C195.88 528.75 194.91 528.83 193.94 528.92 C192.96 529 191.99 529.1 191.02 529.17 C190.04 529.25 189.07 529.32 188.1 529.39 C187.12 529.46 186.15 529.53 185.18 529.6 C184.2 529.67 183.23 529.74 182.25 529.81 C181.28 529.87 180.31 529.95 179.33 530.01 C178.36 530.08 177.38 530.15 176.41 530.22 C175.44 530.29 174.46 530.36 173.49 530.42 C172.51 530.49 171.54 530.56 170.57 530.63 C169.59 530.7 168.61 530.71 167.64 530.83 C166.68 530.95 165.72 531.13 164.77 531.34 C163.82 531.55 162.89 531.85 161.95 532.1 C161.01 532.35 160.06 532.61 159.12 532.86 C158.18 533.11 157.24 533.38 156.29 533.6 C155.34 533.82 154.37 533.97 153.42 534.16 C152.46 534.34 151.5 534.53 150.54 534.71 C149.58 534.9 148.62 535.07 147.67 535.27 C146.71 535.47 145.76 535.69 144.81 535.9 C143.86 536.12 142.81 536.17 141.96 536.57 C141.11 536.97 140.43 537.7 139.69 538.3 C138.96 538.91 138.14 539.51 137.53 540.22 C136.92 540.93 136.46 541.73 136.05 542.55 C135.64 543.38 135.38 544.31 135.05 545.19 C134.71 546.06 134.38 546.94 134.04 547.82 C133.71 548.7 133.34 549.57 133.04 550.46 C132.74 551.35 132.48 552.26 132.24 553.16 C131.99 554.07 131.8 554.99 131.58 555.9 C131.36 556.81 131.14 557.72 130.92 558.64 C130.7 559.55 130.48 560.45 130.27 561.37 C130.05 562.29 129.84 563.23 129.63 564.16 C129.42 565.09 129.2 566.02 128.99 566.96 C128.79 567.9 128.59 568.84 128.4 569.79 C128.22 570.74 128.05 571.71 127.88 572.67 C127.71 573.63 127.55 574.59 127.38 575.55 C127.21 576.52 127.05 577.48 126.88 578.44 C126.72 579.4 126.55 580.36 126.39 581.32 C126.23 582.28 126.07 583.25 125.91 584.21 C125.75 585.17 125.59 586.14 125.43 587.1 C125.27 588.06 125.11 589.03 124.95 589.99 C124.79 590.95 124.63 591.91 124.47 592.88 C124.3 593.84 124.15 594.8 123.98 595.77 C123.82 596.73 123.65 597.69 123.49 598.65 C123.32 599.61 123.14 600.57 122.97 601.53 C122.8 602.49 122.62 603.45 122.45 604.41 C122.28 605.37 122.11 606.34 121.93 607.29 C121.75 608.24 121.56 609.19 121.37 610.13 C121.17 611.07 120.96 612.01 120.76 612.93 C120.55 613.84 120.35 614.73 120.14 615.62 C119.94 616.51 119.8 617.39 119.53 618.25 C119.26 619.11 118.86 619.93 118.52 620.76 C118.17 621.58 117.82 622.4 117.47 623.22 C117.12 624.04 116.9 624.99 116.42 625.69 C115.94 626.39 115.2 627.51 114.59 627.43 C113.97 627.34 113.24 626 112.73 625.19 C112.21 624.38 111.9 623.45 111.48 622.58 C111.07 621.71 110.65 620.84 110.24 619.98 C109.82 619.12 109.4 618.27 108.99 617.41 C108.58 616.56 108.17 615.7 107.76 614.85 C107.35 613.99 107 613.1 106.52 612.28 C106.05 611.46 105.5 610.69 104.92 609.94 C104.33 609.18 103.65 608.49 103.01 607.77 C102.38 607.04 101.75 606.32 101.11 605.6 C100.48 604.87 99.92 604.05 99.21 603.43 C98.5 602.8 97.68 602.3 96.85 601.83 C96.02 601.36 95.09 601 94.21 600.58 C93.33 600.17 92.45 599.75 91.57 599.34 C90.69 598.92 89.82 598.45 88.93 598.09 C88.03 597.73 87.11 597.43 86.17 597.18 C85.23 596.94 84.25 596.82 83.29 596.64 C82.33 596.46 81.37 596.28 80.41 596.1 C79.45 595.92 78.49 595.74 77.53 595.56 C76.57 595.38 75.61 595.21 74.65 595.01 C73.7 594.82 72.75 594.6 71.8 594.37 C70.85 594.14 69.91 593.88 68.97 593.63 C68.02 593.38 67.08 593.13 66.13 592.88 C65.19 592.64 63.77 593.71 63.3 592.14 C62.83 590.57 63.3 584.91 63.3 583.47" fill="none" stroke="#f01010" stroke-width="1.5" stroke-linejoin="round"/>
<path d="M63.3 587.3 C63.42 586.82 63.77 585.37 64.01 584.4 C64.25 583.44 64.48 582.47 64.72 581.51 C64.96 580.54 65.16 579.57 65.43 578.61 C65.7 577.66 65.91 576.68 66.33 575.8 C66.76 574.92 67.43 574.15 67.99 573.32 C68.54 572.49 69.09 571.67 69.64 570.84 C70.19 570.01 70.74 569.19 71.29 568.36 C71.84 567.53 72.31 566.62 72.95 565.88 C73.59 565.14 74.37 564.53 75.13 563.9 C75.89 563.28 76.72 562.71 77.52 562.12 C78.32 561.52 79.11 560.93 79.91 560.33 C80.7 559.74 81.5 559.14 82.29 558.55 C83.09 557.95 83.88 557.35 84.68 556.76 C85.48 556.16 86.24 555.5 87.07 554.97 C87.9 554.44 88.77 553.99 89.67 553.57 C90.57 553.15 91.52 552.83 92.44 552.46 C93.36 552.1 94.28 551.73 95.21 551.36 C96.13 550.99 97.05 550.62 97.97 550.25 C98.9 549.88 99.82 549.51 100.74 549.14 C101.66 548.77 102.59 548.41 103.51 548.04 C104.43 547.67 105.37 547.33 106.28 546.93 C107.19 546.53 108.07 546.06 108.96 545.62 C109.85 545.18 110.73 544.73 111.62 544.29 C112.51 543.84 113.4 543.4 114.29 542.96 C115.18 542.51 116.16 542.18 116.96 541.62 C117.76 541.06 118.41 540.31 119.09 539.6 C119.77 538.89 120.4 538.11 121.06 537.36 C121.71 536.61 122.38 535.88 123.02 535.12 C123.66 534.35 124.28 533.58 124.88 532.79 C125.48 532 126.04 531.18 126.62 530.37 C127.21 529.57 127.76 528.74 128.37 527.96 C128.98 527.17 129.64 526.42 130.28 525.67 C130.92 524.91 131.52 524.1 132.22 523.41 C132.92 522.71 133.68 522.08 134.46 521.48 C135.24 520.87 136.07 520.29 136.91 519.77 C137.75 519.24 138.62 518.77 139.5 518.33 C140.39 517.89 141.3 517.46 142.23 517.12 C143.16 516.78 144.11 516.53 145.07 516.31 C146.04 516.09 147.03 515.97 148.01 515.8 C148.99 515.64 149.97 515.47 150.95 515.3 C151.93 515.13 152.91 514.95 153.89 514.79 C154.87 514.64 155.85 514.5 156.84 514.36 C157.82 514.23 158.81 514.1 159.79 513.98 C160.78 513.85 161.76 513.73 162.75 513.59 C163.73 513.46 164.72 513.33 165.7 513.18 C166.68 513.03 167.66 512.84 168.64 512.67 C169.62 512.51 170.6 512.34 171.58 512.17 C172.56 512 173.54 511.83 174.52 511.66 C175.5 511.49 176.47 511.33 177.45 511.16 C178.43 510.99 179.41 510.82 180.39 510.65 C181.37 510.48 182.35 510.32 183.33 510.15 C184.31 509.98 185.29 509.81 186.27 509.64 C187.25 509.47 188.23 509.31 189.21 509.14 C190.18 508.96 191.16 508.76 192.13 508.57 C193.11 508.38 194.08 508.18 195.06 507.99 C196.03 507.79 197.01 507.6 197.98 507.4 C198.95 507.21 199.93 507.01 200.9 506.82 C201.88 506.62 202.85 506.43 203.83 506.23 C204.8 506.04 205.78 505.84 206.75 505.65 C207.72 505.46 208.74 505.37 209.67 505.07 C210.61 504.76 211.48 504.25 212.37 503.82 C213.26 503.39 214.15 502.93 215.04 502.48 C215.92 502.04 216.82 501.61 217.7 501.15 C218.58 500.69 219.5 500.29 220.32 499.74 C221.13 499.18 221.84 498.46 222.61 497.83 C223.37 497.19 224.14 496.56 224.9 495.92 C225.65 495.28 226.41 494.63 227.15 493.97 C227.9 493.32 228.63 492.65 229.38 491.99 C230.12 491.32 231.23 485.5 231.6 490 C231.97 494.5 232.02 513.9 231.6 519 C231.18 524.1 229.91 520.06 229.06 520.59 C228.21 521.12 227.29 521.56 226.52 522.18 C225.75 522.79 225.1 523.56 224.42 524.28 C223.73 525.01 223.18 525.89 222.43 526.52 C221.67 527.15 220.78 527.65 219.89 528.05 C219.01 528.45 218.08 528.82 217.13 528.92 C216.17 529.03 215.14 528.75 214.14 528.66 C213.15 528.58 212.15 528.44 211.16 528.4 C210.16 528.37 209.17 528.4 208.17 528.46 C207.18 528.51 206.18 528.62 205.19 528.71 C204.19 528.79 203.2 528.88 202.2 528.96 C201.21 529.05 200.21 529.13 199.22 529.22 C198.22 529.3 197.23 529.39 196.23 529.47 C195.24 529.55 194.24 529.64 193.25 529.72 C192.25 529.81 191.26 529.9 190.26 529.98 C189.27 530.05 188.27 530.12 187.27 530.19 C186.28 530.25 185.28 530.32 184.28 530.39 C183.29 530.46 182.29 530.52 181.3 530.59 C180.3 530.66 179.3 530.73 178.31 530.8 C177.31 530.86 176.31 530.93 175.32 531 C174.32 531.07 173.33 531.13 172.33 531.2 C171.33 531.27 170.34 531.34 169.34 531.4 C168.34 531.47 167.34 531.49 166.35 531.61 C165.37 531.73 164.39 531.92 163.42 532.14 C162.45 532.37 161.5 532.68 160.54 532.95 C159.57 533.22 158.61 533.49 157.65 533.76 C156.69 534.02 155.73 534.32 154.76 534.55 C153.79 534.78 152.8 534.94 151.82 535.14 C150.84 535.33 149.87 535.53 148.89 535.72 C147.91 535.92 146.92 536.1 145.95 536.31 C144.97 536.52 144 536.75 143.03 536.98 C142.06 537.21 140.98 537.27 140.12 537.7 C139.26 538.13 138.59 538.92 137.85 539.57 C137.11 540.23 136.28 540.88 135.69 541.65 C135.09 542.42 134.66 543.28 134.27 544.18 C133.89 545.08 133.68 546.09 133.38 547.04 C133.08 548 132.78 548.95 132.48 549.9 C132.18 550.85 131.85 551.8 131.59 552.76 C131.33 553.72 131.11 554.69 130.91 555.67 C130.71 556.65 130.56 557.64 130.39 558.62 C130.21 559.61 130.04 560.59 129.87 561.57 C129.69 562.56 129.52 563.54 129.35 564.52 C129.17 565.51 129 566.49 128.83 567.47 C128.65 568.46 128.48 569.44 128.31 570.42 C128.13 571.41 127.96 572.39 127.79 573.37 C127.62 574.36 127.45 575.34 127.29 576.33 C127.13 577.31 126.97 578.3 126.81 579.29 C126.66 580.27 126.5 581.26 126.34 582.24 C126.18 583.23 126.03 584.22 125.87 585.2 C125.71 586.19 125.55 587.17 125.39 588.16 C125.24 589.15 125.08 590.13 124.92 591.12 C124.76 592.1 124.61 593.09 124.45 594.08 C124.29 595.06 124.13 596.05 123.97 597.03 C123.82 598.02 123.66 599.01 123.5 599.99 C123.34 600.98 123.17 601.96 123.01 602.95 C122.84 603.93 122.68 604.92 122.52 605.9 C122.35 606.89 122.19 607.87 122.02 608.86 C121.86 609.84 121.7 610.83 121.53 611.81 C121.37 612.8 121.2 613.78 121.04 614.77 C120.87 615.75 120.71 616.74 120.55 617.72 C120.38 618.71 120.22 619.69 120.05 620.68 C119.89 621.66 119.8 622.67 119.56 623.63 C119.32 624.6 118.95 625.53 118.63 626.47 C118.31 627.42 117.96 628.36 117.63 629.3 C117.3 630.24 117.11 631.31 116.63 632.12 C116.16 632.93 115.4 634.21 114.78 634.16 C114.16 634.1 113.43 632.66 112.92 631.82 C112.41 630.97 112.13 629.98 111.74 629.06 C111.35 628.14 110.95 627.23 110.56 626.31 C110.17 625.39 109.78 624.47 109.4 623.55 C109.01 622.63 108.63 621.7 108.25 620.78 C107.87 619.86 107.55 618.9 107.1 618.01 C106.65 617.13 106.12 616.3 105.55 615.49 C104.97 614.68 104.29 613.93 103.67 613.16 C103.04 612.38 102.42 611.6 101.79 610.82 C101.16 610.04 100.62 609.16 99.91 608.49 C99.2 607.81 98.38 607.28 97.54 606.78 C96.69 606.27 95.75 605.89 94.85 605.45 C93.96 605 93.06 604.56 92.17 604.12 C91.27 603.67 90.4 603.17 89.48 602.78 C88.57 602.4 87.63 602.08 86.67 601.83 C85.71 601.58 84.71 601.45 83.73 601.27 C82.75 601.08 81.77 600.89 80.79 600.71 C79.81 600.52 78.83 600.33 77.84 600.15 C76.86 599.96 75.88 599.79 74.9 599.59 C73.92 599.38 72.95 599.16 71.98 598.92 C71.01 598.68 70.05 598.41 69.09 598.15 C68.12 597.89 67.16 597.63 66.19 597.37 C65.23 597.12 63.78 598.28 63.3 596.6 C62.82 594.92 63.3 588.85 63.3 587.3" fill="none" stroke="#d80a0a" stroke-width="1.5" stroke-linejoin="round"/>
<text x="45.5" y="496" font-size="17" font-family='"Liberation Serif", "Times New Roman", serif' font-weight="normal" fill="#000" textLength="20" lengthAdjust="spacingAndGlyphs">(c)</text>
<line x1="248.4" y1="546.5" x2="248.4" y2="582.5" stroke="#000" stroke-width="2.3"/>
<text x="205.5" y="568.4" font-size="12.7" font-family='"Liberation Sans", Arial, sans-serif' font-weight="bold" fill="#000" textLength="37.1" lengthAdjust="spacingAndGlyphs" stroke="#000" stroke-width="0.35">10 μA</text>
<text x="148.7" y="556.8" font-size="9.5" font-family='"Liberation Sans", Arial, sans-serif' font-weight="bold" fill="#000" textLength="36" lengthAdjust="spacingAndGlyphs" stroke="#000" stroke-width="0.2">20 mV/s</text>
<text x="149.2" y="638.9" font-size="9.5" font-family='"Liberation Sans", Arial, sans-serif' font-weight="bold" fill="#000" textLength="41.4" lengthAdjust="spacingAndGlyphs" stroke="#000" stroke-width="0.2">260 mV/s</text>
<line x1="161.2" y1="565.1" x2="161.2" y2="618" stroke="#000" stroke-width="1.1"/><path d="M158.6 616.5 L163.8 616.5 L161.2 624.2 Z" fill="#000"/>
<text x="27.9" y="609.9" font-size="13.4" font-family='"Liberation Sans", Arial, sans-serif' font-weight="bold" fill="#000" textLength="89.4" lengthAdjust="spacingAndGlyphs" transform="rotate(-90 27.9 609.9)" stroke="#000" stroke-width="0.35">Current&#160; (μA)</text>
<text x="98.4" y="690" font-size="13.2" font-family='"Liberation Sans", Arial, sans-serif' font-weight="bold" fill="#000" textLength="90.6" lengthAdjust="spacingAndGlyphs" stroke="#000" stroke-width="0.35">E/V (Ag/AgCl)</text>
<g stroke="#9a9a9a" stroke-width="1" fill="none"><path d="M316.6 277 L345 268.6 L533.6 277.7"/><path d="M316.6 277 L313.6 277"/><path d="M316.6 303.2 L345.3 293.6 L533.6 303.6"/><path d="M316.6 303.2 L313.6 303.2"/><path d="M317 328.9 L345.6 316.8 L533.6 330.9"/><path d="M317 328.9 L314 328.9"/><path d="M317.5 354.3 L346.2 340.7 L531.5 356.5"/><path d="M317.5 354.3 L314.5 354.3"/><path d="M318 379.2 L347.2 363.7 L529.6 382.1"/><path d="M318 379.2 L315 379.2"/><path d="M318.7 404.2 L348.7 386.4 L528.5 406.4"/><path d="M318.7 404.2 L315.7 404.2"/><path d="M320.9 428.7 L349.5 408.7 L527.2 430.9"/><path d="M320.9 428.7 L317.9 428.7"/><path d="M316.6 277 L320.9 428.7"/><path d="M345 268.6 L349.5 408.7"/><path d="M320.9 428.7 L512.5 455.2 L527.2 430.9"/></g>
<path d="M347.7 276.2 L347.7 299.5 A13.4 3 0 0 0 374.5 299.5 L374.5 276.2 A13.4 3 0 0 0 347.7 276.2 Z" fill="url(#cyl1)"/>
<ellipse cx="361.1" cy="276.2" rx="13.4" ry="3" fill="#6a2ab0"/>
<path d="M410.4 279 L410.4 340.5 A13.2 3.2 0 0 0 436.8 340.5 L436.8 279 A13.2 3.2 0 0 0 410.4 279 Z" fill="url(#cyl2)"/>
<ellipse cx="423.6" cy="279" rx="13.2" ry="3.2" fill="#b04844"/>
<path d="M476.2 283.2 L476.2 436.5 A14.3 3.6 0 0 0 504.8 436.5 L504.8 283.2 A14.3 3.6 0 0 0 476.2 283.2 Z" fill="url(#cyl3)"/>
<ellipse cx="490.5" cy="283.2" rx="14.3" ry="3.6" fill="#38dede"/>
<path d="M316.6 277 L517.3 288.6" stroke="#9a9a9a" stroke-width="1" fill="none"/>
<text x="301.6" y="280.9" font-size="10" font-family='"Liberation Sans", Arial, sans-serif' font-weight="bold" fill="#000" text-anchor="middle" textLength="6" lengthAdjust="spacingAndGlyphs" stroke="#000" stroke-width="0.2">0</text>
<text x="301.6" y="307.9" font-size="10" font-family='"Liberation Sans", Arial, sans-serif' font-weight="bold" fill="#000" text-anchor="middle" textLength="11" lengthAdjust="spacingAndGlyphs" stroke="#000" stroke-width="0.2">-5</text>
<text x="301.6" y="333.5" font-size="10" font-family='"Liberation Sans", Arial, sans-serif' font-weight="bold" fill="#000" text-anchor="middle" textLength="15.8" lengthAdjust="spacingAndGlyphs" stroke="#000" stroke-width="0.2">-10</text>
<text x="301.6" y="359" font-size="10" font-family='"Liberation Sans", Arial, sans-serif' font-weight="bold" fill="#000" text-anchor="middle" textLength="15.8" lengthAdjust="spacingAndGlyphs" stroke="#000" stroke-width="0.2">-15</text>
<text x="301.6" y="383.3" font-size="10" font-family='"Liberation Sans", Arial, sans-serif' font-weight="bold" fill="#000" text-anchor="middle" textLength="15.8" lengthAdjust="spacingAndGlyphs" stroke="#000" stroke-width="0.2">-20</text>
<text x="301.6" y="408.7" font-size="10" font-family='"Liberation Sans", Arial, sans-serif' font-weight="bold" fill="#000" text-anchor="middle" textLength="15.8" lengthAdjust="spacingAndGlyphs" stroke="#000" stroke-width="0.2">-25</text>
<text x="301.6" y="432.9" font-size="10" font-family='"Liberation Sans", Arial, sans-serif' font-weight="bold" fill="#000" text-anchor="middle" textLength="15.8" lengthAdjust="spacingAndGlyphs" stroke="#000" stroke-width="0.2">-30</text>
<text x="273.3" y="398.9" font-size="13.4" font-family='"Liberation Sans", Arial, sans-serif' font-weight="bold" fill="#000" textLength="89.2" lengthAdjust="spacingAndGlyphs" transform="rotate(-90 273.3 398.9)" stroke="#000" stroke-width="0.35">Current&#160; (μA)</text>
<text x="273.5" y="271" font-size="16" font-family='"Liberation Serif", "Times New Roman", serif' font-weight="normal" fill="#000" textLength="21" lengthAdjust="spacingAndGlyphs">(b)</text>
<rect x="298.5" y="239" width="24.5" height="30.5" fill="#fdf8b0"/>
<text x="303.6" y="263.3" font-size="20.5" font-family='"Liberation Serif", "Times New Roman", serif' font-weight="bold" fill="#000" textLength="14.7" lengthAdjust="spacingAndGlyphs">C</text>
<circle cx="482" cy="450.6" r="0.7" fill="#333"/>
<circle cx="487.2" cy="451.5" r="0.7" fill="#333"/>
<circle cx="496.8" cy="452.4" r="0.7" fill="#333"/>
<rect x="318.3" y="478.9" width="210.8" height="168.8" fill="none" stroke="#000" stroke-width="1.5"/>
<line x1="318.3" y1="497.1" x2="314.3" y2="497.1" stroke="#000" stroke-width="1.1"/>
<text x="308.8" y="500.7" font-size="10.3" font-family='"Liberation Sans", Arial, sans-serif' font-weight="bold" fill="#000" text-anchor="end" textLength="8.5" lengthAdjust="spacingAndGlyphs" stroke="#000" stroke-width="0.25">-5</text>
<line x1="318.3" y1="534.73" x2="314.3" y2="534.73" stroke="#000" stroke-width="1.1"/>
<text x="308.8" y="538.33" font-size="10.3" font-family='"Liberation Sans", Arial, sans-serif' font-weight="bold" fill="#000" text-anchor="end" textLength="14.2" lengthAdjust="spacingAndGlyphs" stroke="#000" stroke-width="0.25">-15</text>
<line x1="318.3" y1="572.35" x2="314.3" y2="572.35" stroke="#000" stroke-width="1.1"/>
<text x="308.8" y="575.95" font-size="10.3" font-family='"Liberation Sans", Arial, sans-serif' font-weight="bold" fill="#000" text-anchor="end" textLength="14.2" lengthAdjust="spacingAndGlyphs" stroke="#000" stroke-width="0.25">-25</text>
<line x1="318.3" y1="609.98" x2="314.3" y2="609.98" stroke="#000" stroke-width="1.1"/>
<text x="308.8" y="613.58" font-size="10.3" font-family='"Liberation Sans", Arial, sans-serif' font-weight="bold" fill="#000" text-anchor="end" textLength="14.2" lengthAdjust="spacingAndGlyphs" stroke="#000" stroke-width="0.25">-35</text>
<line x1="318.3" y1="647.6" x2="314.3" y2="647.6" stroke="#000" stroke-width="1.1"/>
<text x="308.8" y="651.2" font-size="10.3" font-family='"Liberation Sans", Arial, sans-serif' font-weight="bold" fill="#000" text-anchor="end" textLength="14.2" lengthAdjust="spacingAndGlyphs" stroke="#000" stroke-width="0.25">-45</text>
<line x1="318.5" y1="647.7" x2="318.5" y2="651" stroke="#000" stroke-width="1.1"/>
<text x="318.5" y="664.9" font-size="10.5" font-family='"Liberation Sans", Arial, sans-serif' font-weight="bold" fill="#000" text-anchor="middle" textLength="5.9" lengthAdjust="spacingAndGlyphs" stroke="#000" stroke-width="0.25">0</text>
<line x1="388.83" y1="647.7" x2="388.83" y2="651" stroke="#000" stroke-width="1.1"/>
<text x="388.83" y="664.9" font-size="10.5" font-family='"Liberation Sans", Arial, sans-serif' font-weight="bold" fill="#000" text-anchor="middle" textLength="17.8" lengthAdjust="spacingAndGlyphs" stroke="#000" stroke-width="0.25">100</text>
<line x1="459.16" y1="647.7" x2="459.16" y2="651" stroke="#000" stroke-width="1.1"/>
<text x="459.16" y="664.9" font-size="10.5" font-family='"Liberation Sans", Arial, sans-serif' font-weight="bold" fill="#000" text-anchor="middle" textLength="17.8" lengthAdjust="spacingAndGlyphs" stroke="#000" stroke-width="0.25">200</text>
<line x1="529.49" y1="647.7" x2="529.49" y2="651" stroke="#000" stroke-width="1.1"/>
<text x="529.49" y="664.9" font-size="10.5" font-family='"Liberation Sans", Arial, sans-serif' font-weight="bold" fill="#000" text-anchor="middle" textLength="17.8" lengthAdjust="spacingAndGlyphs" stroke="#000" stroke-width="0.25">300</text>
<line x1="360" y1="672.2" x2="493.3" y2="672.2" stroke="#e4e4e4" stroke-width="1"/>
<line x1="287.5" y1="511" x2="287.5" y2="620" stroke="#e8e8e8" stroke-width="1"/>
<text x="368.9" y="687.3" font-size="13" font-family='"Liberation Sans", Arial, sans-serif' font-weight="bold" fill="#000" textLength="112.1" lengthAdjust="spacingAndGlyphs" stroke="#000" stroke-width="0.35">Scan rate (mV/s)</text>
<text x="279.9" y="607.4" font-size="13.4" font-family='"Liberation Sans", Arial, sans-serif' font-weight="bold" fill="#000" textLength="90.6" lengthAdjust="spacingAndGlyphs" transform="rotate(-90 279.9 607.4)" stroke="#000" stroke-width="0.35">Current&#160; (μA)</text>
<text x="322.5" y="501" font-size="16" font-family='"Liberation Serif", "Times New Roman", serif' font-weight="normal" fill="#000" textLength="20.3" lengthAdjust="spacingAndGlyphs">(d)</text>
<line x1="332" y1="522.8" x2="501.5" y2="617.5" stroke="#4a82d0" stroke-width="1.1" stroke-dasharray="1.1 1.1"/>
<path d="M332.57 520.49 L332.57 525.93" stroke="#555" stroke-width="1.3" fill="none"/><path d="M330.77 520.99 L334.37 520.99 M330.77 525.43 L334.37 525.43" stroke="#555" stroke-width="1.6" fill="none"/>
<ellipse cx="332.57" cy="523.21" rx="2.9" ry="3.2" fill="#3f76c6"/>
<path d="M346.63 521.43 L346.63 527.71" stroke="#555" stroke-width="1.3" fill="none"/><path d="M344.83 521.93 L348.43 521.93 M344.83 527.21 L348.43 527.21" stroke="#555" stroke-width="1.6" fill="none"/>
<ellipse cx="346.63" cy="524.57" rx="2.9" ry="3.2" fill="#3f76c6"/>
<path d="M360.7 531.92 L360.7 539.04" stroke="#555" stroke-width="1.3" fill="none"/><path d="M358.9 532.42 L362.5 532.42 M358.9 538.54 L362.5 538.54" stroke="#555" stroke-width="1.6" fill="none"/>
<ellipse cx="360.7" cy="535.48" rx="2.9" ry="3.2" fill="#3f76c6"/>
<path d="M374.76 543.54 L374.76 551.5" stroke="#555" stroke-width="1.3" fill="none"/><path d="M372.96 544.04 L376.56 544.04 M372.96 551 L376.56 551" stroke="#555" stroke-width="1.6" fill="none"/>
<ellipse cx="374.76" cy="547.52" rx="2.9" ry="3.2" fill="#3f76c6"/>
<path d="M388.83 553.65 L388.83 562.45" stroke="#555" stroke-width="1.3" fill="none"/><path d="M387.03 554.15 L390.63 554.15 M387.03 561.95 L390.63 561.95" stroke="#555" stroke-width="1.6" fill="none"/>
<ellipse cx="388.83" cy="558.05" rx="2.9" ry="3.2" fill="#3f76c6"/>
<path d="M402.9 562.26 L402.9 571.9" stroke="#555" stroke-width="1.3" fill="none"/><path d="M401.1 562.76 L404.7 562.76 M401.1 571.4 L404.7 571.4" stroke="#555" stroke-width="1.6" fill="none"/>
<ellipse cx="402.9" cy="567.08" rx="2.9" ry="3.2" fill="#3f76c6"/>
<path d="M416.96 568.62 L416.96 579.1" stroke="#555" stroke-width="1.3" fill="none"/><path d="M415.16 569.12 L418.76 569.12 M415.16 578.6 L418.76 578.6" stroke="#555" stroke-width="1.6" fill="none"/>
<ellipse cx="416.96" cy="573.86" rx="2.9" ry="3.2" fill="#3f76c6"/>
<path d="M431.03 576.85 L431.03 588.17" stroke="#555" stroke-width="1.3" fill="none"/><path d="M429.23 577.35 L432.83 577.35 M429.23 587.67 L432.83 587.67" stroke="#555" stroke-width="1.6" fill="none"/>
<ellipse cx="431.03" cy="582.51" rx="2.9" ry="3.2" fill="#3f76c6"/>
<path d="M445.09 582.45 L445.09 594.61" stroke="#555" stroke-width="1.3" fill="none"/><path d="M443.29 582.95 L446.89 582.95 M443.29 594.11 L446.89 594.11" stroke="#555" stroke-width="1.6" fill="none"/>
<ellipse cx="445.09" cy="588.53" rx="2.9" ry="3.2" fill="#3f76c6"/>
<path d="M459.16 592.19 L459.16 605.19" stroke="#555" stroke-width="1.3" fill="none"/><path d="M457.36 592.69 L460.96 592.69 M457.36 604.69 L460.96 604.69" stroke="#555" stroke-width="1.6" fill="none"/>
<ellipse cx="459.16" cy="598.69" rx="2.9" ry="3.2" fill="#3f76c6"/>
<path d="M473.23 596.28 L473.23 610.12" stroke="#555" stroke-width="1.3" fill="none"/><path d="M471.43 596.78 L475.03 596.78 M471.43 609.62 L475.03 609.62" stroke="#555" stroke-width="1.6" fill="none"/>
<ellipse cx="473.23" cy="603.2" rx="2.9" ry="3.2" fill="#3f76c6"/>
<path d="M487.29 600 L487.29 614.68" stroke="#555" stroke-width="1.3" fill="none"/><path d="M485.49 600.5 L489.09 600.5 M485.49 614.18 L489.09 614.18" stroke="#555" stroke-width="1.6" fill="none"/>
<ellipse cx="487.29" cy="607.34" rx="2.9" ry="3.2" fill="#3f76c6"/>
<path d="M501.36 609.36 L501.36 624.88" stroke="#555" stroke-width="1.3" fill="none"/><path d="M499.56 609.86 L503.16 609.86 M499.56 624.38 L503.16 624.38" stroke="#555" stroke-width="1.6" fill="none"/>
<ellipse cx="501.36" cy="617.12" rx="2.9" ry="3.2" fill="#3f76c6"/>
<rect x="7.5" y="7.5" width="537" height="693" fill="none" stroke="#c4c4c4" stroke-width="1"/>
<line x1="7" y1="6.9" x2="545" y2="6.9" stroke="#999" stroke-width="1.2"/>
<line x1="7" y1="237.5" x2="545" y2="237.5" stroke="#7a7a7a" stroke-width="2"/>
<line x1="287" y1="7" x2="287" y2="237" stroke="#6a6a6a" stroke-width="1.3"/>
<line x1="544.5" y1="7" x2="544.5" y2="237" stroke="#8a8a8a" stroke-width="1.2"/></svg>
</body></html>
